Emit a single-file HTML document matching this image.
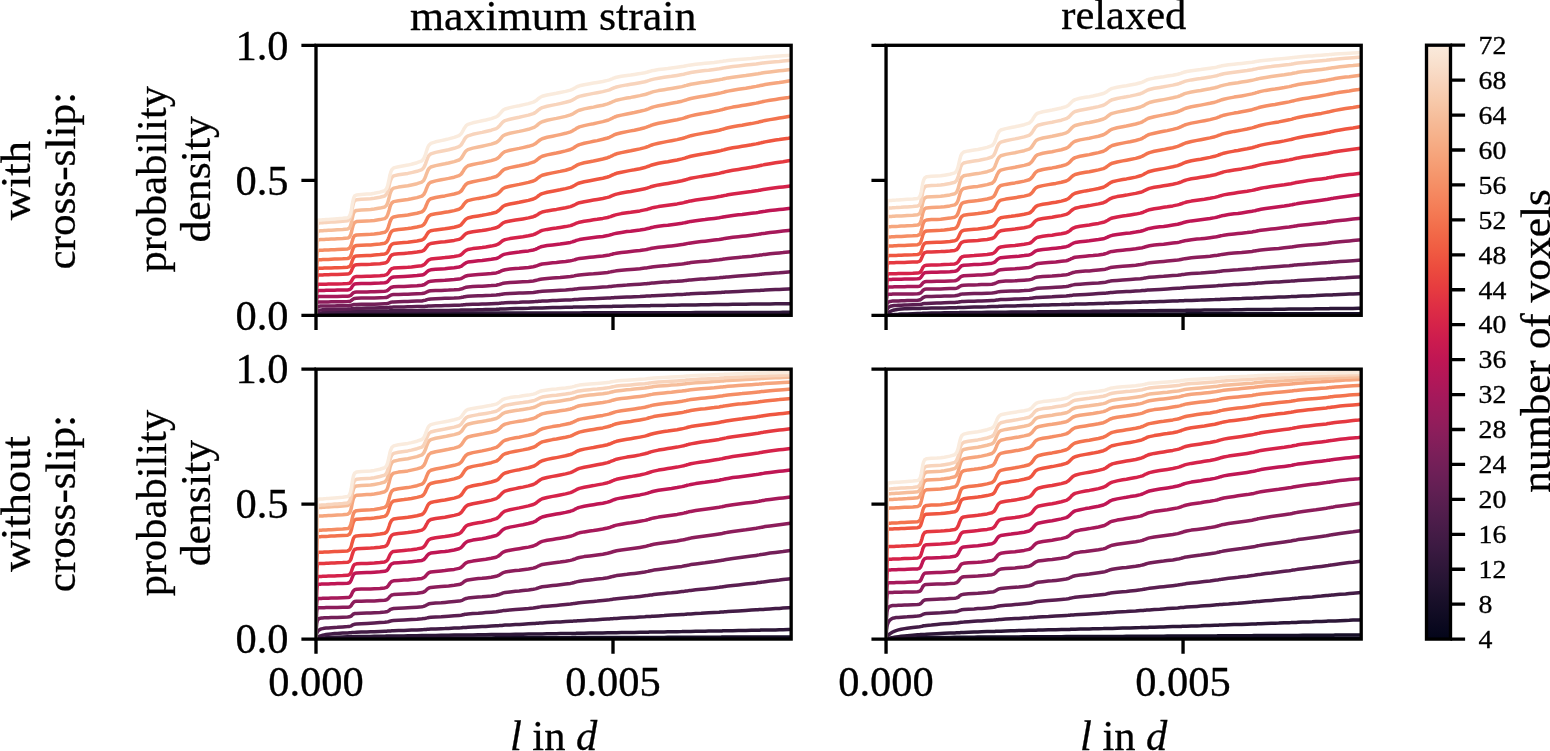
<!DOCTYPE html>
<html><head><meta charset="utf-8"><style>html,body{margin:0;padding:0;background:#fff;overflow:hidden}svg{display:block}</style></head><body>
<svg width="1550" height="751" viewBox="0 0 1550 751">
<defs>
<clipPath id="c1"><rect x="316.0" y="45.3" width="475.15" height="270.0"/></clipPath>
<clipPath id="c2"><rect x="886.05" y="45.3" width="475.15" height="270.0"/></clipPath>
<clipPath id="c3"><rect x="316.0" y="369.15" width="475.15" height="269.9"/></clipPath>
<clipPath id="c4"><rect x="886.05" y="369.15" width="475.15" height="269.9"/></clipPath>
<linearGradient id="cb" x1="0" y1="1" x2="0" y2="0">
<stop offset="0.0000" stop-color="#03051a"/>
<stop offset="0.0312" stop-color="#0d0a21"/>
<stop offset="0.0625" stop-color="#180f29"/>
<stop offset="0.0938" stop-color="#241432"/>
<stop offset="0.1250" stop-color="#30173a"/>
<stop offset="0.1562" stop-color="#3c1a42"/>
<stop offset="0.1875" stop-color="#481c48"/>
<stop offset="0.2188" stop-color="#541e4e"/>
<stop offset="0.2500" stop-color="#611f53"/>
<stop offset="0.2812" stop-color="#6e1f57"/>
<stop offset="0.3125" stop-color="#7b1f59"/>
<stop offset="0.3438" stop-color="#891e5b"/>
<stop offset="0.3750" stop-color="#971c5b"/>
<stop offset="0.4062" stop-color="#a4195b"/>
<stop offset="0.4375" stop-color="#b21758"/>
<stop offset="0.4688" stop-color="#bf1654"/>
<stop offset="0.5000" stop-color="#cb1b4f"/>
<stop offset="0.5312" stop-color="#d62449"/>
<stop offset="0.5625" stop-color="#df2f44"/>
<stop offset="0.5938" stop-color="#e73d3f"/>
<stop offset="0.6250" stop-color="#ec4c3e"/>
<stop offset="0.6562" stop-color="#f05c42"/>
<stop offset="0.6875" stop-color="#f26b49"/>
<stop offset="0.7188" stop-color="#f47a54"/>
<stop offset="0.7500" stop-color="#f58860"/>
<stop offset="0.7812" stop-color="#f5966c"/>
<stop offset="0.8125" stop-color="#f6a37a"/>
<stop offset="0.8438" stop-color="#f6b089"/>
<stop offset="0.8750" stop-color="#f6bc99"/>
<stop offset="0.9062" stop-color="#f7c9aa"/>
<stop offset="0.9375" stop-color="#f8d4bc"/>
<stop offset="0.9688" stop-color="#f9e0cd"/>
<stop offset="1.0000" stop-color="#faebdd"/>
</linearGradient>
</defs>
<rect width="1550" height="751" fill="#fff"/>
<g clip-path="url(#c1)" fill="none" stroke-width="3.5" stroke-linejoin="round" stroke-linecap="butt">
<polyline points="316.0,315.3 316.1,315.3 316.1,315.3 316.2,315.3 316.2,315.3 316.3,315.3 316.3,315.3 316.4,315.3 316.5,315.3 316.6,315.3 316.7,315.3 316.9,315.3 317.1,315.3 317.3,315.3 317.6,315.3 318.0,315.3 318.4,315.2 318.9,315.2 319.6,315.2 320.4,315.2 321.4,315.2 322.7,315.2 324.2,315.2 326.1,315.1 328.3,315.1 331.1,315.1 334.6,315.1 337.2,315.1 342.7,315.1 347.6,315.0 349.4,315.0 350.5,315.0 351.3,315.0 352.0,315.0 352.8,315.0 353.5,315.0 354.6,315.0 356.5,315.0 361.3,315.0 366.9,315.0 370.6,315.0 374.3,315.0 379.9,315.0 384.7,315.0 386.6,315.0 387.7,315.0 388.4,315.0 389.2,315.0 389.9,315.0 390.7,315.0 391.8,315.0 393.6,315.0 398.5,315.0 404.0,315.0 407.8,315.0 411.5,315.0 417.0,315.0 421.9,315.0 423.7,315.0 424.8,315.0 425.6,315.0 426.3,315.0 427.1,315.0 427.8,315.0 428.9,315.0 430.8,315.0 435.6,315.0 441.2,315.0 444.9,315.0 448.6,315.0 454.2,315.0 459.0,315.0 460.9,315.0 462.0,315.0 462.7,315.0 463.5,315.0 464.2,315.0 465.0,315.0 466.1,315.0 467.9,315.0 472.8,315.0 478.3,315.0 482.1,315.0 485.8,315.0 491.3,315.0 496.2,315.0 498.0,315.0 499.1,315.0 499.9,315.0 500.6,315.0 501.4,315.0 502.1,315.0 503.2,315.0 505.1,315.0 509.9,315.0 515.5,315.0 519.2,315.0 522.9,315.0 528.5,315.0 533.3,315.0 535.2,315.0 536.3,315.0 537.0,315.0 537.8,315.0 538.5,315.0 539.3,315.0 540.4,315.0 542.2,315.0 547.1,315.0 552.6,315.0 556.4,315.0 560.1,315.0 565.6,315.0 570.5,315.0 572.3,315.0 573.4,315.0 574.2,315.0 574.9,315.0 575.7,315.0 576.4,315.0 577.5,315.0 579.4,315.0 584.2,315.0 589.8,315.0 593.5,315.0 597.2,315.0 602.8,315.0 607.6,315.0 609.5,315.0 610.6,315.0 611.3,315.0 612.1,315.0 612.8,315.0 613.6,315.0 614.7,315.0 616.5,315.0 621.4,315.0 626.9,315.0 630.7,315.0 634.4,315.0 639.9,315.0 644.8,315.0 646.6,315.0 647.7,315.0 648.5,315.0 649.2,315.0 650.0,315.0 650.7,315.0 651.8,315.0 653.7,315.0 658.5,315.0 664.1,315.0 667.8,315.0 671.5,315.0 677.1,315.0 681.9,315.0 683.8,315.0 684.9,315.0 685.6,315.0 686.4,315.0 687.1,315.0 687.9,315.0 689.0,315.0 690.8,315.0 695.7,315.0 701.2,315.0 705.0,315.0 708.7,315.0 714.2,315.0 719.1,315.0 720.9,315.0 722.0,315.0 722.8,315.0 723.5,315.0 724.3,315.0 725.0,315.0 726.1,315.0 728.0,315.0 732.8,315.0 738.4,315.0 742.1,315.0 745.8,315.0 751.4,315.0 756.2,315.0 758.1,315.0 759.2,315.0 759.9,315.0 760.7,315.0 761.4,315.0 762.2,315.0 763.3,315.0 765.1,315.0 770.0,315.0 775.5,315.0 779.3,315.0 783.0,315.0 788.5,315.0 793.4,315.0 795.2,315.0 796.3,315.0 797.1,315.0 797.8,315.0 798.6,315.0 793.0,315.0" stroke="#03051a"/>
<polyline points="316.0,315.3 316.1,315.3 316.1,315.3 316.2,315.3 316.2,315.3 316.3,315.3 316.3,315.3 316.4,315.3 316.5,315.3 316.6,315.3 316.7,315.2 316.9,315.2 317.1,315.2 317.3,315.2 317.6,315.2 318.0,315.1 318.4,315.1 318.9,315.0 319.6,315.0 320.4,314.9 321.4,314.9 322.7,314.8 324.2,314.7 326.1,314.6 328.3,314.6 331.1,314.5 334.6,314.4 337.2,314.4 342.7,314.3 347.6,314.3 349.4,314.3 350.5,314.3 351.3,314.3 352.0,314.3 352.8,314.3 353.5,314.3 354.6,314.2 356.5,314.2 361.3,314.2 366.9,314.2 370.6,314.2 374.3,314.2 379.9,314.2 384.7,314.2 386.6,314.2 387.7,314.2 388.4,314.2 389.2,314.2 389.9,314.2 390.7,314.2 391.8,314.2 393.6,314.2 398.5,314.2 404.0,314.2 407.8,314.2 411.5,314.2 417.0,314.2 421.9,314.2 423.7,314.2 424.8,314.2 425.6,314.2 426.3,314.2 427.1,314.2 427.8,314.2 428.9,314.2 430.8,314.2 435.6,314.2 441.2,314.2 444.9,314.2 448.6,314.2 454.2,314.2 459.0,314.2 460.9,314.2 462.0,314.2 462.7,314.2 463.5,314.2 464.2,314.2 465.0,314.2 466.1,314.2 467.9,314.2 472.8,314.2 478.3,314.2 482.1,314.2 485.8,314.2 491.3,314.2 496.2,314.2 498.0,314.2 499.1,314.2 499.9,314.2 500.6,314.2 501.4,314.2 502.1,314.2 503.2,314.2 505.1,314.2 509.9,314.2 515.5,314.2 519.2,314.2 522.9,314.2 528.5,314.2 533.3,314.2 535.2,314.2 536.3,314.2 537.0,314.2 537.8,314.2 538.5,314.2 539.3,314.2 540.4,314.2 542.2,314.2 547.1,314.2 552.6,314.2 556.4,314.2 560.1,314.2 565.6,314.2 570.5,314.2 572.3,314.2 573.4,314.2 574.2,314.2 574.9,314.2 575.7,314.2 576.4,314.2 577.5,314.2 579.4,314.2 584.2,314.2 589.8,314.2 593.5,314.2 597.2,314.2 602.8,314.2 607.6,314.2 609.5,314.2 610.6,314.2 611.3,314.2 612.1,314.2 612.8,314.2 613.6,314.2 614.7,314.2 616.5,314.2 621.4,314.2 626.9,314.2 630.7,314.2 634.4,314.2 639.9,314.2 644.8,314.2 646.6,314.2 647.7,314.2 648.5,314.2 649.2,314.2 650.0,314.2 650.7,314.2 651.8,314.2 653.7,314.2 658.5,314.2 664.1,314.2 667.8,314.2 671.5,314.2 677.1,314.2 681.9,314.2 683.8,314.2 684.9,314.2 685.6,314.2 686.4,314.2 687.1,314.2 687.9,314.2 689.0,314.2 690.8,314.2 695.7,314.2 701.2,314.2 705.0,314.2 708.7,314.2 714.2,314.2 719.1,314.2 720.9,314.2 722.0,314.2 722.8,314.2 723.5,314.2 724.3,314.2 725.0,314.2 726.1,314.2 728.0,314.2 732.8,314.2 738.4,314.2 742.1,314.2 745.8,314.2 751.4,314.2 756.2,314.2 758.1,314.2 759.2,314.2 759.9,314.2 760.7,314.2 761.4,314.2 762.2,314.2 763.3,314.2 765.1,314.2 770.0,314.2 775.5,314.2 779.3,314.2 783.0,314.2 788.5,314.2 793.4,314.2 795.2,314.2 796.3,314.2 797.1,314.2 797.8,314.2 798.6,314.2 793.0,314.2" stroke="#170f28"/>
<polyline points="316.0,315.3 316.1,315.3 316.1,315.3 316.2,315.3 316.2,315.3 316.3,315.3 316.3,315.3 316.4,315.3 316.5,315.2 316.6,315.2 316.7,315.2 316.9,315.2 317.1,315.1 317.3,315.1 317.6,315.0 318.0,315.0 318.4,314.9 318.9,314.8 319.6,314.7 320.4,314.6 321.4,314.5 322.7,314.3 324.2,314.2 326.1,314.0 328.3,313.9 331.1,313.7 334.6,313.5 337.2,313.4 342.7,313.3 347.6,313.2 349.4,313.1 350.5,313.1 351.3,313.1 352.0,313.1 352.8,313.1 353.5,313.1 354.6,313.1 356.5,313.0 361.3,313.0 366.9,312.9 370.6,312.9 374.3,312.9 379.9,312.9 384.7,312.9 386.6,312.9 387.7,312.9 388.4,312.9 389.2,312.9 389.9,312.9 390.7,312.9 391.8,312.9 393.6,312.9 398.5,312.9 404.0,312.9 407.8,312.9 411.5,312.9 417.0,312.9 421.9,312.9 423.7,312.9 424.8,312.9 425.6,312.9 426.3,312.9 427.1,312.9 427.8,312.9 428.9,312.9 430.8,312.9 435.6,312.9 441.2,312.9 444.9,312.9 448.6,312.9 454.2,312.9 459.0,312.9 460.9,312.9 462.0,312.9 462.7,312.9 463.5,312.9 464.2,312.9 465.0,312.9 466.1,312.9 467.9,312.9 472.8,312.9 478.3,312.9 482.1,312.9 485.8,312.9 491.3,312.9 496.2,312.9 498.0,312.9 499.1,312.9 499.9,312.9 500.6,312.9 501.4,312.9 502.1,312.9 503.2,312.9 505.1,312.9 509.9,312.9 515.5,312.9 519.2,312.9 522.9,312.9 528.5,312.9 533.3,312.9 535.2,312.9 536.3,312.9 537.0,312.9 537.8,312.9 538.5,312.9 539.3,312.9 540.4,312.9 542.2,312.9 547.1,312.9 552.6,312.9 556.4,312.9 560.1,312.9 565.6,312.9 570.5,312.9 572.3,312.9 573.4,312.9 574.2,312.9 574.9,312.9 575.7,312.9 576.4,312.9 577.5,312.9 579.4,312.9 584.2,312.8 589.8,312.8 593.5,312.8 597.2,312.8 602.8,312.8 607.6,312.8 609.5,312.8 610.6,312.8 611.3,312.8 612.1,312.8 612.8,312.8 613.6,312.8 614.7,312.8 616.5,312.8 621.4,312.8 626.9,312.8 630.7,312.8 634.4,312.8 639.9,312.8 644.8,312.8 646.6,312.8 647.7,312.8 648.5,312.8 649.2,312.8 650.0,312.8 650.7,312.8 651.8,312.7 653.7,312.7 658.5,312.7 664.1,312.7 667.8,312.7 671.5,312.7 677.1,312.7 681.9,312.7 683.8,312.7 684.9,312.7 685.6,312.7 686.4,312.7 687.1,312.7 687.9,312.7 689.0,312.7 690.8,312.7 695.7,312.6 701.2,312.6 705.0,312.6 708.7,312.6 714.2,312.6 719.1,312.6 720.9,312.6 722.0,312.6 722.8,312.6 723.5,312.6 724.3,312.6 725.0,312.5 726.1,312.5 728.0,312.5 732.8,312.5 738.4,312.5 742.1,312.5 745.8,312.5 751.4,312.5 756.2,312.4 758.1,312.4 759.2,312.4 759.9,312.4 760.7,312.4 761.4,312.4 762.2,312.4 763.3,312.4 765.1,312.4 770.0,312.4 775.5,312.4 779.3,312.4 783.0,312.3 788.5,312.3 793.4,312.3 795.2,312.3 796.3,312.3 797.1,312.3 797.8,312.3 798.6,312.3 793.0,312.3" stroke="#2d1738"/>
<polyline points="316.0,315.3 316.1,315.1 316.1,315.1 316.2,315.1 316.2,315.0 316.3,315.0 316.3,314.9 316.4,314.8 316.5,314.7 316.6,314.6 316.7,314.5 316.9,314.4 317.1,314.3 317.3,314.2 317.6,314.1 318.0,313.9 318.4,313.7 318.9,313.6 319.6,313.4 320.4,313.1 321.4,312.9 322.7,312.6 324.2,312.4 326.1,312.2 328.3,312.0 331.1,311.8 334.6,311.7 337.2,311.6 342.7,311.5 347.6,311.4 349.4,311.3 350.5,311.3 351.3,311.3 352.0,311.3 352.8,311.2 353.5,311.2 354.6,311.2 356.5,311.2 361.3,311.1 366.9,311.0 370.6,311.0 374.3,311.0 379.9,310.9 384.7,310.9 386.6,310.9 387.7,310.9 388.4,310.9 389.2,310.9 389.9,310.8 390.7,310.8 391.8,310.8 393.6,310.8 398.5,310.8 404.0,310.7 407.8,310.7 411.5,310.7 417.0,310.7 421.9,310.6 423.7,310.6 424.8,310.6 425.6,310.6 426.3,310.6 427.1,310.6 427.8,310.6 428.9,310.6 430.8,310.5 435.6,310.5 441.2,310.5 444.9,310.4 448.6,310.4 454.2,310.3 459.0,310.2 460.9,310.1 462.0,310.1 462.7,310.1 463.5,310.1 464.2,310.0 465.0,310.0 466.1,310.0 467.9,309.9 472.8,309.9 478.3,309.7 482.1,309.7 485.8,309.6 491.3,309.4 496.2,309.3 498.0,309.2 499.1,309.2 499.9,309.1 500.6,309.1 501.4,309.1 502.1,309.0 503.2,309.0 505.1,308.9 509.9,308.8 515.5,308.6 519.2,308.5 522.9,308.4 528.5,308.3 533.3,308.1 535.2,308.1 536.3,308.1 537.0,308.0 537.8,308.0 538.5,308.0 539.3,308.0 540.4,307.9 542.2,307.9 547.1,307.7 552.6,307.6 556.4,307.5 560.1,307.4 565.6,307.3 570.5,307.2 572.3,307.2 573.4,307.1 574.2,307.1 574.9,307.1 575.7,307.1 576.4,307.1 577.5,307.0 579.4,307.0 584.2,306.9 589.8,306.8 593.5,306.7 597.2,306.7 602.8,306.6 607.6,306.5 609.5,306.4 610.6,306.4 611.3,306.4 612.1,306.4 612.8,306.3 613.6,306.3 614.7,306.3 616.5,306.3 621.4,306.2 626.9,306.1 630.7,306.0 634.4,305.9 639.9,305.8 644.8,305.8 646.6,305.7 647.7,305.7 648.5,305.7 649.2,305.7 650.0,305.7 650.7,305.6 651.8,305.6 653.7,305.6 658.5,305.5 664.1,305.4 667.8,305.3 671.5,305.3 677.1,305.2 681.9,305.1 683.8,305.1 684.9,305.1 685.6,305.0 686.4,305.0 687.1,305.0 687.9,305.0 689.0,305.0 690.8,305.0 695.7,304.9 701.2,304.8 705.0,304.7 708.7,304.7 714.2,304.6 719.1,304.5 720.9,304.5 722.0,304.5 722.8,304.5 723.5,304.5 724.3,304.5 725.0,304.4 726.1,304.4 728.0,304.4 732.8,304.3 738.4,304.3 742.1,304.2 745.8,304.2 751.4,304.1 756.2,304.0 758.1,304.0 759.2,304.0 759.9,304.0 760.7,304.0 761.4,304.0 762.2,304.0 763.3,304.0 765.1,303.9 770.0,303.9 775.5,303.8 779.3,303.8 783.0,303.7 788.5,303.7 793.4,303.7 795.2,303.6 796.3,303.6 797.1,303.6 797.8,303.6 798.6,303.6 793.0,303.7" stroke="#431c46"/>
<polyline points="316.0,315.3 316.1,314.6 316.1,314.4 316.2,314.3 316.2,314.1 316.3,313.8 316.3,313.6 316.4,313.3 316.5,313.1 316.6,312.8 316.7,312.5 316.9,312.2 317.1,311.9 317.3,311.6 317.6,311.3 318.0,311.1 318.4,310.8 318.9,310.6 319.6,310.3 320.4,310.1 321.4,309.9 322.7,309.8 324.2,309.7 326.1,309.6 328.3,309.5 331.1,309.4 334.6,309.4 337.2,309.3 342.7,309.2 347.6,309.1 349.4,309.0 350.5,308.9 351.3,308.8 352.0,308.7 352.8,308.6 353.5,308.5 354.6,308.4 356.5,308.3 361.3,308.2 366.9,308.1 370.6,308.0 374.3,308.0 379.9,307.8 384.7,307.7 386.6,307.7 387.7,307.6 388.4,307.5 389.2,307.4 389.9,307.3 390.7,307.3 391.8,307.2 393.6,307.1 398.5,307.0 404.0,306.9 407.8,306.8 411.5,306.8 417.0,306.6 421.9,306.5 423.7,306.4 424.8,306.4 425.6,306.3 426.3,306.2 427.1,306.2 427.8,306.1 428.9,306.0 430.8,305.9 435.6,305.8 441.2,305.7 444.9,305.6 448.6,305.5 454.2,305.3 459.0,305.2 460.9,305.1 462.0,305.0 462.7,304.9 463.5,304.8 464.2,304.8 465.0,304.7 466.1,304.6 467.9,304.5 472.8,304.3 478.3,304.2 482.1,304.0 485.8,303.9 491.3,303.7 496.2,303.5 498.0,303.4 499.1,303.3 499.9,303.2 500.6,303.2 501.4,303.1 502.1,303.0 503.2,302.9 505.1,302.8 509.9,302.6 515.5,302.4 519.2,302.3 522.9,302.1 528.5,301.9 533.3,301.7 535.2,301.6 536.3,301.5 537.0,301.5 537.8,301.4 538.5,301.3 539.3,301.3 540.4,301.2 542.2,301.1 547.1,300.9 552.6,300.6 556.4,300.5 560.1,300.3 565.6,300.1 570.5,299.9 572.3,299.8 573.4,299.7 574.2,299.6 574.9,299.6 575.7,299.5 576.4,299.5 577.5,299.4 579.4,299.3 584.2,299.1 589.8,298.8 593.5,298.7 597.2,298.5 602.8,298.3 607.6,298.1 609.5,298.0 610.6,297.9 611.3,297.8 612.1,297.8 612.8,297.7 613.6,297.7 614.7,297.6 616.5,297.5 621.4,297.3 626.9,297.0 630.7,296.9 634.4,296.7 639.9,296.5 644.8,296.2 646.6,296.1 647.7,296.1 648.5,296.0 649.2,296.0 650.0,295.9 650.7,295.9 651.8,295.8 653.7,295.7 658.5,295.5 664.1,295.2 667.8,295.0 671.5,294.9 677.1,294.6 681.9,294.4 683.8,294.3 684.9,294.2 685.6,294.2 686.4,294.1 687.1,294.1 687.9,294.0 689.0,293.9 690.8,293.8 695.7,293.6 701.2,293.3 705.0,293.2 708.7,293.0 714.2,292.7 719.1,292.5 720.9,292.4 722.0,292.3 722.8,292.3 723.5,292.2 724.3,292.2 725.0,292.1 726.1,292.1 728.0,292.0 732.8,291.7 738.4,291.5 742.1,291.3 745.8,291.1 751.4,290.8 756.2,290.6 758.1,290.5 759.2,290.4 759.9,290.4 760.7,290.3 761.4,290.3 762.2,290.2 763.3,290.2 765.1,290.1 770.0,289.8 775.5,289.5 779.3,289.4 783.0,289.2 788.5,288.9 793.4,288.6 795.2,288.5 796.3,288.5 797.1,288.4 797.8,288.4 798.6,288.3 793.0,288.6" stroke="#5b1e51"/>
<polyline points="316.0,315.3 316.1,313.3 316.1,313.0 316.2,312.5 316.2,312.1 316.3,311.5 316.3,311.0 316.4,310.4 316.5,309.8 316.6,309.2 316.7,308.6 316.9,308.1 317.1,307.7 317.3,307.3 317.6,307.0 318.0,306.8 318.4,306.6 318.9,306.4 319.6,306.2 320.4,306.1 321.4,306.1 322.7,306.0 324.2,306.0 326.1,305.9 328.3,305.9 331.1,305.9 334.6,305.9 337.2,305.8 342.7,305.8 347.6,305.7 349.4,305.6 350.5,305.5 351.3,305.3 352.0,305.0 352.8,304.8 353.5,304.6 354.6,304.5 356.5,304.4 361.3,304.3 366.9,304.3 370.6,304.2 374.3,304.2 379.9,304.0 384.7,303.8 386.6,303.7 387.7,303.4 388.4,303.2 389.2,302.9 389.9,302.6 390.7,302.3 391.8,302.1 393.6,301.9 398.5,301.7 404.0,301.6 407.8,301.5 411.5,301.3 417.0,301.1 421.9,300.9 423.7,300.6 424.8,300.4 425.6,300.2 426.3,299.9 427.1,299.6 427.8,299.4 428.9,299.2 430.8,298.9 435.6,298.7 441.2,298.5 444.9,298.3 448.6,298.2 454.2,298.0 459.0,297.7 460.9,297.5 462.0,297.3 462.7,297.2 463.5,297.0 464.2,296.8 465.0,296.7 466.1,296.5 467.9,296.3 472.8,296.0 478.3,295.8 482.1,295.7 485.8,295.5 491.3,295.3 496.2,295.0 498.0,294.8 499.1,294.7 499.9,294.5 500.6,294.4 501.4,294.3 502.1,294.2 503.2,294.0 505.1,293.8 509.9,293.5 515.5,293.3 519.2,293.1 522.9,293.0 528.5,292.7 533.3,292.4 535.2,292.2 536.3,292.1 537.0,291.9 537.8,291.8 538.5,291.7 539.3,291.6 540.4,291.4 542.2,291.3 547.1,291.0 552.6,290.7 556.4,290.5 560.1,290.3 565.6,290.0 570.5,289.6 572.3,289.5 573.4,289.3 574.2,289.2 574.9,289.1 575.7,289.0 576.4,288.9 577.5,288.8 579.4,288.6 584.2,288.2 589.8,287.9 593.5,287.7 597.2,287.5 602.8,287.1 607.6,286.8 609.5,286.6 610.6,286.5 611.3,286.4 612.1,286.3 612.8,286.2 613.6,286.1 614.7,285.9 616.5,285.8 621.4,285.4 626.9,285.1 630.7,284.8 634.4,284.6 639.9,284.2 644.8,283.8 646.6,283.7 647.7,283.5 648.5,283.4 649.2,283.4 650.0,283.3 650.7,283.2 651.8,283.1 653.7,282.9 658.5,282.5 664.1,282.1 667.8,281.9 671.5,281.6 677.1,281.3 681.9,280.9 683.8,280.7 684.9,280.6 685.6,280.5 686.4,280.4 687.1,280.3 687.9,280.2 689.0,280.1 690.8,279.9 695.7,279.5 701.2,279.1 705.0,278.9 708.7,278.6 714.2,278.2 719.1,277.8 720.9,277.6 722.0,277.5 722.8,277.4 723.5,277.3 724.3,277.3 725.0,277.2 726.1,277.1 728.0,276.9 732.8,276.5 738.4,276.1 742.1,275.8 745.8,275.5 751.4,275.1 756.2,274.7 758.1,274.5 759.2,274.4 759.9,274.3 760.7,274.2 761.4,274.2 762.2,274.1 763.3,274.0 765.1,273.8 770.0,273.4 775.5,272.9 779.3,272.7 783.0,272.4 788.5,271.9 793.4,271.5 795.2,271.3 796.3,271.2 797.1,271.1 797.8,271.1 798.6,271.0 793.0,271.5" stroke="#731f58"/>
<polyline points="316.0,315.3 316.1,311.5 316.1,310.8 316.2,310.0 316.2,309.1 316.3,308.2 316.3,307.2 316.4,306.2 316.5,305.2 316.6,304.3 316.7,303.6 316.9,303.0 317.1,302.5 317.3,302.2 317.6,302.1 318.0,302.0 318.4,302.0 318.9,302.0 319.6,302.0 320.4,301.9 321.4,301.9 322.7,301.9 324.2,301.9 326.1,301.9 328.3,301.9 331.1,301.8 334.6,301.8 337.2,301.8 342.7,301.7 347.6,301.6 349.4,301.5 350.5,301.1 351.3,300.6 352.0,299.9 352.8,299.3 353.5,298.8 354.6,298.4 356.5,298.2 361.3,298.1 366.9,298.1 370.6,298.0 374.3,298.0 379.9,297.8 384.7,297.6 386.6,297.4 387.7,297.0 388.4,296.6 389.2,296.1 389.9,295.6 390.7,295.2 391.8,294.8 393.6,294.6 398.5,294.4 404.0,294.3 407.8,294.2 411.5,294.0 417.0,293.8 421.9,293.6 423.7,293.3 424.8,292.9 425.6,292.6 426.3,292.2 427.1,291.8 427.8,291.5 428.9,291.1 430.8,290.8 435.6,290.6 441.2,290.4 444.9,290.2 448.6,290.1 454.2,289.8 459.0,289.4 460.9,289.1 462.0,288.8 462.7,288.5 463.5,288.2 464.2,287.9 465.0,287.6 466.1,287.3 467.9,287.0 472.8,286.6 478.3,286.3 482.1,286.2 485.8,285.9 491.3,285.6 496.2,285.2 498.0,284.8 499.1,284.6 499.9,284.3 500.6,284.1 501.4,283.8 502.1,283.6 503.2,283.3 505.1,283.0 509.9,282.6 515.5,282.2 519.2,282.0 522.9,281.8 528.5,281.4 533.3,280.9 535.2,280.6 536.3,280.3 537.0,280.1 537.8,279.9 538.5,279.7 539.3,279.5 540.4,279.3 542.2,279.0 547.1,278.5 552.6,278.1 556.4,277.8 560.1,277.6 565.6,277.1 570.5,276.6 572.3,276.3 573.4,276.1 574.2,275.9 574.9,275.7 575.7,275.6 576.4,275.4 577.5,275.2 579.4,274.9 584.2,274.4 589.8,273.9 593.5,273.7 597.2,273.4 602.8,272.9 607.6,272.4 609.5,272.1 610.6,271.9 611.3,271.7 612.1,271.6 612.8,271.4 613.6,271.3 614.7,271.1 616.5,270.8 621.4,270.3 626.9,269.8 630.7,269.5 634.4,269.2 639.9,268.7 644.8,268.1 646.6,267.9 647.7,267.7 648.5,267.6 649.2,267.4 650.0,267.3 650.7,267.2 651.8,267.0 653.7,266.7 658.5,266.2 664.1,265.7 667.8,265.4 671.5,265.0 677.1,264.5 681.9,264.0 683.8,263.7 684.9,263.5 685.6,263.4 686.4,263.3 687.1,263.2 687.9,263.0 689.0,262.9 690.8,262.6 695.7,262.1 701.2,261.5 705.0,261.2 708.7,260.9 714.2,260.3 719.1,259.8 720.9,259.5 722.0,259.4 722.8,259.2 723.5,259.1 724.3,259.0 725.0,258.9 726.1,258.7 728.0,258.5 732.8,258.0 738.4,257.4 742.1,257.1 745.8,256.7 751.4,256.2 756.2,255.6 758.1,255.4 759.2,255.2 759.9,255.1 760.7,255.0 761.4,254.9 762.2,254.8 763.3,254.6 765.1,254.4 770.0,253.8 775.5,253.3 779.3,252.9 783.0,252.6 788.5,252.0 793.4,251.4 795.2,251.2 796.3,251.1 797.1,251.0 797.8,250.9 798.6,250.8 793.0,251.5" stroke="#8c1d5b"/>
<polyline points="316.0,315.3 316.1,309.9 316.1,308.9 316.2,307.8 316.2,306.5 316.3,305.2 316.3,303.9 316.4,302.5 316.5,301.1 316.6,299.9 316.7,298.8 316.9,298.0 317.1,297.4 317.3,297.0 317.6,296.8 318.0,296.7 318.4,296.6 318.9,296.6 319.6,296.6 320.4,296.6 321.4,296.6 322.7,296.5 324.2,296.5 326.1,296.5 328.3,296.5 331.1,296.4 334.6,296.4 337.2,296.4 342.7,296.3 347.6,296.2 349.4,296.0 350.5,295.5 351.3,294.9 352.0,294.1 352.8,293.3 353.5,292.7 354.6,292.3 356.5,292.0 361.3,291.9 366.9,291.9 370.6,291.8 374.3,291.7 379.9,291.5 384.7,291.3 386.6,290.9 387.7,290.3 388.4,289.7 389.2,289.0 389.9,288.3 390.7,287.7 391.8,287.2 393.6,286.8 398.5,286.6 404.0,286.4 407.8,286.2 411.5,286.0 417.0,285.7 421.9,285.3 423.7,284.8 424.8,284.3 425.6,283.8 426.3,283.2 427.1,282.7 427.8,282.2 428.9,281.6 430.8,281.2 435.6,280.8 441.2,280.5 444.9,280.3 448.6,280.0 454.2,279.6 459.0,279.1 460.9,278.6 462.0,278.1 462.7,277.7 463.5,277.3 464.2,276.8 465.0,276.4 466.1,276.0 467.9,275.5 472.8,275.0 478.3,274.6 482.1,274.3 485.8,274.0 491.3,273.5 496.2,272.9 498.0,272.4 499.1,272.0 499.9,271.6 500.6,271.3 501.4,270.9 502.1,270.6 503.2,270.2 505.1,269.7 509.9,269.1 515.5,268.6 519.2,268.3 522.9,267.9 528.5,267.4 533.3,266.7 535.2,266.3 536.3,265.9 537.0,265.7 537.8,265.4 538.5,265.1 539.3,264.8 540.4,264.5 542.2,264.0 547.1,263.4 552.6,262.8 556.4,262.5 560.1,262.1 565.6,261.5 570.5,260.8 572.3,260.4 573.4,260.1 574.2,259.9 574.9,259.7 575.7,259.5 576.4,259.2 577.5,258.9 579.4,258.5 584.2,257.9 589.8,257.3 593.5,256.9 597.2,256.5 602.8,255.9 607.6,255.2 609.5,254.9 610.6,254.6 611.3,254.4 612.1,254.2 612.8,254.0 613.6,253.8 614.7,253.6 616.5,253.2 621.4,252.5 626.9,251.9 630.7,251.5 634.4,251.1 639.9,250.5 644.8,249.8 646.6,249.5 647.7,249.2 648.5,249.1 649.2,248.9 650.0,248.7 650.7,248.5 651.8,248.3 653.7,248.0 658.5,247.3 664.1,246.7 667.8,246.3 671.5,245.9 677.1,245.2 681.9,244.6 683.8,244.2 684.9,244.0 685.6,243.9 686.4,243.7 687.1,243.6 687.9,243.4 689.0,243.2 690.8,242.9 695.7,242.2 701.2,241.6 705.0,241.2 708.7,240.8 714.2,240.1 719.1,239.5 720.9,239.2 722.0,239.0 722.8,238.9 723.5,238.7 724.3,238.6 725.0,238.5 726.1,238.3 728.0,238.0 732.8,237.3 738.4,236.7 742.1,236.3 745.8,235.9 751.4,235.2 756.2,234.6 758.1,234.3 759.2,234.1 759.9,234.0 760.7,233.9 761.4,233.7 762.2,233.6 763.3,233.4 765.1,233.2 770.0,232.5 775.5,231.9 779.3,231.5 783.0,231.1 788.5,230.4 793.4,229.8 795.2,229.5 796.3,229.4 797.1,229.3 797.8,229.2 798.6,229.0 793.0,229.9" stroke="#a6195a"/>
<polyline points="316.0,315.3 316.1,308.0 316.1,306.7 316.2,305.2 316.2,303.6 316.3,301.9 316.3,300.0 316.4,298.2 316.5,296.4 316.6,294.8 316.7,293.4 316.9,292.3 317.1,291.5 317.3,291.0 317.6,290.7 318.0,290.6 318.4,290.5 318.9,290.5 319.6,290.5 320.4,290.5 321.4,290.4 322.7,290.4 324.2,290.4 326.1,290.3 328.3,290.3 331.1,290.3 334.6,290.2 337.2,290.1 342.7,290.0 347.6,289.9 349.4,289.6 350.5,288.9 351.3,288.0 352.0,286.8 352.8,285.6 353.5,284.8 354.6,284.1 356.5,283.8 361.3,283.6 366.9,283.5 370.6,283.5 374.3,283.3 379.9,283.1 384.7,282.7 386.6,282.2 387.7,281.5 388.4,280.7 389.2,279.8 389.9,278.9 390.7,278.2 391.8,277.5 393.6,277.0 398.5,276.7 404.0,276.4 407.8,276.2 411.5,276.0 417.0,275.6 421.9,275.1 423.7,274.5 424.8,273.8 425.6,273.2 426.3,272.4 427.1,271.7 427.8,271.1 428.9,270.4 430.8,269.8 435.6,269.3 441.2,268.9 444.9,268.7 448.6,268.3 454.2,267.7 459.0,267.0 460.9,266.4 462.0,265.7 462.7,265.2 463.5,264.5 464.2,263.9 465.0,263.4 466.1,262.7 467.9,262.1 472.8,261.4 478.3,260.8 482.1,260.5 485.8,260.0 491.3,259.3 496.2,258.5 498.0,257.8 499.1,257.2 499.9,256.7 500.6,256.2 501.4,255.7 502.1,255.3 503.2,254.7 505.1,254.1 509.9,253.2 515.5,252.5 519.2,252.1 522.9,251.6 528.5,250.9 533.3,250.0 535.2,249.4 536.3,249.0 537.0,248.6 537.8,248.2 538.5,247.8 539.3,247.5 540.4,247.0 542.2,246.4 547.1,245.6 552.6,244.9 556.4,244.4 560.1,244.0 565.6,243.2 570.5,242.4 572.3,241.9 573.4,241.5 574.2,241.3 574.9,241.0 575.7,240.7 576.4,240.4 577.5,240.1 579.4,239.6 584.2,238.8 589.8,238.1 593.5,237.6 597.2,237.1 602.8,236.4 607.6,235.6 609.5,235.1 610.6,234.8 611.3,234.6 612.1,234.4 612.8,234.1 613.6,233.9 614.7,233.6 616.5,233.2 621.4,232.4 626.9,231.6 630.7,231.2 634.4,230.7 639.9,230.0 644.8,229.2 646.6,228.8 647.7,228.5 648.5,228.4 649.2,228.2 650.0,228.0 650.7,227.8 651.8,227.5 653.7,227.1 658.5,226.3 664.1,225.6 667.8,225.2 671.5,224.7 677.1,224.0 681.9,223.3 683.8,222.9 684.9,222.7 685.6,222.5 686.4,222.4 687.1,222.2 687.9,222.0 689.0,221.8 690.8,221.4 695.7,220.7 701.2,220.0 705.0,219.6 708.7,219.1 714.2,218.4 719.1,217.8 720.9,217.4 722.0,217.2 722.8,217.1 723.5,217.0 724.3,216.8 725.0,216.7 726.1,216.5 728.0,216.2 732.8,215.5 738.4,214.8 742.1,214.4 745.8,213.9 751.4,213.3 756.2,212.7 758.1,212.4 759.2,212.2 759.9,212.1 760.7,212.0 761.4,211.8 762.2,211.7 763.3,211.5 765.1,211.3 770.0,210.6 775.5,210.0 779.3,209.6 783.0,209.2 788.5,208.6 793.4,208.0 795.2,207.7 796.3,207.6 797.1,207.5 797.8,207.4 798.6,207.3 793.0,208.0" stroke="#bf1654"/>
<polyline points="316.0,315.3 316.1,306.1 316.1,304.5 316.2,302.6 316.2,300.6 316.3,298.4 316.3,296.2 316.4,293.9 316.5,291.7 316.6,289.7 316.7,287.9 316.9,286.6 317.1,285.6 317.3,284.9 317.6,284.6 318.0,284.4 318.4,284.3 318.9,284.3 319.6,284.3 320.4,284.3 321.4,284.3 322.7,284.2 324.2,284.2 326.1,284.2 328.3,284.1 331.1,284.1 334.6,284.0 337.2,283.9 342.7,283.8 347.6,283.6 349.4,283.3 350.5,282.4 351.3,281.4 352.0,280.1 352.8,278.7 353.5,277.7 354.6,276.9 356.5,276.5 361.3,276.4 366.9,276.2 370.6,276.2 374.3,276.0 379.9,275.7 384.7,275.2 386.6,274.6 387.7,273.7 388.4,272.8 389.2,271.7 389.9,270.5 390.7,269.6 391.8,268.7 393.6,268.1 398.5,267.7 404.0,267.4 407.8,267.2 411.5,266.9 417.0,266.3 421.9,265.7 423.7,264.9 424.8,264.1 425.6,263.3 426.3,262.4 427.1,261.5 427.8,260.7 428.9,259.8 430.8,259.1 435.6,258.5 441.2,257.9 444.9,257.6 448.6,257.2 454.2,256.5 459.0,255.6 460.9,254.8 462.0,253.9 462.7,253.3 463.5,252.5 464.2,251.8 465.0,251.1 466.1,250.3 467.9,249.5 472.8,248.6 478.3,247.9 482.1,247.5 485.8,247.0 491.3,246.1 496.2,245.0 498.0,244.2 499.1,243.5 499.9,242.9 500.6,242.3 501.4,241.7 502.1,241.1 503.2,240.4 505.1,239.6 509.9,238.6 515.5,237.8 519.2,237.2 522.9,236.7 528.5,235.8 533.3,234.7 535.2,234.0 536.3,233.4 537.0,233.0 537.8,232.6 538.5,232.1 539.3,231.7 540.4,231.1 542.2,230.4 547.1,229.4 552.6,228.5 556.4,228.0 560.1,227.4 565.6,226.6 570.5,225.6 572.3,225.0 573.4,224.5 574.2,224.2 574.9,223.9 575.7,223.5 576.4,223.2 577.5,222.8 579.4,222.2 584.2,221.2 589.8,220.4 593.5,219.8 597.2,219.3 602.8,218.4 607.6,217.5 609.5,216.9 610.6,216.6 611.3,216.3 612.1,216.0 612.8,215.7 613.6,215.5 614.7,215.1 616.5,214.6 621.4,213.6 626.9,212.8 630.7,212.3 634.4,211.7 639.9,210.9 644.8,209.9 646.6,209.5 647.7,209.2 648.5,208.9 649.2,208.7 650.0,208.5 650.7,208.3 651.8,207.9 653.7,207.5 658.5,206.6 664.1,205.8 667.8,205.2 671.5,204.7 677.1,203.9 681.9,203.0 683.8,202.6 684.9,202.3 685.6,202.1 686.4,202.0 687.1,201.8 687.9,201.6 689.0,201.3 690.8,200.9 695.7,200.1 701.2,199.3 705.0,198.7 708.7,198.2 714.2,197.4 719.1,196.6 720.9,196.3 722.0,196.0 722.8,195.9 723.5,195.7 724.3,195.6 725.0,195.4 726.1,195.2 728.0,194.8 732.8,194.0 738.4,193.3 742.1,192.8 745.8,192.3 751.4,191.6 756.2,190.8 758.1,190.5 759.2,190.3 759.9,190.2 760.7,190.0 761.4,189.9 762.2,189.7 763.3,189.5 765.1,189.2 770.0,188.5 775.5,187.8 779.3,187.3 783.0,186.9 788.5,186.2 793.4,185.5 795.2,185.2 796.3,185.1 797.1,185.0 797.8,184.8 798.6,184.7 793.0,185.6" stroke="#d5224a"/>
<polyline points="316.0,315.3 316.1,303.2 316.1,301.1 316.2,298.6 316.2,296.0 316.3,293.1 316.3,290.2 316.4,287.2 316.5,284.4 316.6,281.8 316.7,279.6 316.9,277.9 317.1,276.6 317.3,275.8 317.6,275.3 318.0,275.1 318.4,275.0 318.9,275.0 319.6,275.0 320.4,274.9 321.4,274.9 322.7,274.9 324.2,274.8 326.1,274.8 328.3,274.7 331.1,274.6 334.6,274.5 337.2,274.5 342.7,274.3 347.6,274.1 349.4,273.6 350.5,272.5 351.3,271.2 352.0,269.4 352.8,267.6 353.5,266.3 354.6,265.2 356.5,264.8 361.3,264.5 366.9,264.4 370.6,264.3 374.3,264.1 379.9,263.7 384.7,263.1 386.6,262.4 387.7,261.2 388.4,260.1 389.2,258.6 389.9,257.2 390.7,256.1 391.8,255.0 393.6,254.3 398.5,253.8 404.0,253.4 407.8,253.1 411.5,252.7 417.0,252.1 421.9,251.3 423.7,250.4 424.8,249.4 425.6,248.4 426.3,247.3 427.1,246.3 427.8,245.3 428.9,244.3 430.8,243.5 435.6,242.7 441.2,242.1 444.9,241.7 448.6,241.2 454.2,240.4 459.0,239.4 460.9,238.5 462.0,237.6 462.7,236.8 463.5,236.0 464.2,235.2 465.0,234.4 466.1,233.6 467.9,232.7 472.8,231.7 478.3,231.0 482.1,230.5 485.8,229.9 491.3,228.9 496.2,227.8 498.0,226.9 499.1,226.2 499.9,225.6 500.6,224.9 501.4,224.3 502.1,223.7 503.2,222.9 505.1,222.0 509.9,221.0 515.5,220.1 519.2,219.5 522.9,218.9 528.5,217.9 533.3,216.7 535.2,216.0 536.3,215.3 537.0,214.9 537.8,214.4 538.5,213.9 539.3,213.4 540.4,212.8 542.2,212.0 547.1,210.9 552.6,210.0 556.4,209.4 560.1,208.7 565.6,207.7 570.5,206.6 572.3,205.9 573.4,205.4 574.2,205.1 574.9,204.7 575.7,204.3 576.4,203.9 577.5,203.4 579.4,202.7 584.2,201.7 589.8,200.7 593.5,200.1 597.2,199.5 602.8,198.5 607.6,197.4 609.5,196.8 610.6,196.3 611.3,196.0 612.1,195.7 612.8,195.4 613.6,195.1 614.7,194.7 616.5,194.1 621.4,193.0 626.9,192.1 630.7,191.5 634.4,190.8 639.9,189.8 644.8,188.8 646.6,188.2 647.7,187.9 648.5,187.6 649.2,187.4 650.0,187.1 650.7,186.8 651.8,186.5 653.7,186.0 658.5,184.9 664.1,184.0 667.8,183.4 671.5,182.8 677.1,181.8 681.9,180.8 683.8,180.3 684.9,180.0 685.6,179.8 686.4,179.6 687.1,179.3 687.9,179.1 689.0,178.8 690.8,178.3 695.7,177.4 701.2,176.4 705.0,175.8 708.7,175.2 714.2,174.3 719.1,173.4 720.9,172.9 722.0,172.6 722.8,172.5 723.5,172.3 724.3,172.1 725.0,171.9 726.1,171.6 728.0,171.2 732.8,170.3 738.4,169.4 742.1,168.8 745.8,168.2 751.4,167.3 756.2,166.4 758.1,166.1 759.2,165.8 759.9,165.6 760.7,165.5 761.4,165.3 762.2,165.1 763.3,164.9 765.1,164.5 770.0,163.7 775.5,162.8 779.3,162.2 783.0,161.7 788.5,160.8 793.4,160.0 795.2,159.7 796.3,159.5 797.1,159.3 797.8,159.2 798.6,159.0 793.0,160.1" stroke="#e53940"/>
<polyline points="316.0,315.3 316.1,301.1 316.1,298.6 316.2,295.7 316.2,292.6 316.3,289.3 316.3,285.9 316.4,282.5 316.5,279.2 316.6,276.2 316.7,273.7 316.9,271.6 317.1,270.2 317.3,269.3 317.6,268.7 318.0,268.5 318.4,268.4 318.9,268.3 319.6,268.3 320.4,268.3 321.4,268.2 322.7,268.2 324.2,268.1 326.1,268.1 328.3,268.0 331.1,267.9 334.6,267.8 337.2,267.7 342.7,267.5 347.6,267.2 349.4,266.6 350.5,265.3 351.3,263.7 352.0,261.5 352.8,259.4 353.5,257.8 354.6,256.5 356.5,255.9 361.3,255.7 366.9,255.5 370.6,255.4 374.3,255.1 379.9,254.6 384.7,254.0 386.6,253.1 387.7,251.8 388.4,250.4 389.2,248.7 389.9,247.0 390.7,245.7 391.8,244.4 393.6,243.5 398.5,242.9 404.0,242.5 407.8,242.2 411.5,241.7 417.0,241.0 421.9,240.0 423.7,239.0 424.8,237.8 425.6,236.6 426.3,235.4 427.1,234.1 427.8,233.0 428.9,231.8 430.8,230.8 435.6,229.9 441.2,229.2 444.9,228.8 448.6,228.2 454.2,227.2 459.0,226.0 460.9,224.9 462.0,223.8 462.7,222.9 463.5,221.9 464.2,221.0 465.0,220.1 466.1,219.0 467.9,218.0 472.8,216.8 478.3,215.9 482.1,215.3 485.8,214.6 491.3,213.5 496.2,212.2 498.0,211.1 499.1,210.2 499.9,209.5 500.6,208.7 501.4,207.9 502.1,207.2 503.2,206.3 505.1,205.3 509.9,204.0 515.5,203.0 519.2,202.3 522.9,201.5 528.5,200.4 533.3,199.0 535.2,198.1 536.3,197.4 537.0,196.9 537.8,196.3 538.5,195.7 539.3,195.2 540.4,194.4 542.2,193.6 547.1,192.3 552.6,191.2 556.4,190.5 560.1,189.8 565.6,188.6 570.5,187.4 572.3,186.6 573.4,186.0 574.2,185.6 574.9,185.2 575.7,184.7 576.4,184.3 577.5,183.7 579.4,183.0 584.2,181.8 589.8,180.7 593.5,180.0 597.2,179.3 602.8,178.2 607.6,177.0 609.5,176.3 610.6,175.8 611.3,175.5 612.1,175.2 612.8,174.8 613.6,174.5 614.7,174.0 616.5,173.3 621.4,172.2 626.9,171.1 630.7,170.4 634.4,169.8 639.9,168.7 644.8,167.5 646.6,166.9 647.7,166.5 648.5,166.3 649.2,166.0 650.0,165.7 650.7,165.4 651.8,165.0 653.7,164.5 658.5,163.3 664.1,162.3 667.8,161.7 671.5,161.0 677.1,160.0 681.9,158.9 683.8,158.4 684.9,158.1 685.6,157.8 686.4,157.6 687.1,157.3 687.9,157.1 689.0,156.8 690.8,156.3 695.7,155.2 701.2,154.3 705.0,153.6 708.7,153.0 714.2,152.0 719.1,151.0 720.9,150.6 722.0,150.3 722.8,150.1 723.5,149.9 724.3,149.7 725.0,149.5 726.1,149.2 728.0,148.8 732.8,147.8 738.4,146.9 742.1,146.3 745.8,145.7 751.4,144.8 756.2,143.9 758.1,143.5 759.2,143.2 759.9,143.1 760.7,142.9 761.4,142.7 762.2,142.5 763.3,142.3 765.1,141.9 770.0,141.0 775.5,140.1 779.3,139.6 783.0,139.0 788.5,138.2 793.4,137.3 795.2,137.0 796.3,136.8 797.1,136.6 797.8,136.5 798.6,136.3 793.0,137.4" stroke="#ef5640"/>
<polyline points="316.0,315.3 316.1,298.3 316.1,295.3 316.2,291.9 316.2,288.2 316.3,284.3 316.3,280.3 316.4,276.3 316.5,272.4 316.6,268.9 316.7,266.0 316.9,263.6 317.1,261.9 317.3,260.8 317.6,260.2 318.0,259.9 318.4,259.8 318.9,259.8 319.6,259.7 320.4,259.7 321.4,259.7 322.7,259.6 324.2,259.6 326.1,259.5 328.3,259.4 331.1,259.3 334.6,259.1 337.2,259.0 342.7,258.8 347.6,258.5 349.4,257.8 350.5,256.3 351.3,254.4 352.0,251.9 352.8,249.4 353.5,247.6 354.6,246.2 356.5,245.5 361.3,245.2 366.9,245.0 370.6,244.9 374.3,244.5 379.9,243.9 384.7,243.2 386.6,242.0 387.7,240.3 388.4,238.6 389.2,236.5 389.9,234.5 390.7,232.8 391.8,231.2 393.6,230.2 398.5,229.4 404.0,228.9 407.8,228.5 411.5,228.0 417.0,227.0 421.9,225.9 423.7,224.6 424.8,223.2 425.6,221.8 426.3,220.3 427.1,218.7 427.8,217.4 428.9,216.0 430.8,214.8 435.6,213.7 441.2,212.9 444.9,212.3 448.6,211.7 454.2,210.6 459.0,209.3 460.9,208.1 462.0,207.0 462.7,206.0 463.5,204.9 464.2,203.8 465.0,202.9 466.1,201.7 467.9,200.6 472.8,199.4 478.3,198.4 482.1,197.8 485.8,197.1 491.3,195.9 496.2,194.5 498.0,193.4 499.1,192.5 499.9,191.7 500.6,191.0 501.4,190.2 502.1,189.4 503.2,188.5 505.1,187.5 509.9,186.2 515.5,185.1 519.2,184.4 522.9,183.6 528.5,182.4 533.3,181.0 535.2,180.1 536.3,179.3 537.0,178.7 537.8,178.1 538.5,177.5 539.3,177.0 540.4,176.2 542.2,175.3 547.1,174.0 552.6,172.9 556.4,172.1 560.1,171.4 565.6,170.2 570.5,168.8 572.3,168.0 573.4,167.3 574.2,166.9 574.9,166.4 575.7,166.0 576.4,165.5 577.5,164.9 579.4,164.1 584.2,162.8 589.8,161.7 593.5,161.0 597.2,160.2 602.8,159.0 607.6,157.7 609.5,157.0 610.6,156.5 611.3,156.1 612.1,155.8 612.8,155.4 613.6,155.0 614.7,154.5 616.5,153.8 621.4,152.6 626.9,151.5 630.7,150.8 634.4,150.0 639.9,148.9 644.8,147.6 646.6,147.0 647.7,146.6 648.5,146.3 649.2,146.0 650.0,145.7 650.7,145.4 651.8,145.0 653.7,144.4 658.5,143.2 664.1,142.1 667.8,141.4 671.5,140.7 677.1,139.6 681.9,138.5 683.8,138.0 684.9,137.6 685.6,137.4 686.4,137.1 687.1,136.9 687.9,136.6 689.0,136.3 690.8,135.7 695.7,134.6 701.2,133.6 705.0,132.9 708.7,132.3 714.2,131.2 719.1,130.2 720.9,129.7 722.0,129.4 722.8,129.2 723.5,129.0 724.3,128.8 725.0,128.6 726.1,128.2 728.0,127.8 732.8,126.8 738.4,125.8 742.1,125.2 745.8,124.5 751.4,123.6 756.2,122.6 758.1,122.2 759.2,121.9 759.9,121.7 760.7,121.5 761.4,121.4 762.2,121.2 763.3,120.9 765.1,120.5 770.0,119.6 775.5,118.7 779.3,118.1 783.0,117.5 788.5,116.6 793.4,115.7 795.2,115.3 796.3,115.1 797.1,114.9 797.8,114.8 798.6,114.6 793.0,115.8" stroke="#f3734e"/>
<polyline points="316.0,315.3 316.1,295.1 316.1,291.5 316.2,287.6 316.2,283.3 316.3,278.7 316.3,274.0 316.4,269.3 316.5,264.9 316.6,260.9 316.7,257.5 316.9,254.8 317.1,252.8 317.3,251.6 317.6,250.9 318.0,250.6 318.4,250.4 318.9,250.4 319.6,250.3 320.4,250.3 321.4,250.3 322.7,250.2 324.2,250.1 326.1,250.1 328.3,250.0 331.1,249.8 334.6,249.7 337.2,249.6 342.7,249.3 347.6,249.0 349.4,248.2 350.5,246.6 351.3,244.6 352.0,241.9 352.8,239.2 353.5,237.3 354.6,235.7 356.5,235.0 361.3,234.7 366.9,234.5 370.6,234.3 374.3,234.0 379.9,233.2 384.7,232.3 386.6,230.9 387.7,228.9 388.4,226.9 389.2,224.4 389.9,222.0 390.7,220.0 391.8,218.2 393.6,216.9 398.5,216.1 404.0,215.4 407.8,215.0 411.5,214.3 417.0,213.2 421.9,211.9 423.7,210.4 424.8,208.6 425.6,207.0 426.3,205.2 427.1,203.4 427.8,201.8 428.9,200.1 430.8,198.7 435.6,197.5 441.2,196.5 444.9,195.9 448.6,195.1 454.2,194.0 459.0,192.6 460.9,191.3 462.0,190.0 462.7,188.9 463.5,187.7 464.2,186.5 465.0,185.5 466.1,184.2 467.9,183.0 472.8,181.7 478.3,180.6 482.1,179.9 485.8,179.2 491.3,177.9 496.2,176.5 498.0,175.3 499.1,174.3 499.9,173.5 500.6,172.7 501.4,171.8 502.1,171.1 503.2,170.1 505.1,169.0 509.9,167.6 515.5,166.5 519.2,165.8 522.9,165.0 528.5,163.7 533.3,162.2 535.2,161.2 536.3,160.4 537.0,159.8 537.8,159.2 538.5,158.6 539.3,158.0 540.4,157.2 542.2,156.3 547.1,154.9 552.6,153.7 556.4,153.0 560.1,152.2 565.6,150.9 570.5,149.5 572.3,148.6 573.4,148.0 574.2,147.5 574.9,147.0 575.7,146.5 576.4,146.1 577.5,145.4 579.4,144.6 584.2,143.3 589.8,142.1 593.5,141.3 597.2,140.6 602.8,139.3 607.6,138.0 609.5,137.3 610.6,136.7 611.3,136.4 612.1,136.0 612.8,135.6 613.6,135.2 614.7,134.7 616.5,134.0 621.4,132.8 626.9,131.6 630.7,130.9 634.4,130.2 639.9,129.0 644.8,127.7 646.6,127.1 647.7,126.7 648.5,126.4 649.2,126.1 650.0,125.8 650.7,125.5 651.8,125.1 653.7,124.5 658.5,123.3 664.1,122.2 667.8,121.5 671.5,120.8 677.1,119.7 681.9,118.6 683.8,118.1 684.9,117.7 685.6,117.5 686.4,117.2 687.1,117.0 687.9,116.7 689.0,116.4 690.8,115.9 695.7,114.8 701.2,113.8 705.0,113.1 708.7,112.5 714.2,111.4 719.1,110.4 720.9,109.9 722.0,109.7 722.8,109.4 723.5,109.2 724.3,109.0 725.0,108.8 726.1,108.5 728.0,108.1 732.8,107.1 738.4,106.2 742.1,105.6 745.8,105.0 751.4,104.0 756.2,103.1 758.1,102.7 759.2,102.4 759.9,102.3 760.7,102.1 761.4,101.9 762.2,101.8 763.3,101.5 765.1,101.1 770.0,100.2 775.5,99.4 779.3,98.8 783.0,98.2 788.5,97.4 793.4,96.5 795.2,96.2 796.3,96.0 797.1,95.8 797.8,95.7 798.6,95.5 793.0,96.6" stroke="#f58d64"/>
<polyline points="316.0,315.3 316.1,291.3 316.1,287.2 316.2,282.5 316.2,277.5 316.3,272.2 316.3,266.8 316.4,261.4 316.5,256.3 316.6,251.7 316.7,247.8 316.9,244.7 317.1,242.5 317.3,241.1 317.6,240.3 318.0,239.9 318.4,239.8 318.9,239.7 319.6,239.7 320.4,239.6 321.4,239.6 322.7,239.5 324.2,239.4 326.1,239.3 328.3,239.2 331.1,239.1 334.6,238.9 337.2,238.8 342.7,238.5 347.6,238.1 349.4,237.2 350.5,235.2 351.3,232.8 352.0,229.7 352.8,226.6 353.5,224.3 354.6,222.5 356.5,221.6 361.3,221.3 366.9,221.0 370.6,220.8 374.3,220.4 379.9,219.6 384.7,218.6 386.6,217.1 387.7,214.8 388.4,212.6 389.2,209.9 389.9,207.2 390.7,205.0 391.8,203.0 393.6,201.6 398.5,200.7 404.0,199.9 407.8,199.4 411.5,198.8 417.0,197.6 421.9,196.1 423.7,194.5 424.8,192.6 425.6,190.9 426.3,189.0 427.1,187.1 427.8,185.4 428.9,183.7 430.8,182.2 435.6,180.9 441.2,179.8 444.9,179.1 448.6,178.4 454.2,177.2 459.0,175.7 460.9,174.3 462.0,173.0 462.7,171.9 463.5,170.7 464.2,169.4 465.0,168.4 466.1,167.1 467.9,165.8 472.8,164.5 478.3,163.4 482.1,162.7 485.8,161.9 491.3,160.6 496.2,159.1 498.0,158.0 499.1,157.0 499.9,156.2 500.6,155.3 501.4,154.5 502.1,153.7 503.2,152.7 505.1,151.6 509.9,150.2 515.5,149.1 519.2,148.4 522.9,147.6 528.5,146.3 533.3,144.8 535.2,143.8 536.3,142.9 537.0,142.3 537.8,141.7 538.5,141.1 539.3,140.5 540.4,139.7 542.2,138.7 547.1,137.3 552.6,136.2 556.4,135.4 560.1,134.6 565.6,133.3 570.5,131.8 572.3,131.0 573.4,130.3 574.2,129.8 574.9,129.4 575.7,128.9 576.4,128.4 577.5,127.8 579.4,126.9 584.2,125.6 589.8,124.4 593.5,123.7 597.2,122.9 602.8,121.6 607.6,120.3 609.5,119.5 610.6,119.0 611.3,118.7 612.1,118.3 612.8,117.9 613.6,117.5 614.7,117.0 616.5,116.3 621.4,115.1 626.9,114.0 630.7,113.2 634.4,112.5 639.9,111.3 644.8,110.1 646.6,109.5 647.7,109.1 648.5,108.8 649.2,108.5 650.0,108.2 650.7,107.9 651.8,107.5 653.7,106.9 658.5,105.7 664.1,104.7 667.8,104.0 671.5,103.3 677.1,102.3 681.9,101.2 683.8,100.6 684.9,100.3 685.6,100.1 686.4,99.8 687.1,99.6 687.9,99.3 689.0,99.0 690.8,98.5 695.7,97.5 701.2,96.5 705.0,95.9 708.7,95.3 714.2,94.3 719.1,93.3 720.9,92.9 722.0,92.6 722.8,92.4 723.5,92.2 724.3,92.0 725.0,91.8 726.1,91.5 728.0,91.1 732.8,90.2 738.4,89.3 742.1,88.7 745.8,88.2 751.4,87.3 756.2,86.4 758.1,86.0 759.2,85.8 759.9,85.6 760.7,85.5 761.4,85.3 762.2,85.2 763.3,84.9 765.1,84.6 770.0,83.8 775.5,83.0 779.3,82.5 783.0,81.9 788.5,81.1 793.4,80.4 795.2,80.1 796.3,79.9 797.1,79.7 797.8,79.6 798.6,79.5 793.0,80.5" stroke="#f6a67e"/>
<polyline points="316.0,315.3 316.1,288.1 316.1,283.4 316.2,278.3 316.2,272.6 316.3,266.7 316.3,260.7 316.4,254.7 316.5,249.1 316.6,244.0 316.7,239.7 316.9,236.4 317.1,234.0 317.3,232.4 317.6,231.6 318.0,231.2 318.4,231.0 318.9,230.9 319.6,230.9 320.4,230.8 321.4,230.8 322.7,230.7 324.2,230.6 326.1,230.5 328.3,230.3 331.1,230.2 334.6,230.0 337.2,229.8 342.7,229.5 347.6,229.1 349.4,228.0 350.5,225.8 351.3,223.1 352.0,219.5 352.8,216.0 353.5,213.4 354.6,211.4 356.5,210.4 361.3,210.0 366.9,209.7 370.6,209.5 374.3,209.0 379.9,208.1 384.7,207.0 386.6,205.3 387.7,202.8 388.4,200.3 389.2,197.2 389.9,194.3 390.7,191.9 391.8,189.6 393.6,188.1 398.5,187.1 404.0,186.3 407.8,185.8 411.5,185.0 417.0,183.7 421.9,182.1 423.7,180.4 424.8,178.3 425.6,176.4 426.3,174.3 427.1,172.3 427.8,170.5 428.9,168.6 430.8,167.0 435.6,165.6 441.2,164.5 444.9,163.8 448.6,163.0 454.2,161.6 459.0,160.0 460.9,158.6 462.0,157.2 462.7,156.0 463.5,154.7 464.2,153.4 465.0,152.2 466.1,150.9 467.9,149.6 472.8,148.1 478.3,147.0 482.1,146.2 485.8,145.4 491.3,144.1 496.2,142.5 498.0,141.3 499.1,140.2 499.9,139.4 500.6,138.5 501.4,137.7 502.1,136.8 503.2,135.8 505.1,134.7 509.9,133.3 515.5,132.1 519.2,131.4 522.9,130.6 528.5,129.3 533.3,127.7 535.2,126.7 536.3,125.9 537.0,125.3 537.8,124.6 538.5,124.0 539.3,123.4 540.4,122.6 542.2,121.7 547.1,120.3 552.6,119.1 556.4,118.4 560.1,117.6 565.6,116.4 570.5,114.9 572.3,114.1 573.4,113.5 574.2,113.0 574.9,112.5 575.7,112.1 576.4,111.6 577.5,111.0 579.4,110.2 584.2,108.9 589.8,107.8 593.5,107.1 597.2,106.3 602.8,105.2 607.6,103.9 609.5,103.2 610.6,102.7 611.3,102.4 612.1,102.0 612.8,101.7 613.6,101.3 614.7,100.9 616.5,100.2 621.4,99.1 626.9,98.0 630.7,97.4 634.4,96.7 639.9,95.6 644.8,94.5 646.6,94.0 647.7,93.6 648.5,93.3 649.2,93.1 650.0,92.8 650.7,92.5 651.8,92.2 653.7,91.6 658.5,90.6 664.1,89.7 667.8,89.1 671.5,88.5 677.1,87.5 681.9,86.6 683.8,86.1 684.9,85.8 685.6,85.6 686.4,85.4 687.1,85.2 687.9,85.0 689.0,84.7 690.8,84.2 695.7,83.4 701.2,82.5 705.0,82.0 708.7,81.4 714.2,80.6 719.1,79.8 720.9,79.4 722.0,79.2 722.8,79.0 723.5,78.8 724.3,78.7 725.0,78.5 726.1,78.3 728.0,77.9 732.8,77.2 738.4,76.4 742.1,75.9 745.8,75.5 751.4,74.7 756.2,74.0 758.1,73.7 759.2,73.5 759.9,73.4 760.7,73.3 761.4,73.1 762.2,73.0 763.3,72.8 765.1,72.5 770.0,71.9 775.5,71.2 779.3,70.8 783.0,70.4 788.5,69.8 793.4,69.2 795.2,68.9 796.3,68.8 797.1,68.6 797.8,68.5 798.6,68.4 793.0,69.2" stroke="#f6be9b"/>
<polyline points="316.0,315.3 316.1,285.2 316.1,280.0 316.2,274.3 316.2,268.1 316.3,261.7 316.3,255.1 316.4,248.6 316.5,242.5 316.6,237.0 316.7,232.4 316.9,228.8 317.1,226.2 317.3,224.6 317.6,223.7 318.0,223.2 318.4,223.0 318.9,222.9 319.6,222.9 320.4,222.8 321.4,222.8 322.7,222.7 324.2,222.6 326.1,222.5 328.3,222.3 331.1,222.1 334.6,221.9 337.2,221.7 342.7,221.3 347.6,220.8 349.4,219.6 350.5,217.1 351.3,214.0 352.0,209.9 352.8,206.0 353.5,203.0 354.6,200.8 356.5,199.7 361.3,199.3 366.9,198.9 370.6,198.7 374.3,198.2 379.9,197.2 384.7,196.0 386.6,194.1 387.7,191.5 388.4,188.8 389.2,185.5 389.9,182.4 390.7,179.9 391.8,177.5 393.6,175.9 398.5,174.8 404.0,173.9 407.8,173.4 411.5,172.6 417.0,171.3 421.9,169.6 423.7,167.7 424.8,165.6 425.6,163.6 426.3,161.5 427.1,159.3 427.8,157.5 428.9,155.5 430.8,153.9 435.6,152.4 441.2,151.3 444.9,150.5 448.6,149.7 454.2,148.3 459.0,146.6 460.9,145.1 462.0,143.6 462.7,142.4 463.5,141.1 464.2,139.7 465.0,138.5 466.1,137.2 467.9,135.8 472.8,134.3 478.3,133.1 482.1,132.4 485.8,131.5 491.3,130.2 496.2,128.6 498.0,127.3 499.1,126.2 499.9,125.4 500.6,124.5 501.4,123.6 502.1,122.8 503.2,121.8 505.1,120.6 509.9,119.2 515.5,118.0 519.2,117.3 522.9,116.4 528.5,115.1 533.3,113.6 535.2,112.6 536.3,111.8 537.0,111.1 537.8,110.5 538.5,109.9 539.3,109.3 540.4,108.5 542.2,107.6 547.1,106.2 552.6,105.1 556.4,104.4 560.1,103.6 565.6,102.3 570.5,101.0 572.3,100.1 573.4,99.5 574.2,99.1 574.9,98.6 575.7,98.2 576.4,97.7 577.5,97.2 579.4,96.4 584.2,95.2 589.8,94.1 593.5,93.4 597.2,92.7 602.8,91.6 607.6,90.4 609.5,89.8 610.6,89.3 611.3,89.0 612.1,88.7 612.8,88.3 613.6,88.0 614.7,87.6 616.5,87.0 621.4,85.9 626.9,84.9 630.7,84.3 634.4,83.7 639.9,82.7 644.8,81.7 646.6,81.2 647.7,80.9 648.5,80.6 649.2,80.4 650.0,80.1 650.7,79.9 651.8,79.6 653.7,79.1 658.5,78.2 664.1,77.3 667.8,76.8 671.5,76.3 677.1,75.4 681.9,74.6 683.8,74.2 684.9,73.9 685.6,73.7 686.4,73.6 687.1,73.4 687.9,73.2 689.0,72.9 690.8,72.6 695.7,71.8 701.2,71.1 705.0,70.6 708.7,70.2 714.2,69.4 719.1,68.7 720.9,68.4 722.0,68.2 722.8,68.1 723.5,67.9 724.3,67.8 725.0,67.7 726.1,67.5 728.0,67.2 732.8,66.5 738.4,65.9 742.1,65.5 745.8,65.1 751.4,64.5 756.2,64.0 758.1,63.7 759.2,63.6 759.9,63.4 760.7,63.3 761.4,63.2 762.2,63.1 763.3,63.0 765.1,62.7 770.0,62.2 775.5,61.7 779.3,61.4 783.0,61.0 788.5,60.5 793.4,60.1 795.2,59.9 796.3,59.8 797.1,59.7 797.8,59.6 798.6,59.5 793.0,60.1" stroke="#f8d4bc"/>
<polyline points="316.0,315.3 316.1,284.1 316.1,278.7 316.2,272.8 316.2,266.5 316.3,259.8 316.3,253.0 316.4,246.3 316.5,240.1 316.6,234.5 316.7,229.7 316.9,226.1 317.1,223.4 317.3,221.7 317.6,220.8 318.0,220.3 318.4,220.2 318.9,220.1 319.6,220.0 320.4,219.9 321.4,219.9 322.7,219.8 324.2,219.7 326.1,219.5 328.3,219.4 331.1,219.2 334.6,218.9 337.2,218.7 342.7,218.3 347.6,217.8 349.4,216.4 350.5,213.7 351.3,210.3 352.0,205.9 352.8,201.7 353.5,198.5 354.6,196.1 356.5,194.9 361.3,194.4 366.9,194.1 370.6,193.9 374.3,193.3 379.9,192.1 384.7,190.7 386.6,188.6 387.7,185.6 388.4,182.5 389.2,178.8 389.9,175.2 390.7,172.4 391.8,169.7 393.6,167.9 398.5,166.7 404.0,165.7 407.8,165.1 411.5,164.2 417.0,162.7 421.9,160.8 423.7,158.7 424.8,156.3 425.6,154.2 426.3,151.7 427.1,149.4 427.8,147.3 428.9,145.2 430.8,143.4 435.6,141.8 441.2,140.6 444.9,139.8 448.6,138.9 454.2,137.4 459.0,135.6 460.9,134.0 462.0,132.5 462.7,131.2 463.5,129.8 464.2,128.4 465.0,127.2 466.1,125.7 467.9,124.3 472.8,122.8 478.3,121.6 482.1,120.8 485.8,120.0 491.3,118.6 496.2,116.9 498.0,115.7 499.1,114.6 499.9,113.8 500.6,112.9 501.4,112.0 502.1,111.2 503.2,110.1 505.1,109.0 509.9,107.6 515.5,106.4 519.2,105.7 522.9,104.9 528.5,103.6 533.3,102.1 535.2,101.1 536.3,100.4 537.0,99.8 537.8,99.2 538.5,98.5 539.3,98.0 540.4,97.2 542.2,96.3 547.1,95.0 552.6,94.0 556.4,93.3 560.1,92.5 565.6,91.4 570.5,90.1 572.3,89.3 573.4,88.8 574.2,88.3 574.9,87.9 575.7,87.5 576.4,87.1 577.5,86.5 579.4,85.8 584.2,84.7 589.8,83.7 593.5,83.1 597.2,82.5 602.8,81.5 607.6,80.4 609.5,79.8 610.6,79.4 611.3,79.1 612.1,78.8 612.8,78.5 613.6,78.2 614.7,77.8 616.5,77.3 621.4,76.3 626.9,75.5 630.7,75.0 634.4,74.4 639.9,73.6 644.8,72.7 646.6,72.3 647.7,72.0 648.5,71.7 649.2,71.5 650.0,71.3 650.7,71.1 651.8,70.8 653.7,70.4 658.5,69.6 664.1,68.9 667.8,68.5 671.5,68.0 677.1,67.3 681.9,66.6 683.8,66.3 684.9,66.0 685.6,65.9 686.4,65.7 687.1,65.6 687.9,65.4 689.0,65.2 690.8,64.9 695.7,64.3 701.2,63.7 705.0,63.3 708.7,62.9 714.2,62.4 719.1,61.8 720.9,61.5 722.0,61.4 722.8,61.3 723.5,61.1 724.3,61.0 725.0,60.9 726.1,60.8 728.0,60.5 732.8,60.0 738.4,59.5 742.1,59.2 745.8,58.9 751.4,58.5 756.2,58.0 758.1,57.8 759.2,57.7 759.9,57.6 760.7,57.5 761.4,57.4 762.2,57.4 763.3,57.2 765.1,57.1 770.0,56.7 775.5,56.3 779.3,56.0 783.0,55.8 788.5,55.4 793.4,55.0 795.2,54.9 796.3,54.8 797.1,54.7 797.8,54.7 798.6,54.6 793.0,55.1" stroke="#faebdd"/>
</g>
<g clip-path="url(#c2)" fill="none" stroke-width="3.5" stroke-linejoin="round" stroke-linecap="butt">
<polyline points="886.0,315.3 886.2,315.3 886.2,315.3 886.2,315.3 886.3,315.3 886.3,315.3 886.4,315.3 886.4,315.3 886.5,315.3 886.6,315.3 886.8,315.3 886.9,315.3 887.1,315.3 887.3,315.3 887.6,315.3 888.0,315.3 888.4,315.2 889.0,315.2 889.7,315.2 890.5,315.2 891.5,315.2 892.7,315.2 894.2,315.2 896.1,315.1 898.4,315.1 901.2,315.1 904.6,315.1 907.2,315.1 912.8,315.1 917.6,315.0 919.5,315.0 920.6,315.0 921.3,315.0 922.1,315.0 922.8,315.0 923.6,315.0 924.7,315.0 926.5,315.0 931.4,315.0 936.9,315.0 940.7,315.0 944.4,315.0 949.9,315.0 954.8,315.0 956.6,315.0 957.7,315.0 958.5,315.0 959.2,315.0 960.0,315.0 960.7,315.0 961.8,315.0 963.7,315.0 968.5,315.0 974.1,315.0 977.8,315.0 981.5,315.0 987.1,315.0 991.9,315.0 993.8,315.0 994.9,315.0 995.6,315.0 996.4,315.0 997.1,315.0 997.9,315.0 999.0,315.0 1000.8,315.0 1005.7,315.0 1011.2,315.0 1015.0,315.0 1018.7,315.0 1024.2,315.0 1029.1,315.0 1030.9,315.0 1032.0,315.0 1032.8,315.0 1033.5,315.0 1034.3,315.0 1035.0,315.0 1036.1,315.0 1038.0,315.0 1042.8,315.0 1048.4,315.0 1052.1,315.0 1055.8,315.0 1061.4,315.0 1066.2,315.0 1068.1,315.0 1069.2,315.0 1069.9,315.0 1070.7,315.0 1071.4,315.0 1072.2,315.0 1073.3,315.0 1075.1,315.0 1080.0,315.0 1085.5,315.0 1089.3,315.0 1093.0,315.0 1098.5,315.0 1103.4,315.0 1105.2,315.0 1106.3,315.0 1107.1,315.0 1107.8,315.0 1108.6,315.0 1109.3,315.0 1110.4,315.0 1112.3,315.0 1117.1,315.0 1122.7,315.0 1126.4,315.0 1130.1,315.0 1135.7,315.0 1140.5,315.0 1142.4,315.0 1143.5,315.0 1144.2,315.0 1145.0,315.0 1145.7,315.0 1146.5,315.0 1147.6,315.0 1149.4,315.0 1154.3,315.0 1159.8,315.0 1163.6,315.0 1167.3,315.0 1172.8,315.0 1177.7,315.0 1179.5,315.0 1180.6,315.0 1181.4,315.0 1182.1,315.0 1182.9,315.0 1183.6,315.0 1184.7,315.0 1186.6,315.0 1191.4,315.0 1197.0,315.0 1200.7,315.0 1204.4,315.0 1210.0,315.0 1214.8,315.0 1216.7,315.0 1217.8,315.0 1218.5,315.0 1219.3,315.0 1220.0,315.0 1220.8,315.0 1221.9,315.0 1223.7,315.0 1228.6,315.0 1234.1,315.0 1237.9,315.0 1241.6,315.0 1247.1,315.0 1252.0,315.0 1253.8,315.0 1254.9,315.0 1255.7,315.0 1256.4,315.0 1257.2,315.0 1257.9,315.0 1259.0,315.0 1260.9,315.0 1265.7,315.0 1271.3,315.0 1275.0,315.0 1278.7,315.0 1284.3,315.0 1289.1,315.0 1291.0,315.0 1292.1,315.0 1292.8,315.0 1293.6,315.0 1294.3,315.0 1295.1,315.0 1296.2,315.0 1298.0,315.0 1302.9,315.0 1308.4,315.0 1312.2,315.0 1315.9,315.0 1321.4,315.0 1326.3,315.0 1328.1,315.0 1329.2,315.0 1330.0,315.0 1330.7,315.0 1331.5,315.0 1332.2,315.0 1333.3,315.0 1335.2,315.0 1340.0,315.0 1345.6,315.0 1349.3,315.0 1353.0,315.0 1358.6,315.0 1363.4,315.0 1365.3,315.0 1366.4,315.0 1367.1,315.0 1367.9,315.0 1368.6,315.0 1363.1,315.0" stroke="#03051a"/>
<polyline points="886.0,315.3 886.2,315.3 886.2,315.3 886.2,315.3 886.3,315.3 886.3,315.3 886.4,315.3 886.4,315.3 886.5,315.3 886.6,315.3 886.8,315.3 886.9,315.3 887.1,315.3 887.3,315.3 887.6,315.2 888.0,315.2 888.4,315.2 889.0,315.2 889.7,315.2 890.5,315.2 891.5,315.1 892.7,315.1 894.2,315.1 896.1,315.0 898.4,315.0 901.2,314.9 904.6,314.9 907.2,314.8 912.8,314.8 917.6,314.7 919.5,314.7 920.6,314.7 921.3,314.7 922.1,314.7 922.8,314.6 923.6,314.6 924.7,314.6 926.5,314.6 931.4,314.6 936.9,314.5 940.7,314.5 944.4,314.5 949.9,314.5 954.8,314.4 956.6,314.4 957.7,314.4 958.5,314.4 959.2,314.4 960.0,314.4 960.7,314.4 961.8,314.4 963.7,314.4 968.5,314.4 974.1,314.4 977.8,314.3 981.5,314.3 987.1,314.3 991.9,314.3 993.8,314.3 994.9,314.3 995.6,314.3 996.4,314.3 997.1,314.3 997.9,314.3 999.0,314.3 1000.8,314.3 1005.7,314.2 1011.2,314.2 1015.0,314.2 1018.7,314.2 1024.2,314.2 1029.1,314.2 1030.9,314.2 1032.0,314.2 1032.8,314.2 1033.5,314.2 1034.3,314.2 1035.0,314.2 1036.1,314.2 1038.0,314.2 1042.8,314.1 1048.4,314.1 1052.1,314.1 1055.8,314.1 1061.4,314.1 1066.2,314.1 1068.1,314.1 1069.2,314.1 1069.9,314.1 1070.7,314.1 1071.4,314.1 1072.2,314.1 1073.3,314.1 1075.1,314.1 1080.0,314.0 1085.5,314.0 1089.3,314.0 1093.0,314.0 1098.5,314.0 1103.4,314.0 1105.2,314.0 1106.3,314.0 1107.1,314.0 1107.8,314.0 1108.6,314.0 1109.3,314.0 1110.4,314.0 1112.3,314.0 1117.1,314.0 1122.7,314.0 1126.4,313.9 1130.1,313.9 1135.7,313.9 1140.5,313.9 1142.4,313.9 1143.5,313.9 1144.2,313.9 1145.0,313.9 1145.7,313.9 1146.5,313.9 1147.6,313.9 1149.4,313.9 1154.3,313.9 1159.8,313.9 1163.6,313.9 1167.3,313.9 1172.8,313.9 1177.7,313.9 1179.5,313.9 1180.6,313.9 1181.4,313.9 1182.1,313.9 1182.9,313.9 1183.6,313.9 1184.7,313.9 1186.6,313.8 1191.4,313.8 1197.0,313.8 1200.7,313.8 1204.4,313.8 1210.0,313.8 1214.8,313.8 1216.7,313.8 1217.8,313.8 1218.5,313.8 1219.3,313.8 1220.0,313.8 1220.8,313.8 1221.9,313.8 1223.7,313.8 1228.6,313.8 1234.1,313.8 1237.9,313.8 1241.6,313.8 1247.1,313.8 1252.0,313.8 1253.8,313.8 1254.9,313.8 1255.7,313.8 1256.4,313.8 1257.2,313.8 1257.9,313.8 1259.0,313.7 1260.9,313.7 1265.7,313.7 1271.3,313.7 1275.0,313.7 1278.7,313.7 1284.3,313.7 1289.1,313.7 1291.0,313.7 1292.1,313.7 1292.8,313.7 1293.6,313.7 1294.3,313.7 1295.1,313.7 1296.2,313.7 1298.0,313.7 1302.9,313.7 1308.4,313.7 1312.2,313.7 1315.9,313.7 1321.4,313.7 1326.3,313.7 1328.1,313.7 1329.2,313.7 1330.0,313.7 1330.7,313.7 1331.5,313.7 1332.2,313.7 1333.3,313.7 1335.2,313.7 1340.0,313.7 1345.6,313.7 1349.3,313.7 1353.0,313.7 1358.6,313.7 1363.4,313.7 1365.3,313.7 1366.4,313.7 1367.1,313.7 1367.9,313.7 1368.6,313.7 1363.1,313.7" stroke="#170f28"/>
<polyline points="886.0,315.3 886.2,315.3 886.2,315.3 886.2,315.3 886.3,315.3 886.3,315.3 886.4,315.3 886.4,315.3 886.5,315.3 886.6,315.2 886.8,315.2 886.9,315.2 887.1,315.2 887.3,315.2 887.6,315.1 888.0,315.1 888.4,315.0 889.0,315.0 889.7,314.9 890.5,314.9 891.5,314.8 892.7,314.7 894.2,314.6 896.1,314.4 898.4,314.3 901.2,314.1 904.6,314.0 907.2,313.9 912.8,313.7 917.6,313.5 919.5,313.4 920.6,313.4 921.3,313.4 922.1,313.4 922.8,313.3 923.6,313.3 924.7,313.3 926.5,313.2 931.4,313.1 936.9,313.0 940.7,312.9 944.4,312.8 949.9,312.8 954.8,312.7 956.6,312.7 957.7,312.7 958.5,312.7 959.2,312.7 960.0,312.6 960.7,312.6 961.8,312.6 963.7,312.6 968.5,312.5 974.1,312.5 977.8,312.4 981.5,312.4 987.1,312.3 991.9,312.3 993.8,312.3 994.9,312.3 995.6,312.3 996.4,312.2 997.1,312.2 997.9,312.2 999.0,312.2 1000.8,312.2 1005.7,312.2 1011.2,312.1 1015.0,312.1 1018.7,312.0 1024.2,312.0 1029.1,311.9 1030.9,311.9 1032.0,311.9 1032.8,311.9 1033.5,311.9 1034.3,311.9 1035.0,311.9 1036.1,311.9 1038.0,311.8 1042.8,311.8 1048.4,311.7 1052.1,311.7 1055.8,311.7 1061.4,311.6 1066.2,311.6 1068.1,311.6 1069.2,311.5 1069.9,311.5 1070.7,311.5 1071.4,311.5 1072.2,311.5 1073.3,311.5 1075.1,311.5 1080.0,311.4 1085.5,311.4 1089.3,311.4 1093.0,311.3 1098.5,311.3 1103.4,311.2 1105.2,311.2 1106.3,311.2 1107.1,311.2 1107.8,311.2 1108.6,311.2 1109.3,311.2 1110.4,311.1 1112.3,311.1 1117.1,311.1 1122.7,311.0 1126.4,311.0 1130.1,310.9 1135.7,310.9 1140.5,310.8 1142.4,310.8 1143.5,310.8 1144.2,310.8 1145.0,310.8 1145.7,310.8 1146.5,310.8 1147.6,310.8 1149.4,310.7 1154.3,310.7 1159.8,310.6 1163.6,310.6 1167.3,310.5 1172.8,310.5 1177.7,310.4 1179.5,310.4 1180.6,310.4 1181.4,310.4 1182.1,310.4 1182.9,310.4 1183.6,310.4 1184.7,310.4 1186.6,310.3 1191.4,310.3 1197.0,310.2 1200.7,310.2 1204.4,310.1 1210.0,310.1 1214.8,310.0 1216.7,310.0 1217.8,310.0 1218.5,310.0 1219.3,310.0 1220.0,310.0 1220.8,310.0 1221.9,309.9 1223.7,309.9 1228.6,309.9 1234.1,309.8 1237.9,309.8 1241.6,309.7 1247.1,309.6 1252.0,309.6 1253.8,309.6 1254.9,309.6 1255.7,309.5 1256.4,309.5 1257.2,309.5 1257.9,309.5 1259.0,309.5 1260.9,309.5 1265.7,309.4 1271.3,309.4 1275.0,309.3 1278.7,309.3 1284.3,309.2 1289.1,309.1 1291.0,309.1 1292.1,309.1 1292.8,309.1 1293.6,309.1 1294.3,309.1 1295.1,309.1 1296.2,309.1 1298.0,309.0 1302.9,309.0 1308.4,308.9 1312.2,308.9 1315.9,308.8 1321.4,308.7 1326.3,308.7 1328.1,308.7 1329.2,308.7 1330.0,308.6 1330.7,308.6 1331.5,308.6 1332.2,308.6 1333.3,308.6 1335.2,308.6 1340.0,308.5 1345.6,308.4 1349.3,308.4 1353.0,308.4 1358.6,308.3 1363.4,308.2 1365.3,308.2 1366.4,308.2 1367.1,308.2 1367.9,308.2 1368.6,308.1 1363.1,308.2" stroke="#2d1738"/>
<polyline points="886.0,315.3 886.2,315.0 886.2,314.9 886.2,314.9 886.3,314.8 886.3,314.7 886.4,314.6 886.4,314.4 886.5,314.3 886.6,314.1 886.8,313.9 886.9,313.7 887.1,313.5 887.3,313.3 887.6,313.0 888.0,312.7 888.4,312.4 889.0,312.1 889.7,311.7 890.5,311.3 891.5,310.9 892.7,310.5 894.2,310.0 896.1,309.7 898.4,309.3 901.2,309.0 904.6,308.8 907.2,308.7 912.8,308.5 917.6,308.4 919.5,308.4 920.6,308.4 921.3,308.3 922.1,308.3 922.8,308.3 923.6,308.3 924.7,308.2 926.5,308.2 931.4,308.1 936.9,308.1 940.7,308.0 944.4,307.9 949.9,307.8 954.8,307.7 956.6,307.7 957.7,307.6 958.5,307.6 959.2,307.5 960.0,307.5 960.7,307.5 961.8,307.4 963.7,307.4 968.5,307.3 974.1,307.1 977.8,307.0 981.5,306.9 987.1,306.8 991.9,306.6 993.8,306.6 994.9,306.5 995.6,306.5 996.4,306.5 997.1,306.4 997.9,306.4 999.0,306.3 1000.8,306.3 1005.7,306.1 1011.2,306.0 1015.0,305.9 1018.7,305.8 1024.2,305.6 1029.1,305.5 1030.9,305.4 1032.0,305.4 1032.8,305.4 1033.5,305.3 1034.3,305.3 1035.0,305.3 1036.1,305.2 1038.0,305.2 1042.8,305.1 1048.4,304.9 1052.1,304.8 1055.8,304.7 1061.4,304.6 1066.2,304.4 1068.1,304.4 1069.2,304.4 1069.9,304.3 1070.7,304.3 1071.4,304.3 1072.2,304.2 1073.3,304.2 1075.1,304.1 1080.0,304.0 1085.5,303.9 1089.3,303.8 1093.0,303.7 1098.5,303.5 1103.4,303.4 1105.2,303.3 1106.3,303.3 1107.1,303.2 1107.8,303.2 1108.6,303.2 1109.3,303.1 1110.4,303.1 1112.3,303.0 1117.1,302.9 1122.7,302.7 1126.4,302.6 1130.1,302.5 1135.7,302.3 1140.5,302.2 1142.4,302.1 1143.5,302.1 1144.2,302.0 1145.0,302.0 1145.7,302.0 1146.5,302.0 1147.6,301.9 1149.4,301.8 1154.3,301.7 1159.8,301.5 1163.6,301.4 1167.3,301.3 1172.8,301.1 1177.7,300.9 1179.5,300.8 1180.6,300.8 1181.4,300.8 1182.1,300.7 1182.9,300.7 1183.6,300.7 1184.7,300.6 1186.6,300.6 1191.4,300.4 1197.0,300.2 1200.7,300.1 1204.4,299.9 1210.0,299.7 1214.8,299.6 1216.7,299.5 1217.8,299.4 1218.5,299.4 1219.3,299.4 1220.0,299.4 1220.8,299.3 1221.9,299.3 1223.7,299.2 1228.6,299.0 1234.1,298.8 1237.9,298.7 1241.6,298.6 1247.1,298.3 1252.0,298.2 1253.8,298.1 1254.9,298.0 1255.7,298.0 1256.4,298.0 1257.2,297.9 1257.9,297.9 1259.0,297.9 1260.9,297.8 1265.7,297.6 1271.3,297.4 1275.0,297.2 1278.7,297.1 1284.3,296.9 1289.1,296.7 1291.0,296.6 1292.1,296.5 1292.8,296.5 1293.6,296.5 1294.3,296.5 1295.1,296.4 1296.2,296.4 1298.0,296.3 1302.9,296.1 1308.4,295.9 1312.2,295.7 1315.9,295.6 1321.4,295.3 1326.3,295.1 1328.1,295.0 1329.2,295.0 1330.0,295.0 1330.7,294.9 1331.5,294.9 1332.2,294.9 1333.3,294.8 1335.2,294.7 1340.0,294.5 1345.6,294.3 1349.3,294.1 1353.0,294.0 1358.6,293.7 1363.4,293.5 1365.3,293.4 1366.4,293.4 1367.1,293.3 1367.9,293.3 1368.6,293.3 1363.1,293.5" stroke="#431c46"/>
<polyline points="886.0,315.3 886.2,314.0 886.2,313.8 886.2,313.5 886.3,313.1 886.3,312.8 886.4,312.3 886.4,311.9 886.5,311.4 886.6,310.9 886.8,310.3 886.9,309.8 887.1,309.3 887.3,308.9 887.6,308.4 888.0,308.0 888.4,307.5 889.0,307.1 889.7,306.7 890.5,306.3 891.5,306.0 892.7,305.7 894.2,305.5 896.1,305.4 898.4,305.3 901.2,305.2 904.6,305.0 907.2,305.0 912.8,304.8 917.6,304.6 919.5,304.5 920.6,304.4 921.3,304.2 922.1,304.0 922.8,303.8 923.6,303.6 924.7,303.5 926.5,303.4 931.4,303.2 936.9,303.0 940.7,302.9 944.4,302.8 949.9,302.6 954.8,302.5 956.6,302.3 957.7,302.2 958.5,302.1 959.2,302.0 960.0,301.8 960.7,301.7 961.8,301.6 963.7,301.5 968.5,301.3 974.1,301.2 977.8,301.0 981.5,300.9 987.1,300.7 991.9,300.5 993.8,300.4 994.9,300.3 995.6,300.2 996.4,300.1 997.1,300.0 997.9,299.9 999.0,299.8 1000.8,299.6 1005.7,299.5 1011.2,299.3 1015.0,299.1 1018.7,299.0 1024.2,298.7 1029.1,298.5 1030.9,298.3 1032.0,298.2 1032.8,298.1 1033.5,298.0 1034.3,297.8 1035.0,297.7 1036.1,297.6 1038.0,297.5 1042.8,297.2 1048.4,296.9 1052.1,296.8 1055.8,296.6 1061.4,296.3 1066.2,296.0 1068.1,295.8 1069.2,295.7 1069.9,295.6 1070.7,295.5 1071.4,295.4 1072.2,295.3 1073.3,295.1 1075.1,295.0 1080.0,294.7 1085.5,294.4 1089.3,294.2 1093.0,294.0 1098.5,293.6 1103.4,293.3 1105.2,293.2 1106.3,293.1 1107.1,293.0 1107.8,292.9 1108.6,292.8 1109.3,292.7 1110.4,292.6 1112.3,292.4 1117.1,292.1 1122.7,291.8 1126.4,291.6 1130.1,291.4 1135.7,291.1 1140.5,290.8 1142.4,290.6 1143.5,290.5 1144.2,290.4 1145.0,290.4 1145.7,290.3 1146.5,290.2 1147.6,290.1 1149.4,290.0 1154.3,289.7 1159.8,289.4 1163.6,289.2 1167.3,289.0 1172.8,288.6 1177.7,288.3 1179.5,288.2 1180.6,288.1 1181.4,288.0 1182.1,288.0 1182.9,287.9 1183.6,287.8 1184.7,287.7 1186.6,287.6 1191.4,287.3 1197.0,287.0 1200.7,286.8 1204.4,286.6 1210.0,286.2 1214.8,285.9 1216.7,285.8 1217.8,285.7 1218.5,285.6 1219.3,285.6 1220.0,285.5 1220.8,285.5 1221.9,285.4 1223.7,285.2 1228.6,284.9 1234.1,284.6 1237.9,284.4 1241.6,284.2 1247.1,283.9 1252.0,283.6 1253.8,283.4 1254.9,283.4 1255.7,283.3 1256.4,283.2 1257.2,283.2 1257.9,283.1 1259.0,283.0 1260.9,282.9 1265.7,282.6 1271.3,282.3 1275.0,282.1 1278.7,281.9 1284.3,281.5 1289.1,281.2 1291.0,281.1 1292.1,281.0 1292.8,281.0 1293.6,280.9 1294.3,280.9 1295.1,280.8 1296.2,280.7 1298.0,280.6 1302.9,280.3 1308.4,280.0 1312.2,279.8 1315.9,279.6 1321.4,279.3 1326.3,279.0 1328.1,278.8 1329.2,278.8 1330.0,278.7 1330.7,278.7 1331.5,278.6 1332.2,278.6 1333.3,278.5 1335.2,278.4 1340.0,278.1 1345.6,277.8 1349.3,277.5 1353.0,277.3 1358.6,277.0 1363.4,276.7 1365.3,276.6 1366.4,276.5 1367.1,276.5 1367.9,276.4 1368.6,276.4 1363.1,276.7" stroke="#5b1e51"/>
<polyline points="886.0,315.3 886.2,312.3 886.2,311.8 886.2,311.1 886.3,310.4 886.3,309.6 886.4,308.7 886.4,307.8 886.5,306.9 886.6,306.0 886.8,305.1 886.9,304.3 887.1,303.7 887.3,303.1 887.6,302.7 888.0,302.3 888.4,302.0 889.0,301.8 889.7,301.5 890.5,301.4 891.5,301.2 892.7,301.1 894.2,301.1 896.1,301.0 898.4,300.9 901.2,300.8 904.6,300.7 907.2,300.6 912.8,300.5 917.6,300.3 919.5,300.1 920.6,299.6 921.3,299.1 922.1,298.4 922.8,297.8 923.6,297.3 924.7,296.8 926.5,296.6 931.4,296.4 936.9,296.3 940.7,296.2 944.4,296.1 949.9,295.9 954.8,295.8 956.6,295.6 957.7,295.3 958.5,295.1 959.2,294.8 960.0,294.5 960.7,294.3 961.8,294.1 963.7,293.9 968.5,293.7 974.1,293.6 977.8,293.5 981.5,293.4 987.1,293.2 991.9,293.0 993.8,292.8 994.9,292.6 995.6,292.5 996.4,292.3 997.1,292.1 997.9,291.9 999.0,291.7 1000.8,291.5 1005.7,291.3 1011.2,291.1 1015.0,291.0 1018.7,290.9 1024.2,290.6 1029.1,290.2 1030.9,290.0 1032.0,289.7 1032.8,289.5 1033.5,289.3 1034.3,289.1 1035.0,288.9 1036.1,288.6 1038.0,288.3 1042.8,288.0 1048.4,287.7 1052.1,287.5 1055.8,287.3 1061.4,286.9 1066.2,286.5 1068.1,286.2 1069.2,285.9 1069.9,285.7 1070.7,285.5 1071.4,285.3 1072.2,285.1 1073.3,284.9 1075.1,284.6 1080.0,284.2 1085.5,283.8 1089.3,283.5 1093.0,283.3 1098.5,282.9 1103.4,282.4 1105.2,282.2 1106.3,282.0 1107.1,281.8 1107.8,281.6 1108.6,281.5 1109.3,281.3 1110.4,281.1 1112.3,280.8 1117.1,280.4 1122.7,280.0 1126.4,279.7 1130.1,279.5 1135.7,279.1 1140.5,278.7 1142.4,278.4 1143.5,278.3 1144.2,278.1 1145.0,278.0 1145.7,277.9 1146.5,277.7 1147.6,277.6 1149.4,277.3 1154.3,276.9 1159.8,276.5 1163.6,276.3 1167.3,276.0 1172.8,275.6 1177.7,275.2 1179.5,275.0 1180.6,274.9 1181.4,274.7 1182.1,274.6 1182.9,274.5 1183.6,274.4 1184.7,274.3 1186.6,274.0 1191.4,273.6 1197.0,273.2 1200.7,273.0 1204.4,272.7 1210.0,272.3 1214.8,271.9 1216.7,271.7 1217.8,271.6 1218.5,271.5 1219.3,271.4 1220.0,271.3 1220.8,271.2 1221.9,271.0 1223.7,270.8 1228.6,270.4 1234.1,270.0 1237.9,269.8 1241.6,269.5 1247.1,269.1 1252.0,268.7 1253.8,268.5 1254.9,268.4 1255.7,268.3 1256.4,268.2 1257.2,268.1 1257.9,268.1 1259.0,267.9 1260.9,267.8 1265.7,267.4 1271.3,267.0 1275.0,266.7 1278.7,266.4 1284.3,266.0 1289.1,265.7 1291.0,265.5 1292.1,265.4 1292.8,265.3 1293.6,265.2 1294.3,265.1 1295.1,265.1 1296.2,265.0 1298.0,264.8 1302.9,264.4 1308.4,264.0 1312.2,263.8 1315.9,263.5 1321.4,263.1 1326.3,262.7 1328.1,262.6 1329.2,262.5 1330.0,262.4 1330.7,262.3 1331.5,262.3 1332.2,262.2 1333.3,262.1 1335.2,261.9 1340.0,261.6 1345.6,261.2 1349.3,260.9 1353.0,260.7 1358.6,260.3 1363.4,260.0 1365.3,259.8 1366.4,259.7 1367.1,259.7 1367.9,259.6 1368.6,259.5 1363.1,260.0" stroke="#731f58"/>
<polyline points="886.0,315.3 886.2,309.2 886.2,308.0 886.2,306.8 886.3,305.4 886.3,303.9 886.4,302.4 886.4,300.8 886.5,299.3 886.6,297.9 886.8,296.7 886.9,295.8 887.1,295.1 887.3,294.6 887.6,294.4 888.0,294.3 888.4,294.2 889.0,294.2 889.7,294.2 890.5,294.2 891.5,294.2 892.7,294.1 894.2,294.1 896.1,294.1 898.4,294.1 901.2,294.0 904.6,294.0 907.2,293.9 912.8,293.9 917.6,293.8 919.5,293.5 920.6,293.0 921.3,292.3 922.1,291.4 922.8,290.5 923.6,289.9 924.7,289.3 926.5,289.1 931.4,289.0 936.9,288.9 940.7,288.9 944.4,288.8 949.9,288.6 954.8,288.4 956.6,288.2 957.7,287.8 958.5,287.3 959.2,286.8 960.0,286.3 960.7,285.9 961.8,285.5 963.7,285.2 968.5,285.0 974.1,284.9 977.8,284.8 981.5,284.6 987.1,284.4 991.9,284.2 993.8,283.8 994.9,283.5 995.6,283.2 996.4,282.8 997.1,282.4 997.9,282.1 999.0,281.7 1000.8,281.4 1005.7,281.1 1011.2,280.9 1015.0,280.8 1018.7,280.6 1024.2,280.2 1029.1,279.8 1030.9,279.4 1032.0,279.1 1032.8,278.7 1033.5,278.4 1034.3,278.0 1035.0,277.7 1036.1,277.3 1038.0,277.0 1042.8,276.5 1048.4,276.2 1052.1,276.0 1055.8,275.7 1061.4,275.3 1066.2,274.8 1068.1,274.4 1069.2,274.0 1069.9,273.7 1070.7,273.4 1071.4,273.1 1072.2,272.8 1073.3,272.5 1075.1,272.1 1080.0,271.6 1085.5,271.1 1089.3,270.9 1093.0,270.6 1098.5,270.1 1103.4,269.6 1105.2,269.2 1106.3,268.9 1107.1,268.7 1107.8,268.4 1108.6,268.2 1109.3,267.9 1110.4,267.6 1112.3,267.3 1117.1,266.7 1122.7,266.3 1126.4,266.0 1130.1,265.7 1135.7,265.2 1140.5,264.6 1142.4,264.3 1143.5,264.1 1144.2,263.9 1145.0,263.7 1145.7,263.5 1146.5,263.3 1147.6,263.1 1149.4,262.7 1154.3,262.2 1159.8,261.7 1163.6,261.4 1167.3,261.1 1172.8,260.6 1177.7,260.1 1179.5,259.8 1180.6,259.5 1181.4,259.4 1182.1,259.2 1182.9,259.1 1183.6,258.9 1184.7,258.7 1186.6,258.4 1191.4,257.8 1197.0,257.3 1200.7,257.0 1204.4,256.7 1210.0,256.2 1214.8,255.6 1216.7,255.4 1217.8,255.2 1218.5,255.0 1219.3,254.9 1220.0,254.8 1220.8,254.6 1221.9,254.4 1223.7,254.2 1228.6,253.6 1234.1,253.1 1237.9,252.8 1241.6,252.5 1247.1,251.9 1252.0,251.4 1253.8,251.1 1254.9,251.0 1255.7,250.8 1256.4,250.7 1257.2,250.6 1257.9,250.5 1259.0,250.3 1260.9,250.1 1265.7,249.5 1271.3,249.0 1275.0,248.7 1278.7,248.4 1284.3,247.8 1289.1,247.3 1291.0,247.1 1292.1,246.9 1292.8,246.8 1293.6,246.7 1294.3,246.6 1295.1,246.5 1296.2,246.3 1298.0,246.1 1302.9,245.6 1308.4,245.1 1312.2,244.7 1315.9,244.4 1321.4,243.9 1326.3,243.4 1328.1,243.2 1329.2,243.0 1330.0,242.9 1330.7,242.8 1331.5,242.7 1332.2,242.6 1333.3,242.5 1335.2,242.3 1340.0,241.8 1345.6,241.3 1349.3,240.9 1353.0,240.6 1358.6,240.1 1363.4,239.6 1365.3,239.4 1366.4,239.3 1367.1,239.2 1367.9,239.1 1368.6,239.0 1363.1,239.7" stroke="#8c1d5b"/>
<polyline points="886.0,315.3 886.2,306.9 886.2,305.4 886.2,303.7 886.3,301.9 886.3,299.9 886.4,297.8 886.4,295.7 886.5,293.7 886.6,291.8 886.8,290.2 886.9,289.0 887.1,288.1 887.3,287.5 887.6,287.2 888.0,287.0 888.4,286.9 889.0,286.9 889.7,286.9 890.5,286.9 891.5,286.9 892.7,286.9 894.2,286.8 896.1,286.8 898.4,286.8 901.2,286.7 904.6,286.7 907.2,286.6 912.8,286.6 917.6,286.4 919.5,286.2 920.6,285.6 921.3,284.9 922.1,284.0 922.8,283.0 923.6,282.3 924.7,281.8 926.5,281.5 931.4,281.4 936.9,281.3 940.7,281.3 944.4,281.2 949.9,280.9 954.8,280.7 956.6,280.2 957.7,279.6 958.5,279.0 959.2,278.2 960.0,277.4 960.7,276.8 961.8,276.2 963.7,275.8 968.5,275.5 974.1,275.3 977.8,275.1 981.5,274.9 987.1,274.5 991.9,274.1 993.8,273.6 994.9,273.0 995.6,272.5 996.4,271.9 997.1,271.3 997.9,270.7 999.0,270.1 1000.8,269.7 1005.7,269.2 1011.2,268.9 1015.0,268.7 1018.7,268.4 1024.2,267.9 1029.1,267.4 1030.9,266.8 1032.0,266.3 1032.8,265.9 1033.5,265.4 1034.3,264.9 1035.0,264.5 1036.1,264.0 1038.0,263.5 1042.8,262.9 1048.4,262.5 1052.1,262.2 1055.8,261.9 1061.4,261.3 1066.2,260.7 1068.1,260.2 1069.2,259.7 1069.9,259.4 1070.7,259.0 1071.4,258.6 1072.2,258.3 1073.3,257.8 1075.1,257.3 1080.0,256.7 1085.5,256.2 1089.3,255.8 1093.0,255.5 1098.5,254.9 1103.4,254.2 1105.2,253.7 1106.3,253.4 1107.1,253.1 1107.8,252.8 1108.6,252.5 1109.3,252.2 1110.4,251.8 1112.3,251.4 1117.1,250.7 1122.7,250.2 1126.4,249.8 1130.1,249.4 1135.7,248.8 1140.5,248.1 1142.4,247.7 1143.5,247.4 1144.2,247.2 1145.0,247.0 1145.7,246.7 1146.5,246.5 1147.6,246.2 1149.4,245.8 1154.3,245.1 1159.8,244.5 1163.6,244.2 1167.3,243.8 1172.8,243.1 1177.7,242.5 1179.5,242.1 1180.6,241.8 1181.4,241.6 1182.1,241.4 1182.9,241.2 1183.6,241.1 1184.7,240.8 1186.6,240.4 1191.4,239.7 1197.0,239.1 1200.7,238.8 1204.4,238.4 1210.0,237.7 1214.8,237.1 1216.7,236.7 1217.8,236.5 1218.5,236.3 1219.3,236.2 1220.0,236.0 1220.8,235.8 1221.9,235.6 1223.7,235.3 1228.6,234.6 1234.1,234.0 1237.9,233.6 1241.6,233.2 1247.1,232.6 1252.0,231.9 1253.8,231.6 1254.9,231.4 1255.7,231.3 1256.4,231.1 1257.2,231.0 1257.9,230.8 1259.0,230.6 1260.9,230.3 1265.7,229.7 1271.3,229.1 1275.0,228.7 1278.7,228.3 1284.3,227.6 1289.1,227.0 1291.0,226.7 1292.1,226.6 1292.8,226.4 1293.6,226.3 1294.3,226.2 1295.1,226.0 1296.2,225.9 1298.0,225.6 1302.9,225.0 1308.4,224.4 1312.2,224.0 1315.9,223.6 1321.4,223.0 1326.3,222.4 1328.1,222.1 1329.2,222.0 1330.0,221.8 1330.7,221.7 1331.5,221.6 1332.2,221.5 1333.3,221.3 1335.2,221.1 1340.0,220.5 1345.6,219.9 1349.3,219.5 1353.0,219.1 1358.6,218.5 1363.4,218.0 1365.3,217.7 1366.4,217.6 1367.1,217.5 1367.9,217.4 1368.6,217.3 1363.1,218.0" stroke="#a6195a"/>
<polyline points="886.0,315.3 886.2,304.6 886.2,302.7 886.2,300.5 886.3,298.2 886.3,295.7 886.4,293.0 886.4,290.4 886.5,287.9 886.6,285.6 886.8,283.6 886.9,282.0 887.1,280.9 887.3,280.1 887.6,279.7 888.0,279.5 888.4,279.5 889.0,279.4 889.7,279.4 890.5,279.4 891.5,279.4 892.7,279.3 894.2,279.3 896.1,279.3 898.4,279.2 901.2,279.2 904.6,279.1 907.2,279.1 912.8,279.0 917.6,278.8 919.5,278.5 920.6,277.7 921.3,276.8 922.1,275.6 922.8,274.4 923.6,273.5 924.7,272.8 926.5,272.4 931.4,272.3 936.9,272.2 940.7,272.1 944.4,272.0 949.9,271.7 954.8,271.3 956.6,270.8 957.7,270.0 958.5,269.2 959.2,268.3 960.0,267.3 960.7,266.5 961.8,265.7 963.7,265.2 968.5,264.9 974.1,264.6 977.8,264.4 981.5,264.2 987.1,263.7 991.9,263.2 993.8,262.6 994.9,261.9 995.6,261.2 996.4,260.5 997.1,259.7 997.9,259.1 999.0,258.3 1000.8,257.7 1005.7,257.2 1011.2,256.8 1015.0,256.5 1018.7,256.2 1024.2,255.6 1029.1,254.9 1030.9,254.3 1032.0,253.7 1032.8,253.1 1033.5,252.5 1034.3,252.0 1035.0,251.4 1036.1,250.8 1038.0,250.2 1042.8,249.5 1048.4,249.0 1052.1,248.6 1055.8,248.2 1061.4,247.5 1066.2,246.7 1068.1,246.1 1069.2,245.6 1069.9,245.1 1070.7,244.7 1071.4,244.2 1072.2,243.8 1073.3,243.2 1075.1,242.6 1080.0,241.8 1085.5,241.2 1089.3,240.8 1093.0,240.3 1098.5,239.6 1103.4,238.8 1105.2,238.2 1106.3,237.7 1107.1,237.4 1107.8,237.0 1108.6,236.7 1109.3,236.3 1110.4,235.9 1112.3,235.3 1117.1,234.5 1122.7,233.8 1126.4,233.3 1130.1,232.9 1135.7,232.1 1140.5,231.3 1142.4,230.8 1143.5,230.4 1144.2,230.1 1145.0,229.8 1145.7,229.5 1146.5,229.3 1147.6,228.9 1149.4,228.4 1154.3,227.6 1159.8,226.8 1163.6,226.4 1167.3,225.9 1172.8,225.1 1177.7,224.3 1179.5,223.8 1180.6,223.5 1181.4,223.3 1182.1,223.0 1182.9,222.8 1183.6,222.5 1184.7,222.2 1186.6,221.8 1191.4,220.9 1197.0,220.2 1200.7,219.7 1204.4,219.2 1210.0,218.5 1214.8,217.6 1216.7,217.2 1217.8,216.9 1218.5,216.7 1219.3,216.5 1220.0,216.3 1220.8,216.1 1221.9,215.8 1223.7,215.4 1228.6,214.6 1234.1,213.8 1237.9,213.4 1241.6,212.9 1247.1,212.1 1252.0,211.3 1253.8,210.9 1254.9,210.7 1255.7,210.5 1256.4,210.3 1257.2,210.1 1257.9,210.0 1259.0,209.7 1260.9,209.3 1265.7,208.5 1271.3,207.8 1275.0,207.3 1278.7,206.8 1284.3,206.1 1289.1,205.3 1291.0,204.9 1292.1,204.7 1292.8,204.5 1293.6,204.4 1294.3,204.2 1295.1,204.1 1296.2,203.9 1298.0,203.5 1302.9,202.7 1308.4,202.0 1312.2,201.5 1315.9,201.0 1321.4,200.3 1326.3,199.6 1328.1,199.2 1329.2,199.0 1330.0,198.9 1330.7,198.7 1331.5,198.6 1332.2,198.5 1333.3,198.3 1335.2,197.9 1340.0,197.2 1345.6,196.5 1349.3,196.0 1353.0,195.5 1358.6,194.8 1363.4,194.1 1365.3,193.8 1366.4,193.6 1367.1,193.5 1367.9,193.4 1368.6,193.3 1363.1,194.2" stroke="#bf1654"/>
<polyline points="886.0,315.3 886.2,302.9 886.2,300.6 886.2,298.1 886.3,295.4 886.3,292.5 886.4,289.4 886.4,286.4 886.5,283.5 886.6,280.8 886.8,278.6 886.9,276.8 887.1,275.5 887.3,274.6 887.6,274.2 888.0,274.0 888.4,273.9 889.0,273.8 889.7,273.8 890.5,273.8 891.5,273.8 892.7,273.7 894.2,273.7 896.1,273.7 898.4,273.6 901.2,273.5 904.6,273.4 907.2,273.4 912.8,273.3 917.6,273.1 919.5,272.6 920.6,271.7 921.3,270.6 922.1,269.1 922.8,267.6 923.6,266.5 924.7,265.6 926.5,265.2 931.4,265.0 936.9,264.9 940.7,264.8 944.4,264.6 949.9,264.3 954.8,263.9 956.6,263.2 957.7,262.2 958.5,261.3 959.2,260.1 960.0,258.9 960.7,257.9 961.8,257.0 963.7,256.3 968.5,255.9 974.1,255.6 977.8,255.3 981.5,255.0 987.1,254.5 991.9,253.8 993.8,253.0 994.9,252.1 995.6,251.3 996.4,250.4 997.1,249.4 997.9,248.6 999.0,247.7 1000.8,247.0 1005.7,246.3 1011.2,245.8 1015.0,245.5 1018.7,245.0 1024.2,244.3 1029.1,243.4 1030.9,242.6 1032.0,241.7 1032.8,241.0 1033.5,240.3 1034.3,239.5 1035.0,238.8 1036.1,238.0 1038.0,237.2 1042.8,236.3 1048.4,235.6 1052.1,235.2 1055.8,234.6 1061.4,233.8 1066.2,232.7 1068.1,231.9 1069.2,231.1 1069.9,230.6 1070.7,230.0 1071.4,229.3 1072.2,228.8 1073.3,228.1 1075.1,227.3 1080.0,226.2 1085.5,225.4 1089.3,224.9 1093.0,224.3 1098.5,223.4 1103.4,222.3 1105.2,221.6 1106.3,221.0 1107.1,220.6 1107.8,220.2 1108.6,219.7 1109.3,219.3 1110.4,218.7 1112.3,218.0 1117.1,217.0 1122.7,216.1 1126.4,215.6 1130.1,215.0 1135.7,214.1 1140.5,213.1 1142.4,212.5 1143.5,212.1 1144.2,211.7 1145.0,211.4 1145.7,211.1 1146.5,210.7 1147.6,210.3 1149.4,209.7 1154.3,208.7 1159.8,207.9 1163.6,207.3 1167.3,206.8 1172.8,205.9 1177.7,204.9 1179.5,204.4 1180.6,204.0 1181.4,203.8 1182.1,203.5 1182.9,203.2 1183.6,202.9 1184.7,202.6 1186.6,202.0 1191.4,201.1 1197.0,200.3 1200.7,199.7 1204.4,199.2 1210.0,198.3 1214.8,197.4 1216.7,196.9 1217.8,196.6 1218.5,196.4 1219.3,196.1 1220.0,195.9 1220.8,195.7 1221.9,195.4 1223.7,194.9 1228.6,194.0 1234.1,193.2 1237.9,192.6 1241.6,192.1 1247.1,191.3 1252.0,190.4 1253.8,190.0 1254.9,189.7 1255.7,189.5 1256.4,189.3 1257.2,189.2 1257.9,189.0 1259.0,188.7 1260.9,188.3 1265.7,187.4 1271.3,186.6 1275.0,186.1 1278.7,185.6 1284.3,184.8 1289.1,184.0 1291.0,183.7 1292.1,183.4 1292.8,183.3 1293.6,183.1 1294.3,182.9 1295.1,182.8 1296.2,182.5 1298.0,182.2 1302.9,181.4 1308.4,180.6 1312.2,180.1 1315.9,179.6 1321.4,178.9 1326.3,178.2 1328.1,177.8 1329.2,177.6 1330.0,177.5 1330.7,177.4 1331.5,177.2 1332.2,177.1 1333.3,176.9 1335.2,176.6 1340.0,175.8 1345.6,175.1 1349.3,174.6 1353.0,174.2 1358.6,173.5 1363.4,172.8 1365.3,172.5 1366.4,172.4 1367.1,172.2 1367.9,172.1 1368.6,172.0 1363.1,172.9" stroke="#d5224a"/>
<polyline points="886.0,315.3 886.2,299.3 886.2,296.4 886.2,293.3 886.3,289.8 886.3,286.1 886.4,282.3 886.4,278.5 886.5,274.9 886.6,271.5 886.8,268.7 886.9,266.5 887.1,264.9 887.3,263.9 887.6,263.3 888.0,263.0 888.4,262.9 889.0,262.9 889.7,262.8 890.5,262.8 891.5,262.8 892.7,262.7 894.2,262.7 896.1,262.6 898.4,262.6 901.2,262.5 904.6,262.4 907.2,262.3 912.8,262.1 917.6,261.9 919.5,261.4 920.6,260.2 921.3,258.8 922.1,256.9 922.8,255.1 923.6,253.7 924.7,252.6 926.5,252.1 931.4,251.9 936.9,251.7 940.7,251.6 944.4,251.4 949.9,251.0 954.8,250.4 956.6,249.7 957.7,248.5 958.5,247.4 959.2,246.0 960.0,244.5 960.7,243.4 961.8,242.3 963.7,241.6 968.5,241.1 974.1,240.7 977.8,240.4 981.5,240.0 987.1,239.4 991.9,238.6 993.8,237.7 994.9,236.7 995.6,235.7 996.4,234.6 997.1,233.6 997.9,232.6 999.0,231.6 1000.8,230.8 1005.7,230.0 1011.2,229.4 1015.0,229.0 1018.7,228.5 1024.2,227.7 1029.1,226.6 1030.9,225.7 1032.0,224.7 1032.8,223.9 1033.5,223.0 1034.3,222.2 1035.0,221.4 1036.1,220.5 1038.0,219.5 1042.8,218.5 1048.4,217.7 1052.1,217.2 1055.8,216.6 1061.4,215.6 1066.2,214.4 1068.1,213.5 1069.2,212.6 1069.9,212.0 1070.7,211.3 1071.4,210.6 1072.2,210.0 1073.3,209.2 1075.1,208.3 1080.0,207.1 1085.5,206.2 1089.3,205.6 1093.0,204.9 1098.5,203.9 1103.4,202.7 1105.2,201.9 1106.3,201.2 1107.1,200.7 1107.8,200.2 1108.6,199.7 1109.3,199.2 1110.4,198.6 1112.3,197.8 1117.1,196.6 1122.7,195.7 1126.4,195.1 1130.1,194.4 1135.7,193.4 1140.5,192.3 1142.4,191.6 1143.5,191.1 1144.2,190.7 1145.0,190.4 1145.7,190.0 1146.5,189.6 1147.6,189.1 1149.4,188.4 1154.3,187.3 1159.8,186.4 1163.6,185.8 1167.3,185.2 1172.8,184.2 1177.7,183.1 1179.5,182.5 1180.6,182.1 1181.4,181.8 1182.1,181.5 1182.9,181.2 1183.6,180.9 1184.7,180.5 1186.6,179.9 1191.4,178.8 1197.0,177.9 1200.7,177.3 1204.4,176.7 1210.0,175.7 1214.8,174.7 1216.7,174.2 1217.8,173.8 1218.5,173.6 1219.3,173.3 1220.0,173.1 1220.8,172.8 1221.9,172.5 1223.7,171.9 1228.6,170.9 1234.1,170.0 1237.9,169.4 1241.6,168.9 1247.1,167.9 1252.0,167.0 1253.8,166.5 1254.9,166.2 1255.7,166.0 1256.4,165.8 1257.2,165.6 1257.9,165.4 1259.0,165.1 1260.9,164.6 1265.7,163.7 1271.3,162.8 1275.0,162.3 1278.7,161.7 1284.3,160.8 1289.1,159.9 1291.0,159.5 1292.1,159.3 1292.8,159.1 1293.6,158.9 1294.3,158.7 1295.1,158.6 1296.2,158.3 1298.0,157.9 1302.9,157.1 1308.4,156.2 1312.2,155.7 1315.9,155.1 1321.4,154.3 1326.3,153.5 1328.1,153.2 1329.2,152.9 1330.0,152.8 1330.7,152.6 1331.5,152.5 1332.2,152.3 1333.3,152.1 1335.2,151.8 1340.0,151.0 1345.6,150.2 1349.3,149.7 1353.0,149.2 1358.6,148.4 1363.4,147.7 1365.3,147.4 1366.4,147.2 1367.1,147.0 1367.9,146.9 1368.6,146.8 1363.1,147.7" stroke="#e53940"/>
<polyline points="886.0,315.3 886.2,296.9 886.2,293.6 886.2,290.0 886.3,286.1 886.3,281.9 886.4,277.6 886.4,273.2 886.5,269.1 886.6,265.4 886.8,262.2 886.9,259.7 887.1,257.9 887.3,256.8 887.6,256.1 888.0,255.8 888.4,255.7 889.0,255.7 889.7,255.6 890.5,255.6 891.5,255.6 892.7,255.5 894.2,255.5 896.1,255.4 898.4,255.3 901.2,255.2 904.6,255.1 907.2,255.0 912.8,254.8 917.6,254.5 919.5,253.9 920.6,252.5 921.3,250.8 922.1,248.5 922.8,246.3 923.6,244.7 924.7,243.4 926.5,242.7 931.4,242.5 936.9,242.3 940.7,242.2 944.4,241.9 949.9,241.4 954.8,240.8 956.6,239.9 957.7,238.5 958.5,237.1 959.2,235.5 960.0,233.8 960.7,232.4 961.8,231.1 963.7,230.3 968.5,229.7 974.1,229.2 977.8,228.9 981.5,228.5 987.1,227.8 991.9,226.8 993.8,225.8 994.9,224.6 995.6,223.5 996.4,222.3 997.1,221.0 997.9,220.0 999.0,218.8 1000.8,217.8 1005.7,216.9 1011.2,216.3 1015.0,215.8 1018.7,215.2 1024.2,214.3 1029.1,213.1 1030.9,212.1 1032.0,211.0 1032.8,210.2 1033.5,209.2 1034.3,208.2 1035.0,207.4 1036.1,206.4 1038.0,205.4 1042.8,204.3 1048.4,203.4 1052.1,202.8 1055.8,202.2 1061.4,201.1 1066.2,199.8 1068.1,198.8 1069.2,197.9 1069.9,197.2 1070.7,196.4 1071.4,195.7 1072.2,195.0 1073.3,194.2 1075.1,193.2 1080.0,192.0 1085.5,190.9 1089.3,190.3 1093.0,189.6 1098.5,188.5 1103.4,187.2 1105.2,186.3 1106.3,185.6 1107.1,185.0 1107.8,184.5 1108.6,183.9 1109.3,183.4 1110.4,182.7 1112.3,181.8 1117.1,180.6 1122.7,179.5 1126.4,178.9 1130.1,178.2 1135.7,177.1 1140.5,175.8 1142.4,175.0 1143.5,174.5 1144.2,174.1 1145.0,173.6 1145.7,173.2 1146.5,172.8 1147.6,172.2 1149.4,171.5 1154.3,170.3 1159.8,169.3 1163.6,168.6 1167.3,167.9 1172.8,166.8 1177.7,165.6 1179.5,164.9 1180.6,164.5 1181.4,164.1 1182.1,163.8 1182.9,163.4 1183.6,163.1 1184.7,162.7 1186.6,162.0 1191.4,160.8 1197.0,159.8 1200.7,159.2 1204.4,158.5 1210.0,157.4 1214.8,156.3 1216.7,155.7 1217.8,155.3 1218.5,155.0 1219.3,154.7 1220.0,154.5 1220.8,154.2 1221.9,153.8 1223.7,153.2 1228.6,152.1 1234.1,151.1 1237.9,150.5 1241.6,149.8 1247.1,148.8 1252.0,147.7 1253.8,147.2 1254.9,146.9 1255.7,146.7 1256.4,146.4 1257.2,146.2 1257.9,146.0 1259.0,145.6 1260.9,145.1 1265.7,144.1 1271.3,143.1 1275.0,142.5 1278.7,141.9 1284.3,140.9 1289.1,139.9 1291.0,139.5 1292.1,139.2 1292.8,139.0 1293.6,138.8 1294.3,138.6 1295.1,138.4 1296.2,138.1 1298.0,137.7 1302.9,136.7 1308.4,135.8 1312.2,135.2 1315.9,134.6 1321.4,133.7 1326.3,132.8 1328.1,132.4 1329.2,132.2 1330.0,132.0 1330.7,131.8 1331.5,131.6 1332.2,131.5 1333.3,131.2 1335.2,130.8 1340.0,130.0 1345.6,129.1 1349.3,128.5 1353.0,128.0 1358.6,127.1 1363.4,126.3 1365.3,125.9 1366.4,125.7 1367.1,125.5 1367.9,125.4 1368.6,125.2 1363.1,126.3" stroke="#ef5640"/>
<polyline points="886.0,315.3 886.2,293.6 886.2,289.8 886.2,285.5 886.3,281.0 886.3,276.1 886.4,271.1 886.4,266.1 886.5,261.4 886.6,257.1 886.8,253.5 886.9,250.7 887.1,248.6 887.3,247.3 887.6,246.6 888.0,246.2 888.4,246.1 889.0,246.0 889.7,246.0 890.5,246.0 891.5,245.9 892.7,245.9 894.2,245.8 896.1,245.7 898.4,245.6 901.2,245.5 904.6,245.4 907.2,245.3 912.8,245.0 917.6,244.7 919.5,243.9 920.6,242.3 921.3,240.3 922.1,237.7 922.8,235.1 923.6,233.2 924.7,231.7 926.5,231.0 931.4,230.7 936.9,230.4 940.7,230.3 944.4,230.0 949.9,229.3 954.8,228.5 956.6,227.4 957.7,225.7 958.5,223.9 959.2,221.8 960.0,219.7 960.7,218.0 961.8,216.4 963.7,215.3 968.5,214.6 974.1,214.0 977.8,213.6 981.5,213.1 987.1,212.2 991.9,211.1 993.8,209.8 994.9,208.4 995.6,207.0 996.4,205.5 997.1,204.0 997.9,202.7 999.0,201.3 1000.8,200.1 1005.7,199.1 1011.2,198.3 1015.0,197.7 1018.7,197.1 1024.2,196.1 1029.1,194.9 1030.9,193.8 1032.0,192.7 1032.8,191.8 1033.5,190.7 1034.3,189.7 1035.0,188.8 1036.1,187.8 1038.0,186.7 1042.8,185.6 1048.4,184.6 1052.1,184.0 1055.8,183.4 1061.4,182.3 1066.2,181.0 1068.1,180.0 1069.2,179.2 1069.9,178.5 1070.7,177.7 1071.4,177.0 1072.2,176.3 1073.3,175.5 1075.1,174.5 1080.0,173.3 1085.5,172.3 1089.3,171.7 1093.0,171.0 1098.5,169.9 1103.4,168.6 1105.2,167.7 1106.3,167.0 1107.1,166.4 1107.8,165.9 1108.6,165.3 1109.3,164.8 1110.4,164.1 1112.3,163.2 1117.1,162.0 1122.7,160.9 1126.4,160.2 1130.1,159.5 1135.7,158.4 1140.5,157.0 1142.4,156.2 1143.5,155.7 1144.2,155.2 1145.0,154.8 1145.7,154.3 1146.5,153.9 1147.6,153.3 1149.4,152.6 1154.3,151.3 1159.8,150.2 1163.6,149.6 1167.3,148.8 1172.8,147.7 1177.7,146.4 1179.5,145.7 1180.6,145.2 1181.4,144.9 1182.1,144.5 1182.9,144.2 1183.6,143.8 1184.7,143.4 1186.6,142.7 1191.4,141.5 1197.0,140.4 1200.7,139.7 1204.4,139.0 1210.0,137.9 1214.8,136.7 1216.7,136.1 1217.8,135.7 1218.5,135.4 1219.3,135.1 1220.0,134.9 1220.8,134.6 1221.9,134.2 1223.7,133.6 1228.6,132.5 1234.1,131.4 1237.9,130.8 1241.6,130.1 1247.1,129.0 1252.0,127.9 1253.8,127.4 1254.9,127.0 1255.7,126.8 1256.4,126.5 1257.2,126.3 1257.9,126.1 1259.0,125.7 1260.9,125.2 1265.7,124.1 1271.3,123.1 1275.0,122.5 1278.7,121.9 1284.3,120.8 1289.1,119.8 1291.0,119.4 1292.1,119.1 1292.8,118.8 1293.6,118.6 1294.3,118.4 1295.1,118.2 1296.2,117.9 1298.0,117.5 1302.9,116.5 1308.4,115.6 1312.2,115.0 1315.9,114.3 1321.4,113.4 1326.3,112.4 1328.1,112.0 1329.2,111.8 1330.0,111.6 1330.7,111.4 1331.5,111.2 1332.2,111.1 1333.3,110.8 1335.2,110.4 1340.0,109.5 1345.6,108.6 1349.3,108.0 1353.0,107.5 1358.6,106.6 1363.4,105.7 1365.3,105.3 1366.4,105.1 1367.1,105.0 1367.9,104.8 1368.6,104.7 1363.1,105.8" stroke="#f3734e"/>
<polyline points="886.0,315.3 886.2,290.3 886.2,286.0 886.2,281.2 886.3,276.0 886.3,270.5 886.4,264.9 886.4,259.3 886.5,254.0 886.6,249.3 886.8,245.2 886.9,242.1 887.1,239.8 887.3,238.4 887.6,237.6 888.0,237.2 888.4,237.0 889.0,237.0 889.7,236.9 890.5,236.9 891.5,236.8 892.7,236.8 894.2,236.7 896.1,236.6 898.4,236.5 901.2,236.4 904.6,236.2 907.2,236.1 912.8,235.8 917.6,235.4 919.5,234.6 920.6,232.8 921.3,230.5 922.1,227.5 922.8,224.6 923.6,222.5 924.7,220.8 926.5,220.0 931.4,219.6 936.9,219.4 940.7,219.2 944.4,218.8 949.9,218.1 954.8,217.2 956.6,215.9 957.7,214.0 958.5,212.0 959.2,209.7 960.0,207.3 960.7,205.4 961.8,203.6 963.7,202.4 968.5,201.6 974.1,201.0 977.8,200.6 981.5,200.0 987.1,199.0 991.9,197.7 993.8,196.3 994.9,194.7 995.6,193.2 996.4,191.5 997.1,189.8 997.9,188.4 999.0,186.9 1000.8,185.5 1005.7,184.4 1011.2,183.5 1015.0,182.9 1018.7,182.2 1024.2,181.1 1029.1,179.8 1030.9,178.5 1032.0,177.3 1032.8,176.3 1033.5,175.2 1034.3,174.1 1035.0,173.1 1036.1,171.9 1038.0,170.8 1042.8,169.5 1048.4,168.5 1052.1,167.9 1055.8,167.2 1061.4,166.0 1066.2,164.6 1068.1,163.5 1069.2,162.6 1069.9,161.9 1070.7,161.1 1071.4,160.3 1072.2,159.5 1073.3,158.6 1075.1,157.6 1080.0,156.3 1085.5,155.3 1089.3,154.6 1093.0,153.8 1098.5,152.6 1103.4,151.2 1105.2,150.3 1106.3,149.5 1107.1,148.9 1107.8,148.3 1108.6,147.7 1109.3,147.2 1110.4,146.5 1112.3,145.5 1117.1,144.2 1122.7,143.1 1126.4,142.4 1130.1,141.7 1135.7,140.5 1140.5,139.1 1142.4,138.3 1143.5,137.6 1144.2,137.2 1145.0,136.7 1145.7,136.3 1146.5,135.8 1147.6,135.2 1149.4,134.4 1154.3,133.2 1159.8,132.0 1163.6,131.3 1167.3,130.6 1172.8,129.4 1177.7,128.1 1179.5,127.4 1180.6,126.9 1181.4,126.6 1182.1,126.2 1182.9,125.9 1183.6,125.5 1184.7,125.0 1186.6,124.4 1191.4,123.1 1197.0,122.1 1200.7,121.4 1204.4,120.7 1210.0,119.6 1214.8,118.4 1216.7,117.8 1217.8,117.4 1218.5,117.1 1219.3,116.8 1220.0,116.5 1220.8,116.2 1221.9,115.8 1223.7,115.2 1228.6,114.1 1234.1,113.1 1237.9,112.5 1241.6,111.8 1247.1,110.7 1252.0,109.7 1253.8,109.1 1254.9,108.8 1255.7,108.6 1256.4,108.3 1257.2,108.1 1257.9,107.9 1259.0,107.5 1260.9,107.0 1265.7,106.0 1271.3,105.1 1275.0,104.5 1278.7,103.8 1284.3,102.8 1289.1,101.9 1291.0,101.4 1292.1,101.1 1292.8,101.0 1293.6,100.8 1294.3,100.6 1295.1,100.4 1296.2,100.1 1298.0,99.7 1302.9,98.7 1308.4,97.9 1312.2,97.3 1315.9,96.7 1321.4,95.8 1326.3,94.9 1328.1,94.6 1329.2,94.3 1330.0,94.1 1330.7,94.0 1331.5,93.8 1332.2,93.7 1333.3,93.4 1335.2,93.1 1340.0,92.2 1345.6,91.4 1349.3,90.9 1353.0,90.3 1358.6,89.5 1363.4,88.7 1365.3,88.4 1366.4,88.2 1367.1,88.1 1367.9,87.9 1368.6,87.8 1363.1,88.8" stroke="#f58d64"/>
<polyline points="886.0,315.3 886.2,286.6 886.2,281.7 886.2,276.2 886.3,270.3 886.3,264.1 886.4,257.8 886.4,251.5 886.5,245.6 886.6,240.4 886.8,235.9 886.9,232.4 887.1,229.9 887.3,228.3 887.6,227.5 888.0,227.0 888.4,226.9 889.0,226.8 889.7,226.7 890.5,226.7 891.5,226.6 892.7,226.6 894.2,226.5 896.1,226.4 898.4,226.3 901.2,226.1 904.6,225.9 907.2,225.8 912.8,225.5 917.6,225.1 919.5,224.1 920.6,222.1 921.3,219.6 922.1,216.3 922.8,213.0 923.6,210.6 924.7,208.8 926.5,207.9 931.4,207.5 936.9,207.3 940.7,207.1 944.4,206.7 949.9,205.9 954.8,204.9 956.6,203.4 957.7,201.3 958.5,199.1 959.2,196.4 960.0,193.8 960.7,191.7 961.8,189.8 963.7,188.4 968.5,187.6 974.1,186.8 977.8,186.4 981.5,185.7 987.1,184.6 991.9,183.3 993.8,181.7 994.9,180.0 995.6,178.3 996.4,176.5 997.1,174.7 997.9,173.2 999.0,171.5 1000.8,170.1 1005.7,168.9 1011.2,167.9 1015.0,167.3 1018.7,166.5 1024.2,165.4 1029.1,164.0 1030.9,162.7 1032.0,161.4 1032.8,160.4 1033.5,159.2 1034.3,158.1 1035.0,157.0 1036.1,155.8 1038.0,154.6 1042.8,153.3 1048.4,152.3 1052.1,151.7 1055.8,150.9 1061.4,149.7 1066.2,148.3 1068.1,147.2 1069.2,146.3 1069.9,145.5 1070.7,144.7 1071.4,143.9 1072.2,143.2 1073.3,142.2 1075.1,141.2 1080.0,139.9 1085.5,138.9 1089.3,138.2 1093.0,137.4 1098.5,136.2 1103.4,134.8 1105.2,133.8 1106.3,133.0 1107.1,132.5 1107.8,131.9 1108.6,131.3 1109.3,130.7 1110.4,130.0 1112.3,129.1 1117.1,127.8 1122.7,126.7 1126.4,126.0 1130.1,125.2 1135.7,124.0 1140.5,122.6 1142.4,121.8 1143.5,121.1 1144.2,120.7 1145.0,120.2 1145.7,119.8 1146.5,119.3 1147.6,118.7 1149.4,118.0 1154.3,116.7 1159.8,115.6 1163.6,114.9 1167.3,114.1 1172.8,113.0 1177.7,111.7 1179.5,111.0 1180.6,110.5 1181.4,110.2 1182.1,109.8 1182.9,109.5 1183.6,109.1 1184.7,108.7 1186.6,108.0 1191.4,106.8 1197.0,105.8 1200.7,105.1 1204.4,104.4 1210.0,103.3 1214.8,102.2 1216.7,101.6 1217.8,101.2 1218.5,100.9 1219.3,100.7 1220.0,100.4 1220.8,100.1 1221.9,99.7 1223.7,99.2 1228.6,98.1 1234.1,97.1 1237.9,96.5 1241.6,95.9 1247.1,94.9 1252.0,93.9 1253.8,93.4 1254.9,93.1 1255.7,92.8 1256.4,92.6 1257.2,92.4 1257.9,92.2 1259.0,91.9 1260.9,91.4 1265.7,90.4 1271.3,89.5 1275.0,89.0 1278.7,88.4 1284.3,87.5 1289.1,86.6 1291.0,86.2 1292.1,85.9 1292.8,85.7 1293.6,85.6 1294.3,85.4 1295.1,85.2 1296.2,84.9 1298.0,84.6 1302.9,83.7 1308.4,82.9 1312.2,82.4 1315.9,81.9 1321.4,81.0 1326.3,80.3 1328.1,79.9 1329.2,79.7 1330.0,79.6 1330.7,79.4 1331.5,79.3 1332.2,79.1 1333.3,78.9 1335.2,78.6 1340.0,77.8 1345.6,77.1 1349.3,76.7 1353.0,76.2 1358.6,75.5 1363.4,74.8 1365.3,74.5 1366.4,74.3 1367.1,74.2 1367.9,74.1 1368.6,73.9 1363.1,74.8" stroke="#f6a67e"/>
<polyline points="886.0,315.3 886.2,282.7 886.2,277.1 886.2,271.0 886.3,264.4 886.3,257.5 886.4,250.4 886.4,243.6 886.5,237.1 886.6,231.3 886.8,226.5 886.9,222.7 887.1,220.0 887.3,218.2 887.6,217.3 888.0,216.8 888.4,216.6 889.0,216.6 889.7,216.5 890.5,216.5 891.5,216.4 892.7,216.3 894.2,216.2 896.1,216.1 898.4,216.0 901.2,215.9 904.6,215.7 907.2,215.5 912.8,215.2 917.6,214.8 919.5,213.8 920.6,211.7 921.3,209.1 922.1,205.7 922.8,202.4 923.6,199.9 924.7,198.0 926.5,197.1 931.4,196.7 936.9,196.5 940.7,196.3 944.4,195.8 949.9,194.9 954.8,193.8 956.6,192.2 957.7,189.8 958.5,187.4 959.2,184.5 960.0,181.7 960.7,179.4 961.8,177.3 963.7,175.8 968.5,174.9 974.1,174.1 977.8,173.6 981.5,172.9 987.1,171.7 991.9,170.1 993.8,168.5 994.9,166.5 995.6,164.7 996.4,162.7 997.1,160.8 997.9,159.1 999.0,157.3 1000.8,155.7 1005.7,154.4 1011.2,153.4 1015.0,152.7 1018.7,151.9 1024.2,150.7 1029.1,149.2 1030.9,147.8 1032.0,146.5 1032.8,145.4 1033.5,144.2 1034.3,143.0 1035.0,141.9 1036.1,140.6 1038.0,139.4 1042.8,138.0 1048.4,137.0 1052.1,136.3 1055.8,135.5 1061.4,134.3 1066.2,132.8 1068.1,131.7 1069.2,130.7 1069.9,129.9 1070.7,129.1 1071.4,128.3 1072.2,127.5 1073.3,126.6 1075.1,125.5 1080.0,124.2 1085.5,123.1 1089.3,122.5 1093.0,121.7 1098.5,120.5 1103.4,119.0 1105.2,118.1 1106.3,117.3 1107.1,116.7 1107.8,116.1 1108.6,115.5 1109.3,115.0 1110.4,114.2 1112.3,113.4 1117.1,112.1 1122.7,111.0 1126.4,110.3 1130.1,109.5 1135.7,108.3 1140.5,107.0 1142.4,106.2 1143.5,105.6 1144.2,105.2 1145.0,104.7 1145.7,104.3 1146.5,103.9 1147.6,103.3 1149.4,102.5 1154.3,101.3 1159.8,100.3 1163.6,99.6 1167.3,98.9 1172.8,97.8 1177.7,96.6 1179.5,96.0 1180.6,95.5 1181.4,95.2 1182.1,94.8 1182.9,94.5 1183.6,94.2 1184.7,93.7 1186.6,93.1 1191.4,92.0 1197.0,91.1 1200.7,90.5 1204.4,89.8 1210.0,88.8 1214.8,87.8 1216.7,87.3 1217.8,86.9 1218.5,86.7 1219.3,86.4 1220.0,86.1 1220.8,85.9 1221.9,85.6 1223.7,85.1 1228.6,84.1 1234.1,83.2 1237.9,82.7 1241.6,82.1 1247.1,81.2 1252.0,80.3 1253.8,79.9 1254.9,79.6 1255.7,79.4 1256.4,79.2 1257.2,79.0 1257.9,78.9 1259.0,78.6 1260.9,78.2 1265.7,77.4 1271.3,76.6 1275.0,76.1 1278.7,75.6 1284.3,74.8 1289.1,74.0 1291.0,73.7 1292.1,73.5 1292.8,73.3 1293.6,73.2 1294.3,73.0 1295.1,72.9 1296.2,72.7 1298.0,72.3 1302.9,71.6 1308.4,70.9 1312.2,70.5 1315.9,70.1 1321.4,69.4 1326.3,68.8 1328.1,68.5 1329.2,68.3 1330.0,68.2 1330.7,68.1 1331.5,67.9 1332.2,67.8 1333.3,67.7 1335.2,67.4 1340.0,66.8 1345.6,66.2 1349.3,65.8 1353.0,65.5 1358.6,64.9 1363.4,64.3 1365.3,64.1 1366.4,64.0 1367.1,63.9 1367.9,63.8 1368.6,63.7 1363.1,64.4" stroke="#f6be9b"/>
<polyline points="886.0,315.3 886.2,279.3 886.2,273.2 886.2,266.5 886.3,259.3 886.3,251.8 886.4,244.2 886.4,236.8 886.5,229.9 886.6,223.7 886.8,218.6 886.9,214.5 887.1,211.7 887.3,209.8 887.6,208.8 888.0,208.3 888.4,208.1 889.0,208.0 889.7,208.0 890.5,207.9 891.5,207.9 892.7,207.8 894.2,207.7 896.1,207.6 898.4,207.4 901.2,207.3 904.6,207.0 907.2,206.9 912.8,206.5 917.6,206.0 919.5,204.9 920.6,202.5 921.3,199.5 922.1,195.6 922.8,191.8 923.6,189.1 924.7,186.9 926.5,185.9 931.4,185.5 936.9,185.2 940.7,184.9 944.4,184.4 949.9,183.5 954.8,182.3 956.6,180.5 957.7,178.0 958.5,175.4 959.2,172.3 960.0,169.2 960.7,166.8 961.8,164.5 963.7,163.0 968.5,161.9 974.1,161.1 977.8,160.6 981.5,159.8 987.1,158.6 991.9,157.0 993.8,155.2 994.9,153.2 995.6,151.3 996.4,149.2 997.1,147.2 997.9,145.5 999.0,143.6 1000.8,142.1 1005.7,140.7 1011.2,139.6 1015.0,138.9 1018.7,138.1 1024.2,136.9 1029.1,135.3 1030.9,133.9 1032.0,132.6 1032.8,131.4 1033.5,130.2 1034.3,129.0 1035.0,127.9 1036.1,126.6 1038.0,125.3 1042.8,124.0 1048.4,122.9 1052.1,122.2 1055.8,121.4 1061.4,120.2 1066.2,118.7 1068.1,117.6 1069.2,116.6 1069.9,115.9 1070.7,115.1 1071.4,114.2 1072.2,113.5 1073.3,112.6 1075.1,111.5 1080.0,110.2 1085.5,109.2 1089.3,108.5 1093.0,107.8 1098.5,106.6 1103.4,105.2 1105.2,104.2 1106.3,103.5 1107.1,102.9 1107.8,102.4 1108.6,101.8 1109.3,101.3 1110.4,100.6 1112.3,99.7 1117.1,98.5 1122.7,97.4 1126.4,96.8 1130.1,96.1 1135.7,94.9 1140.5,93.7 1142.4,92.9 1143.5,92.4 1144.2,91.9 1145.0,91.5 1145.7,91.1 1146.5,90.7 1147.6,90.2 1149.4,89.5 1154.3,88.3 1159.8,87.4 1163.6,86.8 1167.3,86.1 1172.8,85.1 1177.7,84.0 1179.5,83.4 1180.6,83.0 1181.4,82.7 1182.1,82.4 1182.9,82.1 1183.6,81.8 1184.7,81.4 1186.6,80.9 1191.4,79.9 1197.0,79.0 1200.7,78.5 1204.4,77.9 1210.0,77.1 1214.8,76.1 1216.7,75.7 1217.8,75.4 1218.5,75.1 1219.3,74.9 1220.0,74.7 1220.8,74.5 1221.9,74.2 1223.7,73.7 1228.6,72.9 1234.1,72.2 1237.9,71.7 1241.6,71.2 1247.1,70.5 1252.0,69.7 1253.8,69.3 1254.9,69.1 1255.7,68.9 1256.4,68.8 1257.2,68.6 1257.9,68.4 1259.0,68.2 1260.9,67.9 1265.7,67.2 1271.3,66.6 1275.0,66.1 1278.7,65.7 1284.3,65.1 1289.1,64.5 1291.0,64.2 1292.1,64.0 1292.8,63.9 1293.6,63.8 1294.3,63.6 1295.1,63.5 1296.2,63.3 1298.0,63.1 1302.9,62.5 1308.4,62.0 1312.2,61.6 1315.9,61.3 1321.4,60.8 1326.3,60.3 1328.1,60.0 1329.2,59.9 1330.0,59.8 1330.7,59.7 1331.5,59.6 1332.2,59.5 1333.3,59.4 1335.2,59.2 1340.0,58.7 1345.6,58.3 1349.3,58.0 1353.0,57.7 1358.6,57.3 1363.4,56.9 1365.3,56.7 1366.4,56.6 1367.1,56.5 1367.9,56.5 1368.6,56.4 1363.1,56.9" stroke="#f8d4bc"/>
<polyline points="886.0,315.3 886.2,276.2 886.2,269.6 886.2,262.4 886.3,254.8 886.3,246.8 886.4,238.7 886.4,230.8 886.5,223.5 886.6,217.0 886.8,211.6 886.9,207.3 887.1,204.4 887.3,202.4 887.6,201.4 888.0,200.9 888.4,200.7 889.0,200.6 889.7,200.5 890.5,200.5 891.5,200.4 892.7,200.3 894.2,200.2 896.1,200.1 898.4,199.9 901.2,199.7 904.6,199.5 907.2,199.3 912.8,198.9 917.6,198.4 919.5,197.1 920.6,194.5 921.3,191.3 922.1,187.2 922.8,183.1 923.6,180.2 924.7,177.9 926.5,176.8 931.4,176.3 936.9,176.0 940.7,175.8 944.4,175.2 949.9,174.2 954.8,172.9 956.6,170.9 957.7,168.2 958.5,165.3 959.2,162.0 960.0,158.7 960.7,156.1 961.8,153.7 963.7,152.0 968.5,150.9 974.1,150.1 977.8,149.5 981.5,148.7 987.1,147.4 991.9,145.7 993.8,143.8 994.9,141.6 995.6,139.7 996.4,137.5 997.1,135.4 997.9,133.6 999.0,131.6 1000.8,130.0 1005.7,128.6 1011.2,127.5 1015.0,126.8 1018.7,126.0 1024.2,124.7 1029.1,123.1 1030.9,121.7 1032.0,120.3 1032.8,119.2 1033.5,117.9 1034.3,116.7 1035.0,115.6 1036.1,114.3 1038.0,113.1 1042.8,111.7 1048.4,110.7 1052.1,110.0 1055.8,109.2 1061.4,108.0 1066.2,106.6 1068.1,105.5 1069.2,104.5 1069.9,103.8 1070.7,103.0 1071.4,102.2 1072.2,101.5 1073.3,100.6 1075.1,99.6 1080.0,98.3 1085.5,97.3 1089.3,96.7 1093.0,96.0 1098.5,94.8 1103.4,93.5 1105.2,92.6 1106.3,91.9 1107.1,91.4 1107.8,90.9 1108.6,90.3 1109.3,89.8 1110.4,89.2 1112.3,88.4 1117.1,87.2 1122.7,86.3 1126.4,85.7 1130.1,85.0 1135.7,84.0 1140.5,82.8 1142.4,82.2 1143.5,81.7 1144.2,81.3 1145.0,80.9 1145.7,80.5 1146.5,80.2 1147.6,79.7 1149.4,79.1 1154.3,78.1 1159.8,77.2 1163.6,76.7 1167.3,76.1 1172.8,75.2 1177.7,74.2 1179.5,73.7 1180.6,73.4 1181.4,73.1 1182.1,72.8 1182.9,72.6 1183.6,72.3 1184.7,72.0 1186.6,71.5 1191.4,70.7 1197.0,69.9 1200.7,69.5 1204.4,69.0 1210.0,68.2 1214.8,67.5 1216.7,67.1 1217.8,66.8 1218.5,66.6 1219.3,66.5 1220.0,66.3 1220.8,66.1 1221.9,65.8 1223.7,65.5 1228.6,64.8 1234.1,64.2 1237.9,63.8 1241.6,63.4 1247.1,62.8 1252.0,62.2 1253.8,61.9 1254.9,61.7 1255.7,61.6 1256.4,61.4 1257.2,61.3 1257.9,61.2 1259.0,61.0 1260.9,60.7 1265.7,60.2 1271.3,59.7 1275.0,59.3 1278.7,59.0 1284.3,58.5 1289.1,58.0 1291.0,57.8 1292.1,57.7 1292.8,57.6 1293.6,57.5 1294.3,57.4 1295.1,57.3 1296.2,57.2 1298.0,57.0 1302.9,56.5 1308.4,56.1 1312.2,55.9 1315.9,55.6 1321.4,55.2 1326.3,54.8 1328.1,54.7 1329.2,54.6 1330.0,54.5 1330.7,54.4 1331.5,54.4 1332.2,54.3 1333.3,54.2 1335.2,54.0 1340.0,53.7 1345.6,53.4 1349.3,53.2 1353.0,53.0 1358.6,52.7 1363.4,52.4 1365.3,52.3 1366.4,52.2 1367.1,52.1 1367.9,52.1 1368.6,52.0 1363.1,52.4" stroke="#faebdd"/>
</g>
<g clip-path="url(#c3)" fill="none" stroke-width="3.5" stroke-linejoin="round" stroke-linecap="butt">
<polyline points="316.0,639.0 316.1,639.0 316.1,639.0 316.2,639.0 316.2,639.0 316.3,639.0 316.3,639.0 316.4,639.0 316.5,639.0 316.6,639.0 316.7,639.0 316.9,639.0 317.1,639.0 317.3,639.0 317.6,639.0 318.0,639.0 318.4,639.0 318.9,639.0 319.6,639.0 320.4,639.0 321.4,638.9 322.7,638.9 324.2,638.9 326.1,638.9 328.3,638.9 331.1,638.8 334.6,638.8 337.2,638.8 342.7,638.8 347.6,638.8 349.4,638.8 350.5,638.8 351.3,638.8 352.0,638.8 352.8,638.8 353.5,638.8 354.6,638.8 356.5,638.8 361.3,638.8 366.9,638.8 370.6,638.8 374.3,638.8 379.9,638.8 384.7,638.8 386.6,638.8 387.7,638.8 388.4,638.8 389.2,638.8 389.9,638.8 390.7,638.8 391.8,638.8 393.6,638.8 398.5,638.8 404.0,638.8 407.8,638.8 411.5,638.8 417.0,638.8 421.9,638.8 423.7,638.8 424.8,638.8 425.6,638.8 426.3,638.8 427.1,638.8 427.8,638.8 428.9,638.8 430.8,638.8 435.6,638.8 441.2,638.8 444.9,638.8 448.6,638.8 454.2,638.8 459.0,638.8 460.9,638.8 462.0,638.8 462.7,638.8 463.5,638.8 464.2,638.8 465.0,638.8 466.1,638.8 467.9,638.8 472.8,638.8 478.3,638.8 482.1,638.8 485.8,638.8 491.3,638.8 496.2,638.8 498.0,638.8 499.1,638.8 499.9,638.8 500.6,638.8 501.4,638.8 502.1,638.8 503.2,638.8 505.1,638.8 509.9,638.8 515.5,638.8 519.2,638.8 522.9,638.8 528.5,638.8 533.3,638.8 535.2,638.8 536.3,638.8 537.0,638.8 537.8,638.8 538.5,638.8 539.3,638.8 540.4,638.8 542.2,638.8 547.1,638.8 552.6,638.8 556.4,638.8 560.1,638.8 565.6,638.8 570.5,638.8 572.3,638.8 573.4,638.8 574.2,638.8 574.9,638.8 575.7,638.8 576.4,638.8 577.5,638.8 579.4,638.8 584.2,638.8 589.8,638.8 593.5,638.8 597.2,638.8 602.8,638.8 607.6,638.8 609.5,638.8 610.6,638.8 611.3,638.8 612.1,638.8 612.8,638.8 613.6,638.8 614.7,638.8 616.5,638.8 621.4,638.8 626.9,638.8 630.7,638.8 634.4,638.8 639.9,638.8 644.8,638.8 646.6,638.8 647.7,638.8 648.5,638.8 649.2,638.8 650.0,638.8 650.7,638.8 651.8,638.8 653.7,638.8 658.5,638.8 664.1,638.8 667.8,638.8 671.5,638.8 677.1,638.8 681.9,638.8 683.8,638.8 684.9,638.8 685.6,638.8 686.4,638.8 687.1,638.8 687.9,638.8 689.0,638.8 690.8,638.8 695.7,638.8 701.2,638.8 705.0,638.8 708.7,638.8 714.2,638.8 719.1,638.8 720.9,638.8 722.0,638.8 722.8,638.8 723.5,638.8 724.3,638.8 725.0,638.8 726.1,638.8 728.0,638.8 732.8,638.8 738.4,638.8 742.1,638.8 745.8,638.8 751.4,638.8 756.2,638.8 758.1,638.8 759.2,638.8 759.9,638.8 760.7,638.8 761.4,638.8 762.2,638.8 763.3,638.8 765.1,638.8 770.0,638.8 775.5,638.8 779.3,638.8 783.0,638.8 788.5,638.8 793.4,638.8 795.2,638.8 796.3,638.8 797.1,638.8 797.8,638.8 798.6,638.8 793.0,638.8" stroke="#03051a"/>
<polyline points="316.0,639.0 316.1,639.0 316.1,639.0 316.2,639.0 316.2,639.0 316.3,639.0 316.3,639.0 316.4,639.0 316.5,639.0 316.6,639.0 316.7,639.0 316.9,639.0 317.1,639.0 317.3,639.0 317.6,638.9 318.0,638.9 318.4,638.9 318.9,638.9 319.6,638.8 320.4,638.8 321.4,638.7 322.7,638.7 324.2,638.6 326.1,638.6 328.3,638.5 331.1,638.4 334.6,638.4 337.2,638.4 342.7,638.3 347.6,638.3 349.4,638.3 350.5,638.3 351.3,638.3 352.0,638.3 352.8,638.3 353.5,638.3 354.6,638.3 356.5,638.3 361.3,638.3 366.9,638.2 370.6,638.2 374.3,638.2 379.9,638.2 384.7,638.2 386.6,638.2 387.7,638.2 388.4,638.2 389.2,638.2 389.9,638.2 390.7,638.2 391.8,638.2 393.6,638.2 398.5,638.2 404.0,638.1 407.8,638.1 411.5,638.1 417.0,638.1 421.9,638.1 423.7,638.1 424.8,638.1 425.6,638.1 426.3,638.1 427.1,638.0 427.8,638.0 428.9,638.0 430.8,638.0 435.6,638.0 441.2,638.0 444.9,638.0 448.6,638.0 454.2,637.9 459.0,637.9 460.9,637.9 462.0,637.9 462.7,637.9 463.5,637.9 464.2,637.9 465.0,637.9 466.1,637.9 467.9,637.9 472.8,637.9 478.3,637.9 482.1,637.9 485.8,637.9 491.3,637.9 496.2,637.8 498.0,637.8 499.1,637.8 499.9,637.8 500.6,637.8 501.4,637.8 502.1,637.8 503.2,637.8 505.1,637.8 509.9,637.8 515.5,637.8 519.2,637.8 522.9,637.8 528.5,637.8 533.3,637.8 535.2,637.7 536.3,637.7 537.0,637.7 537.8,637.7 538.5,637.7 539.3,637.7 540.4,637.7 542.2,637.7 547.1,637.7 552.6,637.7 556.4,637.7 560.1,637.7 565.6,637.7 570.5,637.7 572.3,637.6 573.4,637.6 574.2,637.6 574.9,637.6 575.7,637.6 576.4,637.6 577.5,637.6 579.4,637.6 584.2,637.6 589.8,637.6 593.5,637.6 597.2,637.6 602.8,637.6 607.6,637.5 609.5,637.5 610.6,637.5 611.3,637.5 612.1,637.5 612.8,637.5 613.6,637.5 614.7,637.5 616.5,637.5 621.4,637.5 626.9,637.5 630.7,637.5 634.4,637.5 639.9,637.4 644.8,637.4 646.6,637.4 647.7,637.4 648.5,637.4 649.2,637.4 650.0,637.4 650.7,637.4 651.8,637.4 653.7,637.4 658.5,637.4 664.1,637.4 667.8,637.3 671.5,637.3 677.1,637.3 681.9,637.3 683.8,637.3 684.9,637.3 685.6,637.3 686.4,637.3 687.1,637.3 687.9,637.3 689.0,637.3 690.8,637.3 695.7,637.2 701.2,637.2 705.0,637.2 708.7,637.2 714.2,637.2 719.1,637.2 720.9,637.2 722.0,637.1 722.8,637.1 723.5,637.1 724.3,637.1 725.0,637.1 726.1,637.1 728.0,637.1 732.8,637.1 738.4,637.1 742.1,637.1 745.8,637.1 751.4,637.0 756.2,637.0 758.1,637.0 759.2,637.0 759.9,637.0 760.7,637.0 761.4,637.0 762.2,637.0 763.3,637.0 765.1,637.0 770.0,637.0 775.5,636.9 779.3,636.9 783.0,636.9 788.5,636.9 793.4,636.9 795.2,636.9 796.3,636.8 797.1,636.8 797.8,636.8 798.6,636.8 793.0,636.9" stroke="#170f28"/>
<polyline points="316.0,639.0 316.1,639.0 316.1,639.0 316.2,639.0 316.2,639.0 316.3,639.0 316.3,639.0 316.4,639.0 316.5,639.0 316.6,639.0 316.7,638.9 316.9,638.9 317.1,638.9 317.3,638.8 317.6,638.8 318.0,638.7 318.4,638.7 318.9,638.6 319.6,638.5 320.4,638.4 321.4,638.3 322.7,638.1 324.2,638.0 326.1,637.8 328.3,637.6 331.1,637.5 334.6,637.3 337.2,637.2 342.7,637.0 347.6,636.8 349.4,636.8 350.5,636.8 351.3,636.7 352.0,636.7 352.8,636.7 353.5,636.7 354.6,636.7 356.5,636.6 361.3,636.5 366.9,636.4 370.6,636.4 374.3,636.3 379.9,636.2 384.7,636.2 386.6,636.1 387.7,636.1 388.4,636.1 389.2,636.1 389.9,636.1 390.7,636.1 391.8,636.1 393.6,636.0 398.5,636.0 404.0,635.9 407.8,635.8 411.5,635.8 417.0,635.7 421.9,635.6 423.7,635.6 424.8,635.6 425.6,635.6 426.3,635.6 427.1,635.5 427.8,635.5 428.9,635.5 430.8,635.5 435.6,635.4 441.2,635.3 444.9,635.3 448.6,635.2 454.2,635.1 459.0,635.1 460.9,635.1 462.0,635.0 462.7,635.0 463.5,635.0 464.2,635.0 465.0,635.0 466.1,635.0 467.9,635.0 472.8,634.9 478.3,634.8 482.1,634.8 485.8,634.7 491.3,634.6 496.2,634.5 498.0,634.5 499.1,634.5 499.9,634.5 500.6,634.5 501.4,634.5 502.1,634.5 503.2,634.4 505.1,634.4 509.9,634.4 515.5,634.3 519.2,634.2 522.9,634.2 528.5,634.1 533.3,634.0 535.2,634.0 536.3,634.0 537.0,634.0 537.8,633.9 538.5,633.9 539.3,633.9 540.4,633.9 542.2,633.9 547.1,633.8 552.6,633.7 556.4,633.7 560.1,633.6 565.6,633.5 570.5,633.4 572.3,633.4 573.4,633.4 574.2,633.4 574.9,633.4 575.7,633.4 576.4,633.3 577.5,633.3 579.4,633.3 584.2,633.2 589.8,633.1 593.5,633.1 597.2,633.0 602.8,632.9 607.6,632.8 609.5,632.8 610.6,632.8 611.3,632.8 612.1,632.8 612.8,632.7 613.6,632.7 614.7,632.7 616.5,632.7 621.4,632.6 626.9,632.5 630.7,632.5 634.4,632.4 639.9,632.3 644.8,632.2 646.6,632.2 647.7,632.2 648.5,632.2 649.2,632.1 650.0,632.1 650.7,632.1 651.8,632.1 653.7,632.1 658.5,632.0 664.1,631.9 667.8,631.8 671.5,631.8 677.1,631.7 681.9,631.6 683.8,631.5 684.9,631.5 685.6,631.5 686.4,631.5 687.1,631.5 687.9,631.5 689.0,631.4 690.8,631.4 695.7,631.3 701.2,631.2 705.0,631.2 708.7,631.1 714.2,631.0 719.1,630.9 720.9,630.9 722.0,630.9 722.8,630.8 723.5,630.8 724.3,630.8 725.0,630.8 726.1,630.8 728.0,630.7 732.8,630.7 738.4,630.6 742.1,630.5 745.8,630.4 751.4,630.3 756.2,630.2 758.1,630.2 759.2,630.2 759.9,630.2 760.7,630.1 761.4,630.1 762.2,630.1 763.3,630.1 765.1,630.1 770.0,630.0 775.5,629.9 779.3,629.8 783.0,629.7 788.5,629.6 793.4,629.5 795.2,629.5 796.3,629.5 797.1,629.4 797.8,629.4 798.6,629.4 793.0,629.5" stroke="#2d1738"/>
<polyline points="316.0,639.0 316.1,638.8 316.1,638.8 316.2,638.7 316.2,638.7 316.3,638.6 316.3,638.5 316.4,638.4 316.5,638.3 316.6,638.1 316.7,638.0 316.9,637.8 317.1,637.7 317.3,637.5 317.6,637.3 318.0,637.1 318.4,636.8 318.9,636.6 319.6,636.3 320.4,635.9 321.4,635.6 322.7,635.2 324.2,634.9 326.1,634.5 328.3,634.2 331.1,633.9 334.6,633.6 337.2,633.4 342.7,633.1 347.6,632.9 349.4,632.8 350.5,632.8 351.3,632.7 352.0,632.6 352.8,632.5 353.5,632.5 354.6,632.4 356.5,632.3 361.3,632.1 366.9,631.9 370.6,631.8 374.3,631.7 379.9,631.5 384.7,631.3 386.6,631.2 387.7,631.1 388.4,631.1 389.2,631.0 389.9,631.0 390.7,630.9 391.8,630.8 393.6,630.8 398.5,630.6 404.0,630.4 407.8,630.2 411.5,630.1 417.0,629.9 421.9,629.7 423.7,629.6 424.8,629.5 425.6,629.5 426.3,629.4 427.1,629.3 427.8,629.3 428.9,629.2 430.8,629.1 435.6,628.9 441.2,628.7 444.9,628.6 448.6,628.4 454.2,628.1 459.0,627.9 460.9,627.8 462.0,627.7 462.7,627.6 463.5,627.6 464.2,627.5 465.0,627.5 466.1,627.4 467.9,627.3 472.8,627.0 478.3,626.8 482.1,626.6 485.8,626.4 491.3,626.1 496.2,625.8 498.0,625.7 499.1,625.6 499.9,625.5 500.6,625.5 501.4,625.4 502.1,625.4 503.2,625.3 505.1,625.1 509.9,624.9 515.5,624.6 519.2,624.4 522.9,624.2 528.5,623.8 533.3,623.5 535.2,623.4 536.3,623.3 537.0,623.3 537.8,623.2 538.5,623.2 539.3,623.1 540.4,623.0 542.2,622.9 547.1,622.6 552.6,622.3 556.4,622.1 560.1,621.9 565.6,621.6 570.5,621.3 572.3,621.2 573.4,621.1 574.2,621.0 574.9,621.0 575.7,620.9 576.4,620.9 577.5,620.8 579.4,620.7 584.2,620.4 589.8,620.1 593.5,619.9 597.2,619.7 602.8,619.3 607.6,619.0 609.5,618.9 610.6,618.8 611.3,618.8 612.1,618.7 612.8,618.7 613.6,618.6 614.7,618.6 616.5,618.4 621.4,618.1 626.9,617.8 630.7,617.6 634.4,617.4 639.9,617.1 644.8,616.8 646.6,616.6 647.7,616.6 648.5,616.5 649.2,616.5 650.0,616.4 650.7,616.4 651.8,616.3 653.7,616.2 658.5,615.9 664.1,615.6 667.8,615.3 671.5,615.1 677.1,614.8 681.9,614.5 683.8,614.4 684.9,614.3 685.6,614.2 686.4,614.2 687.1,614.1 687.9,614.1 689.0,614.0 690.8,613.9 695.7,613.6 701.2,613.3 705.0,613.0 708.7,612.8 714.2,612.5 719.1,612.2 720.9,612.0 722.0,612.0 722.8,611.9 723.5,611.9 724.3,611.8 725.0,611.8 726.1,611.7 728.0,611.6 732.8,611.3 738.4,610.9 742.1,610.7 745.8,610.5 751.4,610.1 756.2,609.8 758.1,609.7 759.2,609.6 759.9,609.6 760.7,609.5 761.4,609.5 762.2,609.4 763.3,609.4 765.1,609.2 770.0,608.9 775.5,608.6 779.3,608.4 783.0,608.1 788.5,607.8 793.4,607.5 795.2,607.3 796.3,607.3 797.1,607.2 797.8,607.2 798.6,607.1 793.0,607.5" stroke="#431c46"/>
<polyline points="316.0,639.0 316.1,637.7 316.1,637.4 316.2,637.1 316.2,636.7 316.3,636.3 316.3,635.9 316.4,635.4 316.5,634.8 316.6,634.3 316.7,633.7 316.9,633.1 317.1,632.6 317.3,632.1 317.6,631.6 318.0,631.1 318.4,630.6 318.9,630.1 319.6,629.7 320.4,629.2 321.4,628.9 322.7,628.6 324.2,628.3 326.1,628.1 328.3,627.9 331.1,627.7 334.6,627.4 337.2,627.3 342.7,626.9 347.6,626.6 349.4,626.4 350.5,626.1 351.3,625.8 352.0,625.3 352.8,624.9 353.5,624.6 354.6,624.3 356.5,624.1 361.3,623.8 366.9,623.4 370.6,623.2 374.3,623.0 379.9,622.6 384.7,622.3 386.6,622.1 387.7,621.9 388.4,621.7 389.2,621.5 389.9,621.2 390.7,621.0 391.8,620.8 393.6,620.6 398.5,620.3 404.0,619.9 407.8,619.7 411.5,619.5 417.0,619.2 421.9,618.8 423.7,618.6 424.8,618.4 425.6,618.3 426.3,618.1 427.1,617.9 427.8,617.7 428.9,617.5 430.8,617.3 435.6,617.0 441.2,616.7 444.9,616.4 448.6,616.2 454.2,615.8 459.0,615.4 460.9,615.2 462.0,615.0 462.7,614.8 463.5,614.7 464.2,614.5 465.0,614.3 466.1,614.2 467.9,613.9 472.8,613.5 478.3,613.2 482.1,612.9 485.8,612.6 491.3,612.2 496.2,611.8 498.0,611.5 499.1,611.3 499.9,611.2 500.6,611.1 501.4,610.9 502.1,610.8 503.2,610.6 505.1,610.4 509.9,609.9 515.5,609.5 519.2,609.2 522.9,608.9 528.5,608.5 533.3,608.0 535.2,607.7 536.3,607.6 537.0,607.4 537.8,607.3 538.5,607.2 539.3,607.1 540.4,606.9 542.2,606.6 547.1,606.2 552.6,605.7 556.4,605.4 560.1,605.1 565.6,604.6 570.5,604.1 572.3,603.8 573.4,603.6 574.2,603.5 574.9,603.4 575.7,603.3 576.4,603.2 577.5,603.0 579.4,602.7 584.2,602.2 589.8,601.7 593.5,601.4 597.2,601.1 602.8,600.5 607.6,600.0 609.5,599.8 610.6,599.6 611.3,599.5 612.1,599.4 612.8,599.2 613.6,599.1 614.7,599.0 616.5,598.7 621.4,598.2 626.9,597.7 630.7,597.3 634.4,597.0 639.9,596.4 644.8,595.8 646.6,595.6 647.7,595.4 648.5,595.3 649.2,595.2 650.0,595.1 650.7,595.0 651.8,594.9 653.7,594.6 658.5,594.1 664.1,593.5 667.8,593.1 671.5,592.8 677.1,592.2 681.9,591.6 683.8,591.4 684.9,591.2 685.6,591.1 686.4,591.0 687.1,590.9 687.9,590.8 689.0,590.6 690.8,590.4 695.7,589.8 701.2,589.3 705.0,588.9 708.7,588.5 714.2,587.9 719.1,587.3 720.9,587.0 722.0,586.9 722.8,586.8 723.5,586.7 724.3,586.6 725.0,586.5 726.1,586.3 728.0,586.1 732.8,585.5 738.4,584.9 742.1,584.5 745.8,584.1 751.4,583.5 756.2,582.9 758.1,582.6 759.2,582.5 759.9,582.4 760.7,582.3 761.4,582.2 762.2,582.1 763.3,581.9 765.1,581.7 770.0,581.1 775.5,580.5 779.3,580.1 783.0,579.6 788.5,579.0 793.4,578.4 795.2,578.1 796.3,578.0 797.1,577.9 797.8,577.8 798.6,577.7 793.0,578.4" stroke="#5b1e51"/>
<polyline points="316.0,639.0 316.1,634.5 316.1,633.7 316.2,632.7 316.2,631.6 316.3,630.4 316.3,629.1 316.4,627.7 316.5,626.3 316.6,625.0 316.7,623.7 316.9,622.6 317.1,621.6 317.3,620.8 317.6,620.1 318.0,619.6 318.4,619.1 318.9,618.7 319.6,618.4 320.4,618.2 321.4,618.0 322.7,617.9 324.2,617.8 326.1,617.7 328.3,617.7 331.1,617.6 334.6,617.5 337.2,617.4 342.7,617.2 347.6,617.0 349.4,616.8 350.5,616.4 351.3,615.9 352.0,615.2 352.8,614.5 353.5,614.0 354.6,613.6 356.5,613.4 361.3,613.2 366.9,613.0 370.6,612.9 374.3,612.7 379.9,612.5 384.7,612.1 386.6,611.8 387.7,611.4 388.4,610.9 389.2,610.4 389.9,609.8 390.7,609.3 391.8,608.9 393.6,608.6 398.5,608.3 404.0,608.0 407.8,607.8 411.5,607.6 417.0,607.2 421.9,606.8 423.7,606.4 424.8,605.9 425.6,605.6 426.3,605.1 427.1,604.7 427.8,604.3 428.9,603.8 430.8,603.5 435.6,603.0 441.2,602.7 444.9,602.4 448.6,602.1 454.2,601.6 459.0,601.1 460.9,600.7 462.0,600.3 462.7,600.0 463.5,599.6 464.2,599.2 465.0,598.9 466.1,598.5 467.9,598.1 472.8,597.5 478.3,597.1 482.1,596.8 485.8,596.4 491.3,595.9 496.2,595.3 498.0,594.8 499.1,594.5 499.9,594.2 500.6,593.9 501.4,593.6 502.1,593.3 503.2,592.9 505.1,592.5 509.9,591.9 515.5,591.3 519.2,591.0 522.9,590.6 528.5,590.0 533.3,589.3 535.2,588.9 536.3,588.6 537.0,588.3 537.8,588.1 538.5,587.8 539.3,587.6 540.4,587.2 542.2,586.8 547.1,586.2 552.6,585.6 556.4,585.2 560.1,584.8 565.6,584.1 570.5,583.4 572.3,583.0 573.4,582.7 574.2,582.5 574.9,582.3 575.7,582.1 576.4,581.9 577.5,581.6 579.4,581.2 584.2,580.5 589.8,579.9 593.5,579.5 597.2,579.0 602.8,578.4 607.6,577.7 609.5,577.3 610.6,577.0 611.3,576.8 612.1,576.6 612.8,576.5 613.6,576.3 614.7,576.0 616.5,575.6 621.4,574.9 626.9,574.3 630.7,573.8 634.4,573.4 639.9,572.7 644.8,572.0 646.6,571.6 647.7,571.4 648.5,571.2 649.2,571.0 650.0,570.9 650.7,570.7 651.8,570.5 653.7,570.1 658.5,569.4 664.1,568.7 667.8,568.3 671.5,567.8 677.1,567.1 681.9,566.4 683.8,566.0 684.9,565.8 685.6,565.7 686.4,565.5 687.1,565.4 687.9,565.2 689.0,565.0 690.8,564.6 695.7,563.9 701.2,563.2 705.0,562.8 708.7,562.3 714.2,561.6 719.1,560.8 720.9,560.5 722.0,560.3 722.8,560.2 723.5,560.0 724.3,559.9 725.0,559.7 726.1,559.5 728.0,559.2 732.8,558.5 738.4,557.8 742.1,557.3 745.8,556.8 751.4,556.1 756.2,555.4 758.1,555.1 759.2,554.9 759.9,554.7 760.7,554.6 761.4,554.5 762.2,554.4 763.3,554.2 765.1,553.9 770.0,553.1 775.5,552.4 779.3,551.9 783.0,551.5 788.5,550.7 793.4,550.0 795.2,549.7 796.3,549.5 797.1,549.4 797.8,549.3 798.6,549.1 793.0,550.0" stroke="#731f58"/>
<polyline points="316.0,639.0 316.1,629.8 316.1,628.1 316.2,626.3 316.2,624.2 316.3,622.0 316.3,619.7 316.4,617.4 316.5,615.2 316.6,613.1 316.7,611.4 316.9,610.0 317.1,609.0 317.3,608.4 317.6,608.0 318.0,607.9 318.4,607.8 318.9,607.8 319.6,607.7 320.4,607.7 321.4,607.7 322.7,607.7 324.2,607.7 326.1,607.6 328.3,607.6 331.1,607.5 334.6,607.5 337.2,607.4 342.7,607.3 347.6,607.2 349.4,606.9 350.5,606.2 351.3,605.4 352.0,604.2 352.8,603.1 353.5,602.3 354.6,601.6 356.5,601.3 361.3,601.2 366.9,601.1 370.6,601.0 374.3,600.9 379.9,600.6 384.7,600.3 386.6,599.8 387.7,599.1 388.4,598.3 389.2,597.4 389.9,596.5 390.7,595.8 391.8,595.0 393.6,594.6 398.5,594.2 404.0,594.0 407.8,593.8 411.5,593.6 417.0,593.2 421.9,592.6 423.7,592.0 424.8,591.4 425.6,590.7 426.3,590.0 427.1,589.3 427.8,588.7 428.9,588.0 430.8,587.4 435.6,586.9 441.2,586.5 444.9,586.2 448.6,585.9 454.2,585.3 459.0,584.6 460.9,584.0 462.0,583.3 462.7,582.8 463.5,582.2 464.2,581.6 465.0,581.1 466.1,580.5 467.9,579.9 472.8,579.2 478.3,578.6 482.1,578.3 485.8,577.9 491.3,577.2 496.2,576.3 498.0,575.7 499.1,575.1 499.9,574.7 500.6,574.2 501.4,573.7 502.1,573.3 503.2,572.7 505.1,572.1 509.9,571.3 515.5,570.6 519.2,570.2 522.9,569.7 528.5,569.0 533.3,568.1 535.2,567.5 536.3,567.1 537.0,566.7 537.8,566.3 538.5,565.9 539.3,565.6 540.4,565.1 542.2,564.5 547.1,563.7 552.6,563.0 556.4,562.5 560.1,562.1 565.6,561.3 570.5,560.4 572.3,559.9 573.4,559.5 574.2,559.2 574.9,559.0 575.7,558.7 576.4,558.4 577.5,558.0 579.4,557.5 584.2,556.6 589.8,555.9 593.5,555.4 597.2,554.9 602.8,554.2 607.6,553.3 609.5,552.8 610.6,552.5 611.3,552.3 612.1,552.0 612.8,551.8 613.6,551.5 614.7,551.2 616.5,550.7 621.4,549.9 626.9,549.2 630.7,548.7 634.4,548.2 639.9,547.4 644.8,546.6 646.6,546.1 647.7,545.8 648.5,545.6 649.2,545.4 650.0,545.2 650.7,545.0 651.8,544.7 653.7,544.3 658.5,543.5 664.1,542.7 667.8,542.2 671.5,541.7 677.1,540.9 681.9,540.1 683.8,539.7 684.9,539.5 685.6,539.3 686.4,539.1 687.1,538.9 687.9,538.8 689.0,538.5 690.8,538.1 695.7,537.3 701.2,536.6 705.0,536.1 708.7,535.6 714.2,534.8 719.1,534.0 720.9,533.7 722.0,533.5 722.8,533.3 723.5,533.1 724.3,533.0 725.0,532.8 726.1,532.6 728.0,532.2 732.8,531.5 738.4,530.7 742.1,530.2 745.8,529.8 751.4,529.0 756.2,528.3 758.1,527.9 759.2,527.7 759.9,527.6 760.7,527.4 761.4,527.3 762.2,527.2 763.3,526.9 765.1,526.6 770.0,525.9 775.5,525.2 779.3,524.7 783.0,524.2 788.5,523.5 793.4,522.8 795.2,522.5 796.3,522.3 797.1,522.2 797.8,522.0 798.6,521.9 793.0,522.8" stroke="#8c1d5b"/>
<polyline points="316.0,639.0 316.1,626.9 316.1,624.7 316.2,622.3 316.2,619.6 316.3,616.7 316.3,613.7 316.4,610.8 316.5,607.9 316.6,605.3 316.7,603.1 316.9,601.3 317.1,600.0 317.3,599.2 317.6,598.8 318.0,598.6 318.4,598.5 318.9,598.4 319.6,598.4 320.4,598.4 321.4,598.4 322.7,598.3 324.2,598.3 326.1,598.2 328.3,598.2 331.1,598.1 334.6,598.0 337.2,598.0 342.7,597.8 347.6,597.6 349.4,597.2 350.5,596.2 351.3,595.0 352.0,593.4 352.8,591.8 353.5,590.7 354.6,589.7 356.5,589.3 361.3,589.1 366.9,589.0 370.6,588.9 374.3,588.7 379.9,588.4 384.7,587.9 386.6,587.3 387.7,586.4 388.4,585.5 389.2,584.4 389.9,583.2 390.7,582.3 391.8,581.4 393.6,580.8 398.5,580.4 404.0,580.1 407.8,579.9 411.5,579.6 417.0,579.1 421.9,578.4 423.7,577.7 424.8,576.9 425.6,576.1 426.3,575.2 427.1,574.3 427.8,573.6 428.9,572.7 430.8,572.0 435.6,571.4 441.2,570.9 444.9,570.6 448.6,570.1 454.2,569.4 459.0,568.4 460.9,567.6 462.0,566.7 462.7,566.0 463.5,565.2 464.2,564.4 465.0,563.7 466.1,562.8 467.9,562.0 472.8,561.1 478.3,560.3 482.1,559.8 485.8,559.3 491.3,558.3 496.2,557.2 498.0,556.3 499.1,555.5 499.9,554.9 500.6,554.2 501.4,553.5 502.1,552.9 503.2,552.1 505.1,551.3 509.9,550.2 515.5,549.3 519.2,548.7 522.9,548.1 528.5,547.1 533.3,546.0 535.2,545.2 536.3,544.6 537.0,544.2 537.8,543.7 538.5,543.2 539.3,542.7 540.4,542.1 542.2,541.4 547.1,540.3 552.6,539.4 556.4,538.8 560.1,538.2 565.6,537.3 570.5,536.3 572.3,535.7 573.4,535.3 574.2,534.9 574.9,534.6 575.7,534.2 576.4,533.9 577.5,533.4 579.4,532.8 584.2,531.9 589.8,531.0 593.5,530.5 597.2,529.9 602.8,529.0 607.6,528.0 609.5,527.5 610.6,527.1 611.3,526.8 612.1,526.6 612.8,526.3 613.6,526.0 614.7,525.6 616.5,525.1 621.4,524.2 626.9,523.3 630.7,522.8 634.4,522.2 639.9,521.3 644.8,520.4 646.6,520.0 647.7,519.6 648.5,519.4 649.2,519.2 650.0,519.0 650.7,518.7 651.8,518.4 653.7,518.0 658.5,517.1 664.1,516.2 667.8,515.7 671.5,515.2 677.1,514.4 681.9,513.5 683.8,513.1 684.9,512.8 685.6,512.7 686.4,512.5 687.1,512.3 687.9,512.1 689.0,511.8 690.8,511.4 695.7,510.6 701.2,509.8 705.0,509.3 708.7,508.8 714.2,508.0 719.1,507.3 720.9,506.9 722.0,506.7 722.8,506.5 723.5,506.4 724.3,506.2 725.0,506.1 726.1,505.8 728.0,505.5 732.8,504.7 738.4,504.0 742.1,503.5 745.8,503.1 751.4,502.4 756.2,501.7 758.1,501.4 759.2,501.2 759.9,501.0 760.7,500.9 761.4,500.8 762.2,500.6 763.3,500.5 765.1,500.1 770.0,499.5 775.5,498.8 779.3,498.3 783.0,497.9 788.5,497.3 793.4,496.7 795.2,496.4 796.3,496.3 797.1,496.2 797.8,496.0 798.6,495.9 793.0,496.7" stroke="#a6195a"/>
<polyline points="316.0,639.0 316.1,622.3 316.1,619.3 316.2,616.0 316.2,612.3 316.3,608.5 316.3,604.5 316.4,600.5 316.5,596.7 316.6,593.3 316.7,590.3 316.9,588.0 317.1,586.3 317.3,585.3 317.6,584.7 318.0,584.4 318.4,584.3 318.9,584.2 319.6,584.2 320.4,584.2 321.4,584.1 322.7,584.1 324.2,584.0 326.1,584.0 328.3,583.9 331.1,583.8 334.6,583.7 337.2,583.6 342.7,583.5 347.6,583.2 349.4,582.7 350.5,581.5 351.3,580.0 352.0,578.0 352.8,576.1 353.5,574.6 354.6,573.5 356.5,572.9 361.3,572.7 366.9,572.5 370.6,572.4 374.3,572.2 379.9,571.8 384.7,571.3 386.6,570.6 387.7,569.6 388.4,568.5 389.2,567.2 389.9,565.9 390.7,564.8 391.8,563.8 393.6,563.1 398.5,562.7 404.0,562.3 407.8,562.1 411.5,561.7 417.0,561.1 421.9,560.4 423.7,559.6 424.8,558.6 425.6,557.7 426.3,556.7 427.1,555.7 427.8,554.8 428.9,553.9 430.8,553.1 435.6,552.4 441.2,551.8 444.9,551.4 448.6,550.9 454.2,550.0 459.0,548.8 460.9,547.8 462.0,546.8 462.7,545.9 463.5,545.0 464.2,544.0 465.0,543.2 466.1,542.2 467.9,541.2 472.8,540.1 478.3,539.2 482.1,538.7 485.8,538.0 491.3,536.8 496.2,535.5 498.0,534.4 499.1,533.4 499.9,532.7 500.6,531.9 501.4,531.1 502.1,530.4 503.2,529.5 505.1,528.4 509.9,527.1 515.5,526.1 519.2,525.4 522.9,524.7 528.5,523.5 533.3,522.2 535.2,521.4 536.3,520.7 537.0,520.1 537.8,519.6 538.5,519.0 539.3,518.5 540.4,517.8 542.2,517.0 547.1,515.7 552.6,514.7 556.4,514.0 560.1,513.4 565.6,512.4 570.5,511.2 572.3,510.6 573.4,510.1 574.2,509.7 574.9,509.3 575.7,508.9 576.4,508.5 577.5,508.0 579.4,507.4 584.2,506.3 589.8,505.3 593.5,504.7 597.2,504.1 602.8,503.2 607.6,502.1 609.5,501.5 610.6,501.1 611.3,500.8 612.1,500.5 612.8,500.2 613.6,499.9 614.7,499.5 616.5,498.9 621.4,497.9 626.9,497.0 630.7,496.4 634.4,495.8 639.9,494.9 644.8,493.9 646.6,493.4 647.7,493.1 648.5,492.8 649.2,492.6 650.0,492.4 650.7,492.1 651.8,491.8 653.7,491.3 658.5,490.3 664.1,489.5 667.8,488.9 671.5,488.4 677.1,487.5 681.9,486.6 683.8,486.2 684.9,485.9 685.6,485.7 686.4,485.5 687.1,485.3 687.9,485.1 689.0,484.9 690.8,484.5 695.7,483.6 701.2,482.8 705.0,482.3 708.7,481.7 714.2,481.0 719.1,480.2 720.9,479.8 722.0,479.6 722.8,479.4 723.5,479.3 724.3,479.1 725.0,479.0 726.1,478.7 728.0,478.4 732.8,477.6 738.4,476.9 742.1,476.4 745.8,475.9 751.4,475.2 756.2,474.6 758.1,474.3 759.2,474.1 759.9,474.0 760.7,473.8 761.4,473.7 762.2,473.6 763.3,473.4 765.1,473.1 770.0,472.4 775.5,471.7 779.3,471.3 783.0,470.9 788.5,470.3 793.4,469.7 795.2,469.5 796.3,469.3 797.1,469.2 797.8,469.1 798.6,469.0 793.0,469.8" stroke="#bf1654"/>
<polyline points="316.0,639.0 316.1,619.6 316.1,616.2 316.2,612.4 316.2,608.3 316.3,603.9 316.3,599.3 316.4,594.8 316.5,590.5 316.6,586.6 316.7,583.3 316.9,580.7 317.1,578.8 317.3,577.6 317.6,577.0 318.0,576.6 318.4,576.5 318.9,576.5 319.6,576.4 320.4,576.4 321.4,576.4 322.7,576.3 324.2,576.3 326.1,576.2 328.3,576.1 331.1,576.0 334.6,575.9 337.2,575.8 342.7,575.6 347.6,575.3 349.4,574.7 350.5,573.4 351.3,571.7 352.0,569.5 352.8,567.3 353.5,565.7 354.6,564.4 356.5,563.8 361.3,563.6 366.9,563.4 370.6,563.2 374.3,563.0 379.9,562.5 384.7,561.9 386.6,561.0 387.7,559.6 388.4,558.2 389.2,556.6 389.9,554.9 390.7,553.6 391.8,552.3 393.6,551.4 398.5,550.9 404.0,550.4 407.8,550.1 411.5,549.7 417.0,548.9 421.9,548.0 423.7,546.9 424.8,545.7 425.6,544.5 426.3,543.3 427.1,542.0 427.8,540.9 428.9,539.7 430.8,538.7 435.6,537.8 441.2,537.1 444.9,536.6 448.6,536.0 454.2,535.0 459.0,533.7 460.9,532.5 462.0,531.3 462.7,530.3 463.5,529.3 464.2,528.2 465.0,527.2 466.1,526.1 467.9,525.0 472.8,523.8 478.3,522.8 482.1,522.2 485.8,521.4 491.3,520.2 496.2,518.7 498.0,517.5 499.1,516.5 499.9,515.7 500.6,514.9 501.4,514.0 502.1,513.2 503.2,512.2 505.1,511.1 509.9,509.7 515.5,508.6 519.2,507.9 522.9,507.1 528.5,505.9 533.3,504.5 535.2,503.6 536.3,502.8 537.0,502.2 537.8,501.6 538.5,501.0 539.3,500.5 540.4,499.7 542.2,498.8 547.1,497.5 552.6,496.4 556.4,495.7 560.1,495.0 565.6,493.9 570.5,492.6 572.3,491.9 573.4,491.3 574.2,490.9 574.9,490.5 575.7,490.1 576.4,489.7 577.5,489.2 579.4,488.4 584.2,487.3 589.8,486.2 593.5,485.6 597.2,484.9 602.8,483.9 607.6,482.7 609.5,482.1 610.6,481.6 611.3,481.3 612.1,481.0 612.8,480.7 613.6,480.4 614.7,479.9 616.5,479.3 621.4,478.2 626.9,477.2 630.7,476.6 634.4,475.9 639.9,475.0 644.8,473.9 646.6,473.4 647.7,473.0 648.5,472.8 649.2,472.5 650.0,472.2 650.7,472.0 651.8,471.6 653.7,471.1 658.5,470.1 664.1,469.2 667.8,468.6 671.5,468.0 677.1,467.1 681.9,466.1 683.8,465.7 684.9,465.4 685.6,465.2 686.4,465.0 687.1,464.8 687.9,464.6 689.0,464.3 690.8,463.8 695.7,462.9 701.2,462.0 705.0,461.5 708.7,460.9 714.2,460.1 719.1,459.3 720.9,458.9 722.0,458.7 722.8,458.5 723.5,458.3 724.3,458.2 725.0,458.0 726.1,457.7 728.0,457.4 732.8,456.6 738.4,455.8 742.1,455.3 745.8,454.8 751.4,454.0 756.2,453.3 758.1,453.0 759.2,452.8 759.9,452.6 760.7,452.5 761.4,452.4 762.2,452.2 763.3,452.0 765.1,451.7 770.0,451.0 775.5,450.3 779.3,449.8 783.0,449.4 788.5,448.7 793.4,448.1 795.2,447.8 796.3,447.7 797.1,447.5 797.8,447.4 798.6,447.3 793.0,448.1" stroke="#d5224a"/>
<polyline points="316.0,639.0 316.1,615.1 316.1,611.0 316.2,606.3 316.2,601.3 316.3,596.0 316.3,590.6 316.4,585.2 316.5,580.1 316.6,575.5 316.7,571.6 316.9,568.6 317.1,566.4 317.3,565.0 317.6,564.2 318.0,563.8 318.4,563.7 318.9,563.6 319.6,563.6 320.4,563.5 321.4,563.5 322.7,563.4 324.2,563.4 326.1,563.3 328.3,563.2 331.1,563.1 334.6,562.9 337.2,562.8 342.7,562.6 347.6,562.3 349.4,561.5 350.5,560.0 351.3,558.0 352.0,555.4 352.8,552.9 353.5,551.0 354.6,549.5 356.5,548.8 361.3,548.5 366.9,548.3 370.6,548.1 374.3,547.8 379.9,547.2 384.7,546.5 386.6,545.4 387.7,543.8 388.4,542.2 389.2,540.2 389.9,538.3 390.7,536.7 391.8,535.2 393.6,534.2 398.5,533.5 404.0,532.9 407.8,532.6 411.5,532.1 417.0,531.2 421.9,530.1 423.7,528.9 424.8,527.5 425.6,526.2 426.3,524.7 427.1,523.3 427.8,522.0 428.9,520.7 430.8,519.5 435.6,518.5 441.2,517.7 444.9,517.2 448.6,516.5 454.2,515.4 459.0,514.1 460.9,512.8 462.0,511.6 462.7,510.6 463.5,509.5 464.2,508.4 465.0,507.4 466.1,506.2 467.9,505.0 472.8,503.7 478.3,502.7 482.1,502.1 485.8,501.3 491.3,500.1 496.2,498.6 498.0,497.4 499.1,496.4 499.9,495.6 500.6,494.8 501.4,493.9 502.1,493.2 503.2,492.2 505.1,491.1 509.9,489.7 515.5,488.6 519.2,487.8 522.9,487.1 528.5,485.9 533.3,484.5 535.2,483.5 536.3,482.8 537.0,482.2 537.8,481.6 538.5,481.0 539.3,480.5 540.4,479.7 542.2,478.8 547.1,477.5 552.6,476.4 556.4,475.7 560.1,475.0 565.6,473.9 570.5,472.6 572.3,471.9 573.4,471.3 574.2,470.9 574.9,470.5 575.7,470.1 576.4,469.6 577.5,469.1 579.4,468.4 584.2,467.2 589.8,466.2 593.5,465.5 597.2,464.8 602.8,463.8 607.6,462.6 609.5,462.0 610.6,461.5 611.3,461.2 612.1,460.9 612.8,460.6 613.6,460.3 614.7,459.8 616.5,459.2 621.4,458.1 626.9,457.1 630.7,456.5 634.4,455.9 639.9,454.9 644.8,453.8 646.6,453.3 647.7,453.0 648.5,452.7 649.2,452.4 650.0,452.2 650.7,451.9 651.8,451.6 653.7,451.1 658.5,450.1 664.1,449.2 667.8,448.6 671.5,448.0 677.1,447.1 681.9,446.1 683.8,445.7 684.9,445.4 685.6,445.2 686.4,445.0 687.1,444.8 687.9,444.6 689.0,444.3 690.8,443.9 695.7,443.0 701.2,442.1 705.0,441.6 708.7,441.1 714.2,440.2 719.1,439.4 720.9,439.0 722.0,438.8 722.8,438.6 723.5,438.5 724.3,438.3 725.0,438.1 726.1,437.9 728.0,437.5 732.8,436.7 738.4,436.0 742.1,435.5 745.8,435.0 751.4,434.2 756.2,433.5 758.1,433.2 759.2,433.0 759.9,432.9 760.7,432.7 761.4,432.6 762.2,432.4 763.3,432.3 765.1,431.9 770.0,431.2 775.5,430.5 779.3,430.1 783.0,429.7 788.5,429.0 793.4,428.4 795.2,428.1 796.3,427.9 797.1,427.8 797.8,427.7 798.6,427.6 793.0,428.4" stroke="#e53940"/>
<polyline points="316.0,639.0 316.1,611.0 316.1,606.2 316.2,600.8 316.2,595.1 316.3,589.0 316.3,582.8 316.4,576.6 316.5,570.9 316.6,565.7 316.7,561.3 316.9,557.9 317.1,555.4 317.3,553.9 317.6,553.0 318.0,552.6 318.4,552.4 318.9,552.3 319.6,552.3 320.4,552.3 321.4,552.2 322.7,552.2 324.2,552.1 326.1,552.0 328.3,551.9 331.1,551.8 334.6,551.6 337.2,551.5 342.7,551.2 347.6,550.9 349.4,550.0 350.5,548.3 351.3,546.1 352.0,543.2 352.8,540.4 353.5,538.3 354.6,536.7 356.5,535.9 361.3,535.6 366.9,535.3 370.6,535.2 374.3,534.8 379.9,534.1 384.7,533.3 386.6,532.0 387.7,530.2 388.4,528.3 389.2,526.0 389.9,523.8 390.7,522.0 391.8,520.2 393.6,519.1 398.5,518.3 404.0,517.7 407.8,517.3 411.5,516.7 417.0,515.7 421.9,514.5 423.7,513.1 424.8,511.5 425.6,510.0 426.3,508.4 427.1,506.7 427.8,505.3 428.9,503.8 430.8,502.5 435.6,501.4 441.2,500.5 444.9,500.0 448.6,499.2 454.2,498.1 459.0,496.6 460.9,495.3 462.0,494.0 462.7,493.0 463.5,491.8 464.2,490.6 465.0,489.6 466.1,488.3 467.9,487.1 472.8,485.8 478.3,484.8 482.1,484.1 485.8,483.3 491.3,482.0 496.2,480.5 498.0,479.4 499.1,478.3 499.9,477.5 500.6,476.7 501.4,475.8 502.1,475.0 503.2,474.1 505.1,473.0 509.9,471.6 515.5,470.4 519.2,469.7 522.9,468.9 528.5,467.7 533.3,466.3 535.2,465.4 536.3,464.6 537.0,464.1 537.8,463.5 538.5,462.9 539.3,462.3 540.4,461.6 542.2,460.7 547.1,459.4 552.6,458.3 556.4,457.6 560.1,456.9 565.6,455.8 570.5,454.5 572.3,453.8 573.4,453.2 574.2,452.8 574.9,452.4 575.7,452.0 576.4,451.6 577.5,451.0 579.4,450.3 584.2,449.1 589.8,448.1 593.5,447.5 597.2,446.8 602.8,445.8 607.6,444.7 609.5,444.0 610.6,443.6 611.3,443.3 612.1,443.0 612.8,442.7 613.6,442.4 614.7,441.9 616.5,441.3 621.4,440.3 626.9,439.3 630.7,438.7 634.4,438.1 639.9,437.1 644.8,436.1 646.6,435.6 647.7,435.3 648.5,435.0 649.2,434.8 650.0,434.5 650.7,434.3 651.8,434.0 653.7,433.5 658.5,432.5 664.1,431.6 667.8,431.1 671.5,430.5 677.1,429.7 681.9,428.8 683.8,428.4 684.9,428.1 685.6,427.9 686.4,427.7 687.1,427.5 687.9,427.3 689.0,427.0 690.8,426.6 695.7,425.8 701.2,425.0 705.0,424.5 708.7,424.0 714.2,423.2 719.1,422.4 720.9,422.1 722.0,421.8 722.8,421.7 723.5,421.5 724.3,421.4 725.0,421.2 726.1,421.0 728.0,420.7 732.8,419.9 738.4,419.2 742.1,418.8 745.8,418.3 751.4,417.6 756.2,416.9 758.1,416.6 759.2,416.5 759.9,416.3 760.7,416.2 761.4,416.1 762.2,416.0 763.3,415.8 765.1,415.5 770.0,414.8 775.5,414.2 779.3,413.8 783.0,413.4 788.5,412.8 793.4,412.2 795.2,412.0 796.3,411.8 797.1,411.7 797.8,411.6 798.6,411.5 793.0,412.3" stroke="#ef5640"/>
<polyline points="316.0,639.0 316.1,605.0 316.1,599.2 316.2,592.8 316.2,586.0 316.3,578.9 316.3,571.6 316.4,564.5 316.5,557.8 316.6,551.9 316.7,546.9 316.9,543.0 317.1,540.2 317.3,538.5 317.6,537.5 318.0,537.0 318.4,536.8 318.9,536.7 319.6,536.7 320.4,536.7 321.4,536.6 322.7,536.5 324.2,536.5 326.1,536.4 328.3,536.3 331.1,536.1 334.6,535.9 337.2,535.8 342.7,535.5 347.6,535.2 349.4,534.3 350.5,532.4 351.3,530.0 352.0,527.0 352.8,524.0 353.5,521.8 354.6,520.0 356.5,519.2 361.3,518.9 366.9,518.6 370.6,518.5 374.3,518.1 379.9,517.3 384.7,516.4 386.6,515.0 387.7,513.0 388.4,511.0 389.2,508.5 389.9,506.1 390.7,504.1 391.8,502.3 393.6,501.0 398.5,500.2 404.0,499.6 407.8,499.1 411.5,498.5 417.0,497.4 421.9,496.1 423.7,494.6 424.8,492.9 425.6,491.4 426.3,489.6 427.1,487.9 427.8,486.4 428.9,484.8 430.8,483.5 435.6,482.3 441.2,481.4 444.9,480.8 448.6,480.1 454.2,478.9 459.0,477.4 460.9,476.1 462.0,474.8 462.7,473.7 463.5,472.5 464.2,471.3 465.0,470.2 466.1,469.0 467.9,467.8 472.8,466.4 478.3,465.4 482.1,464.7 485.8,463.9 491.3,462.7 496.2,461.2 498.0,460.0 499.1,459.0 499.9,458.2 500.6,457.4 501.4,456.6 502.1,455.8 503.2,454.8 505.1,453.8 509.9,452.4 515.5,451.3 519.2,450.6 522.9,449.9 528.5,448.7 533.3,447.3 535.2,446.4 536.3,445.7 537.0,445.1 537.8,444.6 538.5,444.0 539.3,443.5 540.4,442.8 542.2,441.9 547.1,440.7 552.6,439.6 556.4,439.0 560.1,438.3 565.6,437.2 570.5,436.1 572.3,435.4 573.4,434.8 574.2,434.4 574.9,434.0 575.7,433.6 576.4,433.3 577.5,432.8 579.4,432.1 584.2,431.0 589.8,430.0 593.5,429.4 597.2,428.8 602.8,427.9 607.6,426.8 609.5,426.3 610.6,425.8 611.3,425.6 612.1,425.3 612.8,425.0 613.6,424.7 614.7,424.3 616.5,423.8 621.4,422.8 626.9,421.9 630.7,421.4 634.4,420.8 639.9,419.9 644.8,419.0 646.6,418.6 647.7,418.3 648.5,418.0 649.2,417.8 650.0,417.6 650.7,417.4 651.8,417.1 653.7,416.6 658.5,415.8 664.1,415.0 667.8,414.5 671.5,414.0 677.1,413.2 681.9,412.5 683.8,412.1 684.9,411.8 685.6,411.7 686.4,411.5 687.1,411.3 687.9,411.2 689.0,410.9 690.8,410.6 695.7,409.8 701.2,409.1 705.0,408.7 708.7,408.2 714.2,407.6 719.1,406.9 720.9,406.6 722.0,406.4 722.8,406.3 723.5,406.1 724.3,406.0 725.0,405.9 726.1,405.7 728.0,405.4 732.8,404.8 738.4,404.1 742.1,403.8 745.8,403.4 751.4,402.8 756.2,402.2 758.1,402.0 759.2,401.8 759.9,401.7 760.7,401.6 761.4,401.5 762.2,401.4 763.3,401.2 765.1,401.0 770.0,400.4 775.5,399.9 779.3,399.6 783.0,399.2 788.5,398.7 793.4,398.2 795.2,398.0 796.3,397.9 797.1,397.8 797.8,397.7 798.6,397.6 793.0,398.3" stroke="#f3734e"/>
<polyline points="316.0,639.0 316.1,602.4 316.1,596.2 316.2,589.5 316.2,582.2 316.3,574.6 316.3,566.9 316.4,559.4 316.5,552.4 316.6,546.2 316.7,541.0 316.9,536.9 317.1,534.0 317.3,532.2 317.6,531.1 318.0,530.7 318.4,530.5 318.9,530.4 319.6,530.3 320.4,530.3 321.4,530.2 322.7,530.1 324.2,530.1 326.1,530.0 328.3,529.8 331.1,529.7 334.6,529.5 337.2,529.3 342.7,529.0 347.6,528.6 349.4,527.6 350.5,525.4 351.3,522.8 352.0,519.4 352.8,516.0 353.5,513.5 354.6,511.6 356.5,510.7 361.3,510.3 366.9,510.0 370.6,509.8 374.3,509.4 379.9,508.5 384.7,507.4 386.6,505.8 387.7,503.5 388.4,501.1 389.2,498.3 389.9,495.5 390.7,493.3 391.8,491.2 393.6,489.8 398.5,488.8 404.0,488.1 407.8,487.6 411.5,486.9 417.0,485.7 421.9,484.2 423.7,482.6 424.8,480.7 425.6,479.0 426.3,477.0 427.1,475.1 427.8,473.5 428.9,471.7 430.8,470.3 435.6,469.0 441.2,468.0 444.9,467.3 448.6,466.5 454.2,465.3 459.0,463.8 460.9,462.4 462.0,461.1 462.7,460.0 463.5,458.7 464.2,457.5 465.0,456.5 466.1,455.2 467.9,454.0 472.8,452.6 478.3,451.6 482.1,450.9 485.8,450.1 491.3,448.9 496.2,447.4 498.0,446.3 499.1,445.3 499.9,444.5 500.6,443.7 501.4,442.9 502.1,442.2 503.2,441.2 505.1,440.2 509.9,438.9 515.5,437.8 519.2,437.2 522.9,436.4 528.5,435.3 533.3,434.0 535.2,433.1 536.3,432.4 537.0,431.9 537.8,431.3 538.5,430.8 539.3,430.3 540.4,429.6 542.2,428.8 547.1,427.6 552.6,426.6 556.4,426.0 560.1,425.4 565.6,424.3 570.5,423.2 572.3,422.5 573.4,422.0 574.2,421.7 574.9,421.3 575.7,420.9 576.4,420.5 577.5,420.0 579.4,419.4 584.2,418.4 589.8,417.5 593.5,416.9 597.2,416.3 602.8,415.4 607.6,414.4 609.5,413.9 610.6,413.5 611.3,413.3 612.1,413.0 612.8,412.7 613.6,412.5 614.7,412.1 616.5,411.6 621.4,410.7 626.9,409.9 630.7,409.4 634.4,408.9 639.9,408.1 644.8,407.2 646.6,406.8 647.7,406.5 648.5,406.3 649.2,406.1 650.0,405.9 650.7,405.7 651.8,405.4 653.7,405.0 658.5,404.3 664.1,403.6 667.8,403.1 671.5,402.7 677.1,402.0 681.9,401.3 683.8,400.9 684.9,400.7 685.6,400.6 686.4,400.4 687.1,400.2 687.9,400.1 689.0,399.9 690.8,399.6 695.7,398.9 701.2,398.3 705.0,397.9 708.7,397.5 714.2,396.9 719.1,396.3 720.9,396.1 722.0,395.9 722.8,395.8 723.5,395.6 724.3,395.5 725.0,395.4 726.1,395.2 728.0,395.0 732.8,394.4 738.4,393.9 742.1,393.6 745.8,393.2 751.4,392.7 756.2,392.2 758.1,392.0 759.2,391.9 759.9,391.8 760.7,391.7 761.4,391.6 762.2,391.5 763.3,391.4 765.1,391.2 770.0,390.7 775.5,390.3 779.3,390.0 783.0,389.7 788.5,389.2 793.4,388.8 795.2,388.7 796.3,388.6 797.1,388.5 797.8,388.4 798.6,388.3 793.0,388.9" stroke="#f58d64"/>
<polyline points="316.0,639.0 316.1,596.4 316.1,589.3 316.2,581.6 316.2,573.3 316.3,564.8 316.3,556.2 316.4,547.8 316.5,540.1 316.6,533.3 316.7,527.6 316.9,523.2 317.1,520.0 317.3,518.1 317.6,517.0 318.0,516.4 318.4,516.2 318.9,516.1 319.6,516.1 320.4,516.0 321.4,516.0 322.7,515.9 324.2,515.8 326.1,515.7 328.3,515.5 331.1,515.4 334.6,515.2 337.2,515.0 342.7,514.7 347.6,514.2 349.4,513.1 350.5,510.9 351.3,508.1 352.0,504.4 352.8,500.9 353.5,498.3 354.6,496.3 356.5,495.3 361.3,494.9 366.9,494.6 370.6,494.4 374.3,493.9 379.9,493.0 384.7,491.8 386.6,490.1 387.7,487.6 388.4,485.1 389.2,482.1 389.9,479.2 390.7,476.8 391.8,474.6 393.6,473.1 398.5,472.1 404.0,471.4 407.8,470.9 411.5,470.1 417.0,468.9 421.9,467.3 423.7,465.6 424.8,463.7 425.6,461.9 426.3,459.9 427.1,458.0 427.8,456.3 428.9,454.5 430.8,453.0 435.6,451.7 441.2,450.7 444.9,450.0 448.6,449.3 454.2,448.1 459.0,446.6 460.9,445.2 462.0,443.9 462.7,442.8 463.5,441.6 464.2,440.5 465.0,439.4 466.1,438.2 467.9,437.0 472.8,435.7 478.3,434.7 482.1,434.1 485.8,433.3 491.3,432.2 496.2,430.8 498.0,429.7 499.1,428.8 499.9,428.1 500.6,427.4 501.4,426.6 502.1,425.9 503.2,425.1 505.1,424.1 509.9,422.9 515.5,421.9 519.2,421.3 522.9,420.7 528.5,419.6 533.3,418.5 535.2,417.7 536.3,417.1 537.0,416.6 537.8,416.1 538.5,415.6 539.3,415.2 540.4,414.6 542.2,413.9 547.1,412.8 552.6,412.0 556.4,411.4 560.1,410.8 565.6,410.0 570.5,409.0 572.3,408.4 573.4,408.0 574.2,407.7 574.9,407.4 575.7,407.0 576.4,406.7 577.5,406.3 579.4,405.8 584.2,404.9 589.8,404.2 593.5,403.7 597.2,403.2 602.8,402.5 607.6,401.6 609.5,401.2 610.6,400.9 611.3,400.7 612.1,400.4 612.8,400.2 613.6,400.0 614.7,399.7 616.5,399.3 621.4,398.6 626.9,397.9 630.7,397.5 634.4,397.1 639.9,396.4 644.8,395.8 646.6,395.4 647.7,395.2 648.5,395.1 649.2,394.9 650.0,394.7 650.7,394.6 651.8,394.4 653.7,394.0 658.5,393.4 664.1,392.9 667.8,392.5 671.5,392.2 677.1,391.6 681.9,391.1 683.8,390.8 684.9,390.7 685.6,390.5 686.4,390.4 687.1,390.3 687.9,390.2 689.0,390.0 690.8,389.8 695.7,389.3 701.2,388.8 705.0,388.5 708.7,388.2 714.2,387.8 719.1,387.3 720.9,387.1 722.0,387.0 722.8,386.9 723.5,386.8 724.3,386.7 725.0,386.7 726.1,386.5 728.0,386.3 732.8,385.9 738.4,385.5 742.1,385.3 745.8,385.1 751.4,384.7 756.2,384.3 758.1,384.2 759.2,384.1 759.9,384.0 760.7,383.9 761.4,383.9 762.2,383.8 763.3,383.7 765.1,383.6 770.0,383.2 775.5,382.9 779.3,382.7 783.0,382.5 788.5,382.2 793.4,381.9 795.2,381.8 796.3,381.7 797.1,381.7 797.8,381.6 798.6,381.6 793.0,381.9" stroke="#f6a67e"/>
<polyline points="316.0,639.0 316.1,592.6 316.1,584.9 316.2,576.6 316.2,567.8 316.3,558.6 316.3,549.5 316.4,540.7 316.5,532.5 316.6,525.4 316.7,519.4 316.9,514.8 317.1,511.6 317.3,509.5 317.6,508.4 318.0,507.9 318.4,507.6 318.9,507.5 319.6,507.5 320.4,507.4 321.4,507.4 322.7,507.3 324.2,507.2 326.1,507.1 328.3,506.9 331.1,506.7 334.6,506.5 337.2,506.4 342.7,506.0 347.6,505.5 349.4,504.4 350.5,502.0 351.3,499.1 352.0,495.3 352.8,491.7 353.5,489.0 354.6,486.9 356.5,485.9 361.3,485.5 366.9,485.2 370.6,485.0 374.3,484.4 379.9,483.4 384.7,482.0 386.6,480.1 387.7,477.3 388.4,474.4 389.2,471.1 389.9,467.8 390.7,465.2 391.8,462.8 393.6,461.2 398.5,460.1 404.0,459.3 407.8,458.7 411.5,457.9 417.0,456.6 421.9,454.9 423.7,453.1 424.8,450.9 425.6,449.0 426.3,446.9 427.1,444.8 427.8,443.1 428.9,441.2 430.8,439.6 435.6,438.3 441.2,437.2 444.9,436.6 448.6,435.8 454.2,434.6 459.0,433.2 460.9,431.9 462.0,430.7 462.7,429.6 463.5,428.5 464.2,427.4 465.0,426.4 466.1,425.3 467.9,424.2 472.8,423.0 478.3,422.0 482.1,421.4 485.8,420.8 491.3,419.7 496.2,418.5 498.0,417.5 499.1,416.7 499.9,416.1 500.6,415.4 501.4,414.7 502.1,414.1 503.2,413.4 505.1,412.5 509.9,411.4 515.5,410.6 519.2,410.1 522.9,409.5 528.5,408.6 533.3,407.5 535.2,406.9 536.3,406.3 537.0,405.9 537.8,405.5 538.5,405.1 539.3,404.7 540.4,404.1 542.2,403.5 547.1,402.6 552.6,401.9 556.4,401.4 560.1,400.9 565.6,400.1 570.5,399.3 572.3,398.8 573.4,398.4 574.2,398.1 574.9,397.9 575.7,397.6 576.4,397.3 577.5,397.0 579.4,396.5 584.2,395.8 589.8,395.1 593.5,394.7 597.2,394.3 602.8,393.7 607.6,393.0 609.5,392.6 610.6,392.3 611.3,392.1 612.1,392.0 612.8,391.8 613.6,391.6 614.7,391.3 616.5,391.0 621.4,390.4 626.9,389.8 630.7,389.5 634.4,389.1 639.9,388.6 644.8,388.1 646.6,387.8 647.7,387.6 648.5,387.5 649.2,387.3 650.0,387.2 650.7,387.1 651.8,386.9 653.7,386.6 658.5,386.1 664.1,385.7 667.8,385.4 671.5,385.1 677.1,384.7 681.9,384.2 683.8,384.0 684.9,383.9 685.6,383.8 686.4,383.7 687.1,383.6 687.9,383.5 689.0,383.4 690.8,383.2 695.7,382.8 701.2,382.4 705.0,382.2 708.7,382.0 714.2,381.6 719.1,381.3 720.9,381.1 722.0,381.0 722.8,380.9 723.5,380.9 724.3,380.8 725.0,380.7 726.1,380.6 728.0,380.5 732.8,380.2 738.4,379.9 742.1,379.7 745.8,379.5 751.4,379.2 756.2,378.9 758.1,378.8 759.2,378.7 759.9,378.7 760.7,378.6 761.4,378.6 762.2,378.5 763.3,378.5 765.1,378.3 770.0,378.1 775.5,377.8 779.3,377.7 783.0,377.5 788.5,377.3 793.4,377.1 795.2,377.0 796.3,376.9 797.1,376.9 797.8,376.9 798.6,376.8 793.0,377.1" stroke="#f6be9b"/>
<polyline points="316.0,639.0 316.1,591.6 316.1,583.8 316.2,575.3 316.2,566.3 316.3,557.1 316.3,547.8 316.4,538.9 316.5,530.6 316.6,523.4 316.7,517.4 316.9,512.7 317.1,509.4 317.3,507.4 317.6,506.2 318.0,505.7 318.4,505.4 318.9,505.3 319.6,505.3 320.4,505.2 321.4,505.1 322.7,505.0 324.2,504.9 326.1,504.8 328.3,504.6 331.1,504.4 334.6,504.1 337.2,503.9 342.7,503.5 347.6,502.9 349.4,501.5 350.5,498.6 351.3,495.1 352.0,490.5 352.8,486.1 353.5,482.9 354.6,480.5 356.5,479.3 361.3,478.8 366.9,478.5 370.6,478.3 374.3,477.7 379.9,476.5 384.7,475.1 386.6,473.1 387.7,470.1 388.4,467.1 389.2,463.6 389.9,460.3 390.7,457.6 391.8,455.1 393.6,453.4 398.5,452.3 404.0,451.4 407.8,450.9 411.5,450.1 417.0,448.7 421.9,447.1 423.7,445.2 424.8,443.1 425.6,441.2 426.3,439.1 427.1,437.1 427.8,435.4 428.9,433.5 430.8,432.0 435.6,430.7 441.2,429.7 444.9,429.0 448.6,428.2 454.2,427.1 459.0,425.7 460.9,424.4 462.0,423.1 462.7,422.1 463.5,421.0 464.2,419.9 465.0,418.9 466.1,417.8 467.9,416.7 472.8,415.6 478.3,414.6 482.1,414.0 485.8,413.4 491.3,412.4 496.2,411.2 498.0,410.3 499.1,409.5 499.9,408.9 500.6,408.2 501.4,407.6 502.1,407.0 503.2,406.3 505.1,405.4 509.9,404.4 515.5,403.6 519.2,403.1 522.9,402.6 528.5,401.7 533.3,400.8 535.2,400.2 536.3,399.7 537.0,399.3 537.8,398.9 538.5,398.5 539.3,398.1 540.4,397.7 542.2,397.1 547.1,396.3 552.6,395.6 556.4,395.2 560.1,394.7 565.6,394.1 570.5,393.3 572.3,392.9 573.4,392.5 574.2,392.3 574.9,392.1 575.7,391.8 576.4,391.6 577.5,391.3 579.4,390.9 584.2,390.2 589.8,389.7 593.5,389.3 597.2,389.0 602.8,388.4 607.6,387.8 609.5,387.5 610.6,387.3 611.3,387.1 612.1,387.0 612.8,386.8 613.6,386.6 614.7,386.4 616.5,386.1 621.4,385.6 626.9,385.2 630.7,384.9 634.4,384.6 639.9,384.1 644.8,383.7 646.6,383.4 647.7,383.3 648.5,383.2 649.2,383.1 650.0,383.0 650.7,382.9 651.8,382.7 653.7,382.5 658.5,382.1 664.1,381.7 667.8,381.5 671.5,381.3 677.1,380.9 681.9,380.5 683.8,380.4 684.9,380.3 685.6,380.2 686.4,380.1 687.1,380.0 687.9,380.0 689.0,379.9 690.8,379.7 695.7,379.4 701.2,379.1 705.0,378.9 708.7,378.7 714.2,378.4 719.1,378.2 720.9,378.0 722.0,378.0 722.8,377.9 723.5,377.9 724.3,377.8 725.0,377.8 726.1,377.7 728.0,377.6 732.8,377.3 738.4,377.1 742.1,376.9 745.8,376.8 751.4,376.6 756.2,376.4 758.1,376.3 759.2,376.2 759.9,376.2 760.7,376.1 761.4,376.1 762.2,376.1 763.3,376.0 765.1,375.9 770.0,375.7 775.5,375.5 779.3,375.4 783.0,375.3 788.5,375.1 793.4,375.0 795.2,374.9 796.3,374.9 797.1,374.8 797.8,374.8 798.6,374.8 793.0,375.0" stroke="#f8d4bc"/>
<polyline points="316.0,639.0 316.1,588.7 316.1,580.5 316.2,571.6 316.2,562.2 316.3,552.5 316.3,542.9 316.4,533.6 316.5,525.1 316.6,517.6 316.7,511.5 316.9,506.7 317.1,503.4 317.3,501.3 317.6,500.1 318.0,499.5 318.4,499.3 318.9,499.2 319.6,499.1 320.4,499.1 321.4,499.0 322.7,498.9 324.2,498.7 326.1,498.6 328.3,498.4 331.1,498.2 334.6,497.9 337.2,497.7 342.7,497.2 347.6,496.6 349.4,495.1 350.5,492.1 351.3,488.4 352.0,483.7 352.8,479.1 353.5,475.8 354.6,473.3 356.5,472.1 361.3,471.6 366.9,471.2 370.6,471.0 374.3,470.4 379.9,469.2 384.7,467.8 386.6,465.7 387.7,462.7 388.4,459.7 389.2,456.2 389.9,452.8 390.7,450.1 391.8,447.6 393.6,445.9 398.5,444.8 404.0,444.0 407.8,443.4 411.5,442.6 417.0,441.2 421.9,439.5 423.7,437.7 424.8,435.6 425.6,433.7 426.3,431.7 427.1,429.6 427.8,427.9 428.9,426.1 430.8,424.6 435.6,423.4 441.2,422.4 444.9,421.7 448.6,421.0 454.2,419.8 459.0,418.4 460.9,417.1 462.0,415.8 462.7,414.8 463.5,413.7 464.2,412.6 465.0,411.7 466.1,410.6 467.9,409.5 472.8,408.4 478.3,407.5 482.1,406.9 485.8,406.3 491.3,405.3 496.2,404.1 498.0,403.2 499.1,402.4 499.9,401.8 500.6,401.2 501.4,400.6 502.1,400.0 503.2,399.3 505.1,398.6 509.9,397.6 515.5,396.8 519.2,396.4 522.9,395.8 528.5,395.1 533.3,394.1 535.2,393.6 536.3,393.1 537.0,392.7 537.8,392.4 538.5,392.0 539.3,391.7 540.4,391.2 542.2,390.7 547.1,390.0 552.6,389.3 556.4,389.0 560.1,388.6 565.6,388.0 570.5,387.3 572.3,386.9 573.4,386.6 574.2,386.4 574.9,386.2 575.7,385.9 576.4,385.7 577.5,385.5 579.4,385.1 584.2,384.5 589.8,384.0 593.5,383.7 597.2,383.4 602.8,382.9 607.6,382.4 609.5,382.2 610.6,382.0 611.3,381.8 612.1,381.7 612.8,381.6 613.6,381.4 614.7,381.3 616.5,381.0 621.4,380.6 626.9,380.2 630.7,379.9 634.4,379.7 639.9,379.3 644.8,379.0 646.6,378.8 647.7,378.6 648.5,378.6 649.2,378.5 650.0,378.4 650.7,378.3 651.8,378.2 653.7,378.0 658.5,377.7 664.1,377.4 667.8,377.2 671.5,377.0 677.1,376.7 681.9,376.4 683.8,376.3 684.9,376.2 685.6,376.2 686.4,376.1 687.1,376.0 687.9,376.0 689.0,375.9 690.8,375.8 695.7,375.5 701.2,375.3 705.0,375.2 708.7,375.0 714.2,374.8 719.1,374.6 720.9,374.5 722.0,374.5 722.8,374.4 723.5,374.4 724.3,374.3 725.0,374.3 726.1,374.3 728.0,374.2 732.8,374.0 738.4,373.8 742.1,373.7 745.8,373.6 751.4,373.4 756.2,373.3 758.1,373.2 759.2,373.2 759.9,373.1 760.7,373.1 761.4,373.1 762.2,373.1 763.3,373.0 765.1,373.0 770.0,372.8 775.5,372.7 779.3,372.6 783.0,372.5 788.5,372.4 793.4,372.3 795.2,372.3 796.3,372.2 797.1,372.2 797.8,372.2 798.6,372.2 793.0,372.3" stroke="#faebdd"/>
</g>
<g clip-path="url(#c4)" fill="none" stroke-width="3.5" stroke-linejoin="round" stroke-linecap="butt">
<polyline points="886.0,639.0 886.2,639.0 886.2,639.0 886.2,639.0 886.3,639.0 886.3,639.0 886.4,639.0 886.4,639.0 886.5,639.0 886.6,639.0 886.8,639.0 886.9,639.0 887.1,639.0 887.3,639.0 887.6,639.0 888.0,639.0 888.4,639.0 889.0,639.0 889.7,639.0 890.5,639.0 891.5,638.9 892.7,638.9 894.2,638.9 896.1,638.9 898.4,638.9 901.2,638.8 904.6,638.8 907.2,638.8 912.8,638.8 917.6,638.8 919.5,638.8 920.6,638.8 921.3,638.8 922.1,638.8 922.8,638.8 923.6,638.8 924.7,638.8 926.5,638.8 931.4,638.8 936.9,638.8 940.7,638.8 944.4,638.8 949.9,638.7 954.8,638.7 956.6,638.7 957.7,638.7 958.5,638.7 959.2,638.7 960.0,638.7 960.7,638.7 961.8,638.7 963.7,638.7 968.5,638.7 974.1,638.7 977.8,638.6 981.5,638.6 987.1,638.6 991.9,638.6 993.8,638.6 994.9,638.6 995.6,638.6 996.4,638.6 997.1,638.6 997.9,638.6 999.0,638.6 1000.8,638.6 1005.7,638.5 1011.2,638.5 1015.0,638.5 1018.7,638.5 1024.2,638.5 1029.1,638.5 1030.9,638.5 1032.0,638.5 1032.8,638.5 1033.5,638.5 1034.3,638.5 1035.0,638.5 1036.1,638.5 1038.0,638.5 1042.8,638.5 1048.4,638.5 1052.1,638.5 1055.8,638.5 1061.4,638.5 1066.2,638.5 1068.1,638.5 1069.2,638.5 1069.9,638.5 1070.7,638.5 1071.4,638.5 1072.2,638.5 1073.3,638.5 1075.1,638.5 1080.0,638.5 1085.5,638.5 1089.3,638.5 1093.0,638.5 1098.5,638.5 1103.4,638.5 1105.2,638.5 1106.3,638.5 1107.1,638.5 1107.8,638.5 1108.6,638.5 1109.3,638.5 1110.4,638.5 1112.3,638.5 1117.1,638.5 1122.7,638.5 1126.4,638.5 1130.1,638.5 1135.7,638.5 1140.5,638.5 1142.4,638.5 1143.5,638.5 1144.2,638.5 1145.0,638.5 1145.7,638.5 1146.5,638.5 1147.6,638.5 1149.4,638.5 1154.3,638.5 1159.8,638.5 1163.6,638.5 1167.3,638.5 1172.8,638.5 1177.7,638.5 1179.5,638.5 1180.6,638.5 1181.4,638.5 1182.1,638.5 1182.9,638.5 1183.6,638.5 1184.7,638.5 1186.6,638.5 1191.4,638.5 1197.0,638.5 1200.7,638.5 1204.4,638.5 1210.0,638.5 1214.8,638.5 1216.7,638.5 1217.8,638.4 1218.5,638.4 1219.3,638.4 1220.0,638.4 1220.8,638.4 1221.9,638.4 1223.7,638.4 1228.6,638.4 1234.1,638.4 1237.9,638.4 1241.6,638.4 1247.1,638.4 1252.0,638.4 1253.8,638.4 1254.9,638.4 1255.7,638.4 1256.4,638.4 1257.2,638.4 1257.9,638.4 1259.0,638.4 1260.9,638.4 1265.7,638.4 1271.3,638.4 1275.0,638.4 1278.7,638.4 1284.3,638.4 1289.1,638.4 1291.0,638.4 1292.1,638.3 1292.8,638.3 1293.6,638.3 1294.3,638.3 1295.1,638.3 1296.2,638.3 1298.0,638.3 1302.9,638.3 1308.4,638.3 1312.2,638.3 1315.9,638.3 1321.4,638.3 1326.3,638.3 1328.1,638.3 1329.2,638.3 1330.0,638.3 1330.7,638.3 1331.5,638.3 1332.2,638.3 1333.3,638.3 1335.2,638.3 1340.0,638.3 1345.6,638.3 1349.3,638.2 1353.0,638.2 1358.6,638.2 1363.4,638.2 1365.3,638.2 1366.4,638.2 1367.1,638.2 1367.9,638.2 1368.6,638.2 1363.1,638.2" stroke="#03051a"/>
<polyline points="886.0,639.0 886.2,639.0 886.2,639.0 886.2,639.0 886.3,639.0 886.3,639.0 886.4,639.0 886.4,639.0 886.5,639.0 886.6,639.0 886.8,639.0 886.9,639.0 887.1,639.0 887.3,639.0 887.6,638.9 888.0,638.9 888.4,638.9 889.0,638.8 889.7,638.8 890.5,638.8 891.5,638.7 892.7,638.6 894.2,638.6 896.1,638.5 898.4,638.4 901.2,638.3 904.6,638.2 907.2,638.1 912.8,638.0 917.6,637.8 919.5,637.8 920.6,637.8 921.3,637.8 922.1,637.8 922.8,637.7 923.6,637.7 924.7,637.7 926.5,637.7 931.4,637.6 936.9,637.5 940.7,637.5 944.4,637.4 949.9,637.4 954.8,637.3 956.6,637.3 957.7,637.3 958.5,637.3 959.2,637.3 960.0,637.3 960.7,637.3 961.8,637.3 963.7,637.2 968.5,637.2 974.1,637.2 977.8,637.1 981.5,637.1 987.1,637.1 991.9,637.0 993.8,637.0 994.9,637.0 995.6,637.0 996.4,637.0 997.1,637.0 997.9,637.0 999.0,637.0 1000.8,637.0 1005.7,637.0 1011.2,636.9 1015.0,636.9 1018.7,636.9 1024.2,636.8 1029.1,636.8 1030.9,636.8 1032.0,636.8 1032.8,636.8 1033.5,636.8 1034.3,636.8 1035.0,636.8 1036.1,636.8 1038.0,636.8 1042.8,636.7 1048.4,636.7 1052.1,636.7 1055.8,636.7 1061.4,636.7 1066.2,636.6 1068.1,636.6 1069.2,636.6 1069.9,636.6 1070.7,636.6 1071.4,636.6 1072.2,636.6 1073.3,636.6 1075.1,636.6 1080.0,636.6 1085.5,636.5 1089.3,636.5 1093.0,636.5 1098.5,636.5 1103.4,636.5 1105.2,636.5 1106.3,636.4 1107.1,636.4 1107.8,636.4 1108.6,636.4 1109.3,636.4 1110.4,636.4 1112.3,636.4 1117.1,636.4 1122.7,636.4 1126.4,636.3 1130.1,636.3 1135.7,636.3 1140.5,636.3 1142.4,636.3 1143.5,636.3 1144.2,636.3 1145.0,636.2 1145.7,636.2 1146.5,636.2 1147.6,636.2 1149.4,636.2 1154.3,636.2 1159.8,636.2 1163.6,636.2 1167.3,636.1 1172.8,636.1 1177.7,636.1 1179.5,636.1 1180.6,636.1 1181.4,636.1 1182.1,636.0 1182.9,636.0 1183.6,636.0 1184.7,636.0 1186.6,636.0 1191.4,636.0 1197.0,636.0 1200.7,635.9 1204.4,635.9 1210.0,635.9 1214.8,635.9 1216.7,635.9 1217.8,635.8 1218.5,635.8 1219.3,635.8 1220.0,635.8 1220.8,635.8 1221.9,635.8 1223.7,635.8 1228.6,635.8 1234.1,635.8 1237.9,635.7 1241.6,635.7 1247.1,635.7 1252.0,635.7 1253.8,635.6 1254.9,635.6 1255.7,635.6 1256.4,635.6 1257.2,635.6 1257.9,635.6 1259.0,635.6 1260.9,635.6 1265.7,635.6 1271.3,635.5 1275.0,635.5 1278.7,635.5 1284.3,635.5 1289.1,635.4 1291.0,635.4 1292.1,635.4 1292.8,635.4 1293.6,635.4 1294.3,635.4 1295.1,635.4 1296.2,635.4 1298.0,635.4 1302.9,635.3 1308.4,635.3 1312.2,635.3 1315.9,635.3 1321.4,635.2 1326.3,635.2 1328.1,635.2 1329.2,635.2 1330.0,635.2 1330.7,635.2 1331.5,635.2 1332.2,635.2 1333.3,635.2 1335.2,635.1 1340.0,635.1 1345.6,635.1 1349.3,635.1 1353.0,635.0 1358.6,635.0 1363.4,635.0 1365.3,635.0 1366.4,634.9 1367.1,634.9 1367.9,634.9 1368.6,634.9 1363.1,635.0" stroke="#170f28"/>
<polyline points="886.0,639.0 886.2,639.0 886.2,639.0 886.2,639.0 886.3,639.0 886.3,639.0 886.4,639.0 886.4,639.0 886.5,639.0 886.6,638.9 886.8,638.9 886.9,638.8 887.1,638.8 887.3,638.7 887.6,638.7 888.0,638.6 888.4,638.5 889.0,638.3 889.7,638.2 890.5,638.0 891.5,637.8 892.7,637.6 894.2,637.3 896.1,637.0 898.4,636.7 901.2,636.3 904.6,635.9 907.2,635.7 912.8,635.2 917.6,634.8 919.5,634.7 920.6,634.6 921.3,634.6 922.1,634.5 922.8,634.5 923.6,634.4 924.7,634.4 926.5,634.3 931.4,634.0 936.9,633.7 940.7,633.5 944.4,633.3 949.9,633.1 954.8,632.9 956.6,632.8 957.7,632.8 958.5,632.7 959.2,632.7 960.0,632.7 960.7,632.6 961.8,632.6 963.7,632.5 968.5,632.3 974.1,632.1 977.8,631.9 981.5,631.8 987.1,631.6 991.9,631.5 993.8,631.4 994.9,631.4 995.6,631.3 996.4,631.3 997.1,631.3 997.9,631.3 999.0,631.2 1000.8,631.2 1005.7,631.0 1011.2,630.8 1015.0,630.7 1018.7,630.6 1024.2,630.5 1029.1,630.3 1030.9,630.3 1032.0,630.3 1032.8,630.2 1033.5,630.2 1034.3,630.2 1035.0,630.2 1036.1,630.2 1038.0,630.1 1042.8,630.0 1048.4,629.8 1052.1,629.8 1055.8,629.7 1061.4,629.5 1066.2,629.4 1068.1,629.4 1069.2,629.4 1069.9,629.4 1070.7,629.3 1071.4,629.3 1072.2,629.3 1073.3,629.3 1075.1,629.2 1080.0,629.1 1085.5,629.0 1089.3,628.9 1093.0,628.8 1098.5,628.7 1103.4,628.6 1105.2,628.5 1106.3,628.5 1107.1,628.5 1107.8,628.5 1108.6,628.4 1109.3,628.4 1110.4,628.4 1112.3,628.4 1117.1,628.2 1122.7,628.1 1126.4,628.0 1130.1,627.9 1135.7,627.7 1140.5,627.6 1142.4,627.5 1143.5,627.5 1144.2,627.5 1145.0,627.5 1145.7,627.4 1146.5,627.4 1147.6,627.4 1149.4,627.3 1154.3,627.2 1159.8,627.0 1163.6,626.9 1167.3,626.8 1172.8,626.6 1177.7,626.5 1179.5,626.4 1180.6,626.4 1181.4,626.4 1182.1,626.3 1182.9,626.3 1183.6,626.3 1184.7,626.3 1186.6,626.2 1191.4,626.1 1197.0,625.9 1200.7,625.8 1204.4,625.6 1210.0,625.5 1214.8,625.3 1216.7,625.2 1217.8,625.2 1218.5,625.2 1219.3,625.1 1220.0,625.1 1220.8,625.1 1221.9,625.1 1223.7,625.0 1228.6,624.8 1234.1,624.6 1237.9,624.5 1241.6,624.4 1247.1,624.2 1252.0,624.0 1253.8,623.9 1254.9,623.9 1255.7,623.9 1256.4,623.9 1257.2,623.8 1257.9,623.8 1259.0,623.8 1260.9,623.7 1265.7,623.5 1271.3,623.3 1275.0,623.2 1278.7,623.1 1284.3,622.8 1289.1,622.7 1291.0,622.6 1292.1,622.5 1292.8,622.5 1293.6,622.5 1294.3,622.5 1295.1,622.4 1296.2,622.4 1298.0,622.3 1302.9,622.1 1308.4,621.9 1312.2,621.8 1315.9,621.6 1321.4,621.4 1326.3,621.2 1328.1,621.1 1329.2,621.1 1330.0,621.1 1330.7,621.0 1331.5,621.0 1332.2,621.0 1333.3,620.9 1335.2,620.9 1340.0,620.7 1345.6,620.4 1349.3,620.3 1353.0,620.1 1358.6,619.9 1363.4,619.7 1365.3,619.6 1366.4,619.6 1367.1,619.5 1367.9,619.5 1368.6,619.5 1363.1,619.7" stroke="#2d1738"/>
<polyline points="886.0,639.0 886.2,638.6 886.2,638.6 886.2,638.4 886.3,638.3 886.3,638.2 886.4,638.0 886.4,637.8 886.5,637.6 886.6,637.4 886.8,637.1 886.9,636.8 887.1,636.5 887.3,636.2 887.6,635.9 888.0,635.5 888.4,635.0 889.0,634.5 889.7,634.0 890.5,633.4 891.5,632.7 892.7,632.0 894.2,631.3 896.1,630.6 898.4,629.9 901.2,629.2 904.6,628.6 907.2,628.2 912.8,627.5 917.6,627.0 919.5,626.8 920.6,626.6 921.3,626.4 922.1,626.2 922.8,626.0 923.6,625.8 924.7,625.7 926.5,625.4 931.4,625.0 936.9,624.4 940.7,624.0 944.4,623.8 949.9,623.4 954.8,623.0 956.6,622.9 957.7,622.8 958.5,622.7 959.2,622.5 960.0,622.4 960.7,622.3 961.8,622.2 963.7,622.1 968.5,621.7 974.1,621.3 977.8,621.1 981.5,620.9 987.1,620.5 991.9,620.2 993.8,620.1 994.9,620.0 995.6,619.9 996.4,619.8 997.1,619.8 997.9,619.7 999.0,619.6 1000.8,619.4 1005.7,619.1 1011.2,618.8 1015.0,618.6 1018.7,618.4 1024.2,618.1 1029.1,617.8 1030.9,617.6 1032.0,617.5 1032.8,617.5 1033.5,617.4 1034.3,617.3 1035.0,617.3 1036.1,617.2 1038.0,617.1 1042.8,616.8 1048.4,616.5 1052.1,616.2 1055.8,616.0 1061.4,615.7 1066.2,615.4 1068.1,615.3 1069.2,615.2 1069.9,615.2 1070.7,615.1 1071.4,615.1 1072.2,615.0 1073.3,614.9 1075.1,614.8 1080.0,614.5 1085.5,614.2 1089.3,614.0 1093.0,613.8 1098.5,613.4 1103.4,613.1 1105.2,613.0 1106.3,612.9 1107.1,612.8 1107.8,612.8 1108.6,612.7 1109.3,612.7 1110.4,612.6 1112.3,612.5 1117.1,612.1 1122.7,611.8 1126.4,611.6 1130.1,611.3 1135.7,611.0 1140.5,610.6 1142.4,610.5 1143.5,610.4 1144.2,610.3 1145.0,610.2 1145.7,610.2 1146.5,610.1 1147.6,610.0 1149.4,609.9 1154.3,609.5 1159.8,609.2 1163.6,608.9 1167.3,608.6 1172.8,608.2 1177.7,607.9 1179.5,607.7 1180.6,607.6 1181.4,607.6 1182.1,607.5 1182.9,607.4 1183.6,607.4 1184.7,607.3 1186.6,607.1 1191.4,606.8 1197.0,606.4 1200.7,606.1 1204.4,605.8 1210.0,605.4 1214.8,605.0 1216.7,604.8 1217.8,604.7 1218.5,604.7 1219.3,604.6 1220.0,604.6 1220.8,604.5 1221.9,604.4 1223.7,604.2 1228.6,603.9 1234.1,603.4 1237.9,603.2 1241.6,602.9 1247.1,602.4 1252.0,602.0 1253.8,601.8 1254.9,601.7 1255.7,601.7 1256.4,601.6 1257.2,601.5 1257.9,601.5 1259.0,601.4 1260.9,601.2 1265.7,600.8 1271.3,600.4 1275.0,600.1 1278.7,599.8 1284.3,599.3 1289.1,598.9 1291.0,598.7 1292.1,598.6 1292.8,598.5 1293.6,598.5 1294.3,598.4 1295.1,598.3 1296.2,598.2 1298.0,598.1 1302.9,597.6 1308.4,597.2 1312.2,596.9 1315.9,596.5 1321.4,596.1 1326.3,595.6 1328.1,595.4 1329.2,595.3 1330.0,595.3 1330.7,595.2 1331.5,595.1 1332.2,595.1 1333.3,595.0 1335.2,594.8 1340.0,594.3 1345.6,593.9 1349.3,593.5 1353.0,593.2 1358.6,592.7 1363.4,592.2 1365.3,592.0 1366.4,591.9 1367.1,591.9 1367.9,591.8 1368.6,591.7 1363.1,592.3" stroke="#431c46"/>
<polyline points="886.0,639.0 886.2,636.3 886.2,635.7 886.2,635.0 886.3,634.3 886.3,633.5 886.4,632.5 886.4,631.5 886.5,630.4 886.6,629.3 886.8,628.2 886.9,627.1 887.1,626.0 887.3,625.0 887.6,624.0 888.0,623.1 888.4,622.1 889.0,621.2 889.7,620.3 890.5,619.6 891.5,618.9 892.7,618.3 894.2,617.9 896.1,617.6 898.4,617.4 901.2,617.2 904.6,616.9 907.2,616.8 912.8,616.4 917.6,616.1 919.5,615.8 920.6,615.6 921.3,615.2 922.1,614.8 922.8,614.4 923.6,614.1 924.7,613.8 926.5,613.6 931.4,613.3 936.9,612.9 940.7,612.7 944.4,612.4 949.9,612.0 954.8,611.7 956.6,611.4 957.7,611.2 958.5,610.9 959.2,610.6 960.0,610.3 960.7,610.1 961.8,609.8 963.7,609.6 968.5,609.2 974.1,608.9 977.8,608.6 981.5,608.4 987.1,607.9 991.9,607.5 993.8,607.3 994.9,607.0 995.6,606.8 996.4,606.6 997.1,606.4 997.9,606.2 999.0,605.9 1000.8,605.7 1005.7,605.3 1011.2,604.9 1015.0,604.6 1018.7,604.3 1024.2,603.8 1029.1,603.3 1030.9,603.1 1032.0,602.8 1032.8,602.6 1033.5,602.4 1034.3,602.2 1035.0,602.1 1036.1,601.8 1038.0,601.5 1042.8,601.1 1048.4,600.6 1052.1,600.3 1055.8,600.0 1061.4,599.5 1066.2,599.0 1068.1,598.7 1069.2,598.5 1069.9,598.3 1070.7,598.1 1071.4,597.9 1072.2,597.8 1073.3,597.6 1075.1,597.3 1080.0,596.8 1085.5,596.3 1089.3,595.9 1093.0,595.6 1098.5,595.0 1103.4,594.4 1105.2,594.2 1106.3,594.0 1107.1,593.8 1107.8,593.6 1108.6,593.5 1109.3,593.3 1110.4,593.1 1112.3,592.8 1117.1,592.3 1122.7,591.7 1126.4,591.4 1130.1,591.0 1135.7,590.4 1140.5,589.8 1142.4,589.5 1143.5,589.3 1144.2,589.2 1145.0,589.0 1145.7,588.9 1146.5,588.8 1147.6,588.6 1149.4,588.3 1154.3,587.7 1159.8,587.1 1163.6,586.7 1167.3,586.3 1172.8,585.7 1177.7,585.1 1179.5,584.8 1180.6,584.6 1181.4,584.5 1182.1,584.4 1182.9,584.2 1183.6,584.1 1184.7,583.9 1186.6,583.6 1191.4,583.0 1197.0,582.4 1200.7,582.0 1204.4,581.6 1210.0,581.0 1214.8,580.3 1216.7,580.1 1217.8,579.9 1218.5,579.8 1219.3,579.6 1220.0,579.5 1220.8,579.4 1221.9,579.2 1223.7,578.9 1228.6,578.3 1234.1,577.7 1237.9,577.3 1241.6,576.8 1247.1,576.2 1252.0,575.5 1253.8,575.3 1254.9,575.1 1255.7,575.0 1256.4,574.8 1257.2,574.7 1257.9,574.6 1259.0,574.4 1260.9,574.2 1265.7,573.5 1271.3,572.9 1275.0,572.4 1278.7,572.0 1284.3,571.3 1289.1,570.7 1291.0,570.4 1292.1,570.2 1292.8,570.1 1293.6,570.0 1294.3,569.9 1295.1,569.8 1296.2,569.6 1298.0,569.3 1302.9,568.7 1308.4,568.0 1312.2,567.6 1315.9,567.1 1321.4,566.4 1326.3,565.7 1328.1,565.5 1329.2,565.3 1330.0,565.2 1330.7,565.1 1331.5,565.0 1332.2,564.9 1333.3,564.7 1335.2,564.4 1340.0,563.8 1345.6,563.1 1349.3,562.6 1353.0,562.2 1358.6,561.4 1363.4,560.8 1365.3,560.5 1366.4,560.4 1367.1,560.2 1367.9,560.1 1368.6,560.0 1363.1,560.8" stroke="#5b1e51"/>
<polyline points="886.0,639.0 886.2,631.8 886.2,630.4 886.2,628.8 886.3,627.1 886.3,625.1 886.4,623.1 886.4,620.9 886.5,618.7 886.6,616.6 886.8,614.6 886.9,612.8 887.1,611.3 887.3,610.1 887.6,609.0 888.0,608.2 888.4,607.5 889.0,606.9 889.7,606.4 890.5,606.1 891.5,605.8 892.7,605.6 894.2,605.5 896.1,605.4 898.4,605.3 901.2,605.2 904.6,605.0 907.2,604.9 912.8,604.7 917.6,604.5 919.5,604.2 920.6,603.6 921.3,603.0 922.1,602.1 922.8,601.2 923.6,600.6 924.7,600.0 926.5,599.7 931.4,599.5 936.9,599.3 940.7,599.1 944.4,599.0 949.9,598.6 954.8,598.3 956.6,597.9 957.7,597.4 958.5,596.9 959.2,596.2 960.0,595.6 960.7,595.1 961.8,594.6 963.7,594.2 968.5,593.8 974.1,593.5 977.8,593.3 981.5,593.0 987.1,592.6 991.9,592.1 993.8,591.7 994.9,591.2 995.6,590.8 996.4,590.3 997.1,589.8 997.9,589.4 999.0,588.9 1000.8,588.5 1005.7,588.0 1011.2,587.6 1015.0,587.3 1018.7,587.0 1024.2,586.4 1029.1,585.8 1030.9,585.3 1032.0,584.8 1032.8,584.5 1033.5,584.0 1034.3,583.6 1035.0,583.2 1036.1,582.8 1038.0,582.3 1042.8,581.7 1048.4,581.1 1052.1,580.8 1055.8,580.4 1061.4,579.7 1066.2,579.0 1068.1,578.5 1069.2,578.1 1069.9,577.7 1070.7,577.4 1071.4,577.0 1072.2,576.7 1073.3,576.2 1075.1,575.7 1080.0,575.0 1085.5,574.4 1089.3,574.0 1093.0,573.5 1098.5,572.8 1103.4,572.1 1105.2,571.6 1106.3,571.2 1107.1,571.0 1107.8,570.7 1108.6,570.4 1109.3,570.1 1110.4,569.7 1112.3,569.3 1117.1,568.5 1122.7,567.8 1126.4,567.4 1130.1,566.9 1135.7,566.2 1140.5,565.4 1142.4,565.0 1143.5,564.7 1144.2,564.5 1145.0,564.2 1145.7,564.0 1146.5,563.7 1147.6,563.4 1149.4,563.0 1154.3,562.2 1159.8,561.5 1163.6,561.1 1167.3,560.6 1172.8,559.9 1177.7,559.1 1179.5,558.7 1180.6,558.4 1181.4,558.2 1182.1,558.0 1182.9,557.8 1183.6,557.6 1184.7,557.3 1186.6,556.9 1191.4,556.2 1197.0,555.4 1200.7,555.0 1204.4,554.5 1210.0,553.7 1214.8,553.0 1216.7,552.6 1217.8,552.3 1218.5,552.2 1219.3,552.0 1220.0,551.8 1220.8,551.6 1221.9,551.4 1223.7,551.0 1228.6,550.2 1234.1,549.5 1237.9,549.0 1241.6,548.6 1247.1,547.8 1252.0,547.0 1253.8,546.7 1254.9,546.5 1255.7,546.3 1256.4,546.1 1257.2,546.0 1257.9,545.8 1259.0,545.6 1260.9,545.2 1265.7,544.5 1271.3,543.8 1275.0,543.3 1278.7,542.8 1284.3,542.0 1289.1,541.3 1291.0,541.0 1292.1,540.7 1292.8,540.6 1293.6,540.5 1294.3,540.3 1295.1,540.2 1296.2,540.0 1298.0,539.6 1302.9,538.9 1308.4,538.2 1312.2,537.7 1315.9,537.2 1321.4,536.4 1326.3,535.7 1328.1,535.4 1329.2,535.2 1330.0,535.1 1330.7,534.9 1331.5,534.8 1332.2,534.7 1333.3,534.5 1335.2,534.2 1340.0,533.4 1345.6,532.7 1349.3,532.2 1353.0,531.8 1358.6,531.0 1363.4,530.3 1365.3,530.0 1366.4,529.8 1367.1,529.7 1367.9,529.6 1368.6,529.4 1363.1,530.4" stroke="#731f58"/>
<polyline points="886.0,639.0 886.2,624.9 886.2,622.4 886.2,619.6 886.3,616.5 886.3,613.3 886.4,609.9 886.4,606.5 886.5,603.2 886.6,600.2 886.8,597.7 886.9,595.7 887.1,594.3 887.3,593.3 887.6,592.8 888.0,592.6 888.4,592.5 889.0,592.4 889.7,592.4 890.5,592.4 891.5,592.4 892.7,592.4 894.2,592.3 896.1,592.3 898.4,592.2 901.2,592.2 904.6,592.1 907.2,592.0 912.8,591.9 917.6,591.7 919.5,591.3 920.6,590.5 921.3,589.4 922.1,588.0 922.8,586.6 923.6,585.6 924.7,584.8 926.5,584.4 931.4,584.2 936.9,584.1 940.7,584.0 944.4,583.9 949.9,583.6 954.8,583.2 956.6,582.6 957.7,581.8 958.5,581.0 959.2,580.0 960.0,579.0 960.7,578.1 961.8,577.3 963.7,576.8 968.5,576.4 974.1,576.2 977.8,576.0 981.5,575.7 987.1,575.3 991.9,574.7 993.8,574.1 994.9,573.3 995.6,572.7 996.4,571.9 997.1,571.1 997.9,570.5 999.0,569.7 1000.8,569.1 1005.7,568.6 1011.2,568.2 1015.0,567.9 1018.7,567.5 1024.2,566.9 1029.1,566.2 1030.9,565.5 1032.0,564.8 1032.8,564.3 1033.5,563.6 1034.3,563.0 1035.0,562.5 1036.1,561.8 1038.0,561.1 1042.8,560.4 1048.4,559.8 1052.1,559.5 1055.8,559.0 1061.4,558.3 1066.2,557.4 1068.1,556.8 1069.2,556.2 1069.9,555.7 1070.7,555.2 1071.4,554.7 1072.2,554.2 1073.3,553.6 1075.1,553.0 1080.0,552.1 1085.5,551.5 1089.3,551.0 1093.0,550.5 1098.5,549.8 1103.4,548.9 1105.2,548.3 1106.3,547.8 1107.1,547.4 1107.8,547.0 1108.6,546.6 1109.3,546.3 1110.4,545.8 1112.3,545.2 1117.1,544.3 1122.7,543.6 1126.4,543.1 1130.1,542.6 1135.7,541.8 1140.5,540.9 1142.4,540.4 1143.5,540.0 1144.2,539.7 1145.0,539.4 1145.7,539.1 1146.5,538.8 1147.6,538.4 1149.4,537.9 1154.3,537.0 1159.8,536.3 1163.6,535.8 1167.3,535.3 1172.8,534.5 1177.7,533.6 1179.5,533.1 1180.6,532.8 1181.4,532.6 1182.1,532.3 1182.9,532.1 1183.6,531.8 1184.7,531.5 1186.6,531.0 1191.4,530.1 1197.0,529.4 1200.7,528.9 1204.4,528.4 1210.0,527.6 1214.8,526.7 1216.7,526.3 1217.8,526.0 1218.5,525.8 1219.3,525.6 1220.0,525.3 1220.8,525.1 1221.9,524.8 1223.7,524.4 1228.6,523.6 1234.1,522.8 1237.9,522.3 1241.6,521.8 1247.1,521.0 1252.0,520.2 1253.8,519.8 1254.9,519.5 1255.7,519.4 1256.4,519.2 1257.2,519.0 1257.9,518.8 1259.0,518.6 1260.9,518.2 1265.7,517.4 1271.3,516.6 1275.0,516.1 1278.7,515.6 1284.3,514.8 1289.1,514.1 1291.0,513.7 1292.1,513.5 1292.8,513.3 1293.6,513.1 1294.3,513.0 1295.1,512.8 1296.2,512.6 1298.0,512.2 1302.9,511.5 1308.4,510.7 1312.2,510.2 1315.9,509.8 1321.4,509.0 1326.3,508.3 1328.1,507.9 1329.2,507.7 1330.0,507.6 1330.7,507.4 1331.5,507.3 1332.2,507.2 1333.3,507.0 1335.2,506.6 1340.0,505.9 1345.6,505.2 1349.3,504.7 1353.0,504.2 1358.6,503.5 1363.4,502.8 1365.3,502.5 1366.4,502.3 1367.1,502.2 1367.9,502.1 1368.6,501.9 1363.1,502.9" stroke="#8c1d5b"/>
<polyline points="886.0,639.0 886.2,621.8 886.2,618.7 886.2,615.3 886.3,611.6 886.3,607.6 886.4,603.5 886.4,599.5 886.5,595.6 886.6,592.0 886.8,589.0 886.9,586.7 887.1,585.0 887.3,583.9 887.6,583.3 888.0,583.0 888.4,582.9 889.0,582.8 889.7,582.8 890.5,582.8 891.5,582.7 892.7,582.7 894.2,582.7 896.1,582.6 898.4,582.5 901.2,582.5 904.6,582.4 907.2,582.3 912.8,582.1 917.6,581.9 919.5,581.4 920.6,580.4 921.3,579.1 922.1,577.3 922.8,575.6 923.6,574.3 924.7,573.3 926.5,572.9 931.4,572.7 936.9,572.5 940.7,572.4 944.4,572.2 949.9,571.8 954.8,571.4 956.6,570.7 957.7,569.6 958.5,568.6 959.2,567.3 960.0,566.0 960.7,564.9 961.8,563.9 963.7,563.3 968.5,562.8 974.1,562.4 977.8,562.2 981.5,561.9 987.1,561.3 991.9,560.6 993.8,559.7 994.9,558.8 995.6,557.9 996.4,556.9 997.1,555.9 997.9,555.0 999.0,554.1 1000.8,553.3 1005.7,552.6 1011.2,552.1 1015.0,551.7 1018.7,551.2 1024.2,550.4 1029.1,549.4 1030.9,548.4 1032.0,547.5 1032.8,546.7 1033.5,545.9 1034.3,545.0 1035.0,544.3 1036.1,543.4 1038.0,542.5 1042.8,541.5 1048.4,540.7 1052.1,540.2 1055.8,539.6 1061.4,538.6 1066.2,537.4 1068.1,536.4 1069.2,535.6 1069.9,535.0 1070.7,534.3 1071.4,533.6 1072.2,533.0 1073.3,532.2 1075.1,531.3 1080.0,530.1 1085.5,529.2 1089.3,528.6 1093.0,527.9 1098.5,527.0 1103.4,525.8 1105.2,525.1 1106.3,524.4 1107.1,524.0 1107.8,523.5 1108.6,523.0 1109.3,522.5 1110.4,521.9 1112.3,521.2 1117.1,520.1 1122.7,519.2 1126.4,518.6 1130.1,518.0 1135.7,517.1 1140.5,516.1 1142.4,515.5 1143.5,515.0 1144.2,514.7 1145.0,514.3 1145.7,514.0 1146.5,513.7 1147.6,513.2 1149.4,512.6 1154.3,511.6 1159.8,510.8 1163.6,510.2 1167.3,509.7 1172.8,508.8 1177.7,507.9 1179.5,507.3 1180.6,507.0 1181.4,506.7 1182.1,506.4 1182.9,506.1 1183.6,505.9 1184.7,505.5 1186.6,505.0 1191.4,504.0 1197.0,503.2 1200.7,502.7 1204.4,502.1 1210.0,501.3 1214.8,500.4 1216.7,500.0 1217.8,499.7 1218.5,499.4 1219.3,499.2 1220.0,499.0 1220.8,498.8 1221.9,498.5 1223.7,498.0 1228.6,497.2 1234.1,496.4 1237.9,495.8 1241.6,495.3 1247.1,494.6 1252.0,493.7 1253.8,493.4 1254.9,493.1 1255.7,492.9 1256.4,492.7 1257.2,492.6 1257.9,492.4 1259.0,492.1 1260.9,491.7 1265.7,491.0 1271.3,490.2 1275.0,489.7 1278.7,489.3 1284.3,488.5 1289.1,487.8 1291.0,487.5 1292.1,487.3 1292.8,487.1 1293.6,487.0 1294.3,486.8 1295.1,486.7 1296.2,486.5 1298.0,486.2 1302.9,485.5 1308.4,484.8 1312.2,484.3 1315.9,483.9 1321.4,483.2 1326.3,482.6 1328.1,482.3 1329.2,482.2 1330.0,482.0 1330.7,481.9 1331.5,481.8 1332.2,481.7 1333.3,481.5 1335.2,481.2 1340.0,480.6 1345.6,480.0 1349.3,479.6 1353.0,479.2 1358.6,478.7 1363.4,478.1 1365.3,477.9 1366.4,477.7 1367.1,477.7 1367.9,477.6 1368.6,477.5 1363.1,478.2" stroke="#a6195a"/>
<polyline points="886.0,639.0 886.2,617.4 886.2,613.6 886.2,609.4 886.3,604.8 886.3,599.9 886.4,594.9 886.4,590.0 886.5,585.3 886.6,581.0 886.8,577.4 886.9,574.5 887.1,572.5 887.3,571.2 887.6,570.5 888.0,570.1 888.4,570.0 889.0,569.9 889.7,569.9 890.5,569.9 891.5,569.8 892.7,569.8 894.2,569.8 896.1,569.7 898.4,569.6 901.2,569.5 904.6,569.4 907.2,569.3 912.8,569.1 917.6,568.9 919.5,568.3 920.6,567.1 921.3,565.5 922.1,563.4 922.8,561.4 923.6,559.9 924.7,558.7 926.5,558.1 931.4,557.9 936.9,557.7 940.7,557.6 944.4,557.3 949.9,556.9 954.8,556.3 956.6,555.5 957.7,554.3 958.5,553.1 959.2,551.5 960.0,550.1 960.7,548.8 961.8,547.7 963.7,546.9 968.5,546.4 974.1,545.9 977.8,545.7 981.5,545.3 987.1,544.6 991.9,543.8 993.8,542.8 994.9,541.7 995.6,540.7 996.4,539.6 997.1,538.4 997.9,537.4 999.0,536.4 1000.8,535.5 1005.7,534.7 1011.2,534.1 1015.0,533.6 1018.7,533.1 1024.2,532.2 1029.1,531.0 1030.9,529.9 1032.0,528.9 1032.8,528.0 1033.5,527.1 1034.3,526.1 1035.0,525.3 1036.1,524.3 1038.0,523.2 1042.8,522.2 1048.4,521.3 1052.1,520.7 1055.8,520.0 1061.4,518.9 1066.2,517.6 1068.1,516.6 1069.2,515.7 1069.9,515.0 1070.7,514.2 1071.4,513.5 1072.2,512.8 1073.3,511.9 1075.1,510.9 1080.0,509.7 1085.5,508.6 1089.3,508.0 1093.0,507.3 1098.5,506.3 1103.4,505.0 1105.2,504.2 1106.3,503.5 1107.1,503.0 1107.8,502.5 1108.6,502.0 1109.3,501.5 1110.4,500.8 1112.3,500.0 1117.1,498.9 1122.7,497.9 1126.4,497.3 1130.1,496.6 1135.7,495.7 1140.5,494.6 1142.4,494.0 1143.5,493.5 1144.2,493.2 1145.0,492.8 1145.7,492.4 1146.5,492.1 1147.6,491.6 1149.4,491.0 1154.3,490.0 1159.8,489.1 1163.6,488.5 1167.3,487.9 1172.8,487.0 1177.7,486.0 1179.5,485.5 1180.6,485.1 1181.4,484.8 1182.1,484.5 1182.9,484.3 1183.6,484.0 1184.7,483.6 1186.6,483.1 1191.4,482.1 1197.0,481.2 1200.7,480.7 1204.4,480.1 1210.0,479.3 1214.8,478.4 1216.7,477.9 1217.8,477.6 1218.5,477.4 1219.3,477.1 1220.0,476.9 1220.8,476.7 1221.9,476.4 1223.7,475.9 1228.6,475.0 1234.1,474.2 1237.9,473.7 1241.6,473.2 1247.1,472.4 1252.0,471.6 1253.8,471.2 1254.9,471.0 1255.7,470.8 1256.4,470.6 1257.2,470.4 1257.9,470.2 1259.0,470.0 1260.9,469.6 1265.7,468.8 1271.3,468.1 1275.0,467.6 1278.7,467.1 1284.3,466.4 1289.1,465.7 1291.0,465.4 1292.1,465.2 1292.8,465.0 1293.6,464.9 1294.3,464.7 1295.1,464.6 1296.2,464.4 1298.0,464.1 1302.9,463.4 1308.4,462.7 1312.2,462.2 1315.9,461.8 1321.4,461.2 1326.3,460.6 1328.1,460.3 1329.2,460.2 1330.0,460.0 1330.7,459.9 1331.5,459.8 1332.2,459.7 1333.3,459.5 1335.2,459.3 1340.0,458.7 1345.6,458.1 1349.3,457.7 1353.0,457.3 1358.6,456.8 1363.4,456.3 1365.3,456.1 1366.4,455.9 1367.1,455.8 1367.9,455.7 1368.6,455.7 1363.1,456.3" stroke="#bf1654"/>
<polyline points="886.0,639.0 886.2,613.6 886.2,609.1 886.2,604.2 886.3,598.9 886.3,593.3 886.4,587.6 886.4,581.9 886.5,576.6 886.6,571.7 886.8,567.7 886.9,564.5 887.1,562.2 887.3,560.7 887.6,559.9 888.0,559.5 888.4,559.3 889.0,559.3 889.7,559.2 890.5,559.2 891.5,559.2 892.7,559.1 894.2,559.0 896.1,559.0 898.4,558.9 901.2,558.8 904.6,558.6 907.2,558.5 912.8,558.3 917.6,558.0 919.5,557.2 920.6,555.7 921.3,553.8 922.1,551.2 922.8,548.7 923.6,546.9 924.7,545.4 926.5,544.7 931.4,544.4 936.9,544.2 940.7,544.1 944.4,543.8 949.9,543.3 954.8,542.7 956.6,541.7 957.7,540.4 958.5,538.9 959.2,537.2 960.0,535.5 960.7,534.1 961.8,532.8 963.7,531.9 968.5,531.4 974.1,530.9 977.8,530.6 981.5,530.1 987.1,529.4 991.9,528.5 993.8,527.4 994.9,526.2 995.6,525.1 996.4,523.9 997.1,522.7 997.9,521.6 999.0,520.4 1000.8,519.5 1005.7,518.6 1011.2,517.9 1015.0,517.5 1018.7,516.9 1024.2,515.9 1029.1,514.6 1030.9,513.5 1032.0,512.4 1032.8,511.4 1033.5,510.4 1034.3,509.4 1035.0,508.5 1036.1,507.4 1038.0,506.3 1042.8,505.2 1048.4,504.3 1052.1,503.7 1055.8,503.0 1061.4,501.8 1066.2,500.4 1068.1,499.3 1069.2,498.4 1069.9,497.7 1070.7,496.9 1071.4,496.1 1072.2,495.3 1073.3,494.4 1075.1,493.4 1080.0,492.1 1085.5,491.0 1089.3,490.4 1093.0,489.7 1098.5,488.6 1103.4,487.3 1105.2,486.4 1106.3,485.7 1107.1,485.2 1107.8,484.6 1108.6,484.1 1109.3,483.6 1110.4,482.9 1112.3,482.1 1117.1,480.9 1122.7,479.8 1126.4,479.2 1130.1,478.5 1135.7,477.6 1140.5,476.4 1142.4,475.8 1143.5,475.3 1144.2,474.9 1145.0,474.5 1145.7,474.1 1146.5,473.8 1147.6,473.3 1149.4,472.6 1154.3,471.5 1159.8,470.6 1163.6,470.0 1167.3,469.4 1172.8,468.5 1177.7,467.4 1179.5,466.9 1180.6,466.5 1181.4,466.2 1182.1,465.9 1182.9,465.6 1183.6,465.3 1184.7,464.9 1186.6,464.4 1191.4,463.4 1197.0,462.5 1200.7,461.9 1204.4,461.3 1210.0,460.5 1214.8,459.5 1216.7,459.0 1217.8,458.7 1218.5,458.5 1219.3,458.3 1220.0,458.0 1220.8,457.8 1221.9,457.5 1223.7,457.0 1228.6,456.1 1234.1,455.3 1237.9,454.7 1241.6,454.2 1247.1,453.4 1252.0,452.6 1253.8,452.2 1254.9,451.9 1255.7,451.7 1256.4,451.5 1257.2,451.4 1257.9,451.2 1259.0,450.9 1260.9,450.5 1265.7,449.7 1271.3,449.0 1275.0,448.5 1278.7,448.0 1284.3,447.3 1289.1,446.5 1291.0,446.2 1292.1,446.0 1292.8,445.8 1293.6,445.7 1294.3,445.5 1295.1,445.4 1296.2,445.2 1298.0,444.8 1302.9,444.1 1308.4,443.4 1312.2,443.0 1315.9,442.6 1321.4,441.9 1326.3,441.3 1328.1,441.0 1329.2,440.8 1330.0,440.7 1330.7,440.6 1331.5,440.5 1332.2,440.4 1333.3,440.2 1335.2,439.9 1340.0,439.3 1345.6,438.7 1349.3,438.3 1353.0,437.9 1358.6,437.4 1363.4,436.8 1365.3,436.6 1366.4,436.4 1367.1,436.3 1367.9,436.3 1368.6,436.2 1363.1,436.9" stroke="#d5224a"/>
<polyline points="886.0,639.0 886.2,608.8 886.2,603.7 886.2,597.9 886.3,591.8 886.3,585.3 886.4,578.7 886.4,572.2 886.5,566.1 886.6,560.6 886.8,556.0 886.9,552.4 887.1,549.8 887.3,548.2 887.6,547.3 888.0,546.8 888.4,546.7 889.0,546.6 889.7,546.6 890.5,546.5 891.5,546.5 892.7,546.4 894.2,546.4 896.1,546.3 898.4,546.2 901.2,546.1 904.6,545.9 907.2,545.8 912.8,545.6 917.6,545.3 919.5,544.5 920.6,542.9 921.3,541.0 922.1,538.4 922.8,535.8 923.6,534.0 924.7,532.5 926.5,531.8 931.4,531.5 936.9,531.3 940.7,531.1 944.4,530.8 949.9,530.2 954.8,529.5 956.6,528.4 957.7,526.7 958.5,525.1 959.2,523.0 960.0,521.1 960.7,519.5 961.8,517.9 963.7,516.9 968.5,516.2 974.1,515.7 977.8,515.3 981.5,514.8 987.1,513.9 991.9,512.8 993.8,511.6 994.9,510.2 995.6,508.9 996.4,507.4 997.1,506.0 997.9,504.7 999.0,503.4 1000.8,502.2 1005.7,501.2 1011.2,500.5 1015.0,499.9 1018.7,499.3 1024.2,498.2 1029.1,496.9 1030.9,495.7 1032.0,494.6 1032.8,493.6 1033.5,492.5 1034.3,491.4 1035.0,490.5 1036.1,489.4 1038.0,488.2 1042.8,487.0 1048.4,486.1 1052.1,485.5 1055.8,484.7 1061.4,483.6 1066.2,482.2 1068.1,481.1 1069.2,480.2 1069.9,479.4 1070.7,478.6 1071.4,477.9 1072.2,477.1 1073.3,476.2 1075.1,475.2 1080.0,473.9 1085.5,472.9 1089.3,472.2 1093.0,471.5 1098.5,470.4 1103.4,469.1 1105.2,468.2 1106.3,467.6 1107.1,467.0 1107.8,466.5 1108.6,466.0 1109.3,465.4 1110.4,464.8 1112.3,463.9 1117.1,462.7 1122.7,461.7 1126.4,461.1 1130.1,460.5 1135.7,459.5 1140.5,458.3 1142.4,457.7 1143.5,457.1 1144.2,456.8 1145.0,456.4 1145.7,456.0 1146.5,455.6 1147.6,455.2 1149.4,454.5 1154.3,453.4 1159.8,452.5 1163.6,451.9 1167.3,451.3 1172.8,450.4 1177.7,449.4 1179.5,448.8 1180.6,448.4 1181.4,448.1 1182.1,447.8 1182.9,447.5 1183.6,447.2 1184.7,446.8 1186.6,446.3 1191.4,445.3 1197.0,444.5 1200.7,443.9 1204.4,443.3 1210.0,442.5 1214.8,441.5 1216.7,441.1 1217.8,440.8 1218.5,440.5 1219.3,440.3 1220.0,440.1 1220.8,439.9 1221.9,439.6 1223.7,439.1 1228.6,438.2 1234.1,437.4 1237.9,436.9 1241.6,436.4 1247.1,435.6 1252.0,434.8 1253.8,434.4 1254.9,434.1 1255.7,434.0 1256.4,433.8 1257.2,433.6 1257.9,433.4 1259.0,433.2 1260.9,432.8 1265.7,432.0 1271.3,431.3 1275.0,430.8 1278.7,430.3 1284.3,429.6 1289.1,428.9 1291.0,428.6 1292.1,428.4 1292.8,428.2 1293.6,428.1 1294.3,428.0 1295.1,427.8 1296.2,427.6 1298.0,427.3 1302.9,426.6 1308.4,425.9 1312.2,425.5 1315.9,425.1 1321.4,424.5 1326.3,423.9 1328.1,423.6 1329.2,423.4 1330.0,423.3 1330.7,423.2 1331.5,423.1 1332.2,423.0 1333.3,422.8 1335.2,422.5 1340.0,422.0 1345.6,421.4 1349.3,421.0 1353.0,420.6 1358.6,420.1 1363.4,419.5 1365.3,419.3 1366.4,419.2 1367.1,419.1 1367.9,419.0 1368.6,418.9 1363.1,419.6" stroke="#e53940"/>
<polyline points="886.0,639.0 886.2,601.9 886.2,595.6 886.2,588.7 886.3,581.4 886.3,573.7 886.4,565.9 886.4,558.3 886.5,551.3 886.6,545.0 886.8,539.7 886.9,535.6 887.1,532.7 887.3,530.8 887.6,529.8 888.0,529.3 888.4,529.1 889.0,529.1 889.7,529.0 890.5,529.0 891.5,528.9 892.7,528.9 894.2,528.8 896.1,528.7 898.4,528.7 901.2,528.5 904.6,528.4 907.2,528.3 912.8,528.0 917.6,527.7 919.5,527.0 920.6,525.4 921.3,523.4 922.1,520.8 922.8,518.3 923.6,516.4 924.7,514.9 926.5,514.2 931.4,513.9 936.9,513.7 940.7,513.6 944.4,513.2 949.9,512.6 954.8,511.8 956.6,510.7 957.7,509.0 958.5,507.2 959.2,505.1 960.0,503.0 960.7,501.3 961.8,499.8 963.7,498.7 968.5,498.0 974.1,497.4 977.8,497.0 981.5,496.5 987.1,495.6 991.9,494.4 993.8,493.2 994.9,491.7 995.6,490.3 996.4,488.8 997.1,487.3 997.9,486.0 999.0,484.6 1000.8,483.4 1005.7,482.4 1011.2,481.6 1015.0,481.0 1018.7,480.4 1024.2,479.3 1029.1,478.0 1030.9,476.8 1032.0,475.7 1032.8,474.7 1033.5,473.6 1034.3,472.6 1035.0,471.6 1036.1,470.5 1038.0,469.4 1042.8,468.2 1048.4,467.2 1052.1,466.6 1055.8,465.9 1061.4,464.8 1066.2,463.4 1068.1,462.4 1069.2,461.5 1069.9,460.7 1070.7,460.0 1071.4,459.2 1072.2,458.5 1073.3,457.6 1075.1,456.7 1080.0,455.4 1085.5,454.4 1089.3,453.7 1093.0,453.1 1098.5,452.0 1103.4,450.7 1105.2,449.9 1106.3,449.2 1107.1,448.7 1107.8,448.2 1108.6,447.7 1109.3,447.2 1110.4,446.5 1112.3,445.7 1117.1,444.6 1122.7,443.6 1126.4,443.0 1130.1,442.4 1135.7,441.4 1140.5,440.3 1142.4,439.7 1143.5,439.2 1144.2,438.8 1145.0,438.4 1145.7,438.1 1146.5,437.7 1147.6,437.2 1149.4,436.6 1154.3,435.6 1159.8,434.7 1163.6,434.1 1167.3,433.6 1172.8,432.7 1177.7,431.7 1179.5,431.1 1180.6,430.8 1181.4,430.5 1182.1,430.2 1182.9,429.9 1183.6,429.7 1184.7,429.3 1186.6,428.8 1191.4,427.8 1197.0,427.0 1200.7,426.5 1204.4,426.0 1210.0,425.1 1214.8,424.3 1216.7,423.8 1217.8,423.5 1218.5,423.3 1219.3,423.1 1220.0,422.9 1220.8,422.7 1221.9,422.4 1223.7,422.0 1228.6,421.1 1234.1,420.4 1237.9,419.9 1241.6,419.4 1247.1,418.7 1252.0,417.9 1253.8,417.6 1254.9,417.3 1255.7,417.2 1256.4,417.0 1257.2,416.8 1257.9,416.7 1259.0,416.4 1260.9,416.1 1265.7,415.4 1271.3,414.7 1275.0,414.3 1278.7,413.8 1284.3,413.2 1289.1,412.5 1291.0,412.2 1292.1,412.0 1292.8,411.9 1293.6,411.8 1294.3,411.6 1295.1,411.5 1296.2,411.3 1298.0,411.0 1302.9,410.4 1308.4,409.8 1312.2,409.4 1315.9,409.0 1321.4,408.4 1326.3,407.9 1328.1,407.6 1329.2,407.5 1330.0,407.4 1330.7,407.3 1331.5,407.2 1332.2,407.0 1333.3,406.9 1335.2,406.7 1340.0,406.1 1345.6,405.6 1349.3,405.2 1353.0,404.9 1358.6,404.4 1363.4,403.9 1365.3,403.7 1366.4,403.6 1367.1,403.5 1367.9,403.4 1368.6,403.3 1363.1,403.9" stroke="#ef5640"/>
<polyline points="886.0,639.0 886.2,599.5 886.2,592.8 886.2,585.6 886.3,577.8 886.3,569.7 886.4,561.6 886.4,553.7 886.5,546.3 886.6,539.7 886.8,534.3 886.9,530.0 887.1,527.0 887.3,525.1 887.6,524.1 888.0,523.6 888.4,523.3 889.0,523.3 889.7,523.2 890.5,523.2 891.5,523.1 892.7,523.1 894.2,523.0 896.1,522.9 898.4,522.8 901.2,522.6 904.6,522.5 907.2,522.3 912.8,522.0 917.6,521.7 919.5,520.7 920.6,518.8 921.3,516.4 922.1,513.3 922.8,510.3 923.6,508.0 924.7,506.3 926.5,505.4 931.4,505.1 936.9,504.9 940.7,504.7 944.4,504.3 949.9,503.5 954.8,502.6 956.6,501.2 957.7,499.3 958.5,497.2 959.2,494.8 960.0,492.4 960.7,490.4 961.8,488.6 963.7,487.4 968.5,486.6 974.1,485.9 977.8,485.5 981.5,484.9 987.1,483.9 991.9,482.6 993.8,481.2 994.9,479.5 995.6,478.0 996.4,476.3 997.1,474.7 997.9,473.2 999.0,471.7 1000.8,470.4 1005.7,469.3 1011.2,468.4 1015.0,467.8 1018.7,467.1 1024.2,466.0 1029.1,464.7 1030.9,463.4 1032.0,462.2 1032.8,461.2 1033.5,460.1 1034.3,459.0 1035.0,458.0 1036.1,456.9 1038.0,455.7 1042.8,454.5 1048.4,453.5 1052.1,452.9 1055.8,452.2 1061.4,451.1 1066.2,449.7 1068.1,448.7 1069.2,447.8 1069.9,447.1 1070.7,446.3 1071.4,445.6 1072.2,444.9 1073.3,444.0 1075.1,443.0 1080.0,441.8 1085.5,440.8 1089.3,440.2 1093.0,439.5 1098.5,438.5 1103.4,437.2 1105.2,436.4 1106.3,435.8 1107.1,435.3 1107.8,434.8 1108.6,434.3 1109.3,433.8 1110.4,433.2 1112.3,432.4 1117.1,431.3 1122.7,430.4 1126.4,429.8 1130.1,429.2 1135.7,428.2 1140.5,427.2 1142.4,426.5 1143.5,426.1 1144.2,425.7 1145.0,425.4 1145.7,425.0 1146.5,424.7 1147.6,424.2 1149.4,423.6 1154.3,422.7 1159.8,421.8 1163.6,421.3 1167.3,420.7 1172.8,419.9 1177.7,419.0 1179.5,418.5 1180.6,418.1 1181.4,417.8 1182.1,417.6 1182.9,417.3 1183.6,417.1 1184.7,416.7 1186.6,416.2 1191.4,415.4 1197.0,414.6 1200.7,414.1 1204.4,413.6 1210.0,412.9 1214.8,412.1 1216.7,411.7 1217.8,411.4 1218.5,411.2 1219.3,411.0 1220.0,410.8 1220.8,410.6 1221.9,410.4 1223.7,410.0 1228.6,409.2 1234.1,408.5 1237.9,408.1 1241.6,407.7 1247.1,407.0 1252.0,406.3 1253.8,406.0 1254.9,405.8 1255.7,405.6 1256.4,405.5 1257.2,405.3 1257.9,405.2 1259.0,405.0 1260.9,404.6 1265.7,404.0 1271.3,403.4 1275.0,403.0 1278.7,402.6 1284.3,402.0 1289.1,401.5 1291.0,401.2 1292.1,401.0 1292.8,400.9 1293.6,400.8 1294.3,400.7 1295.1,400.6 1296.2,400.4 1298.0,400.1 1302.9,399.6 1308.4,399.1 1312.2,398.7 1315.9,398.4 1321.4,397.9 1326.3,397.4 1328.1,397.2 1329.2,397.0 1330.0,396.9 1330.7,396.8 1331.5,396.8 1332.2,396.7 1333.3,396.5 1335.2,396.3 1340.0,395.9 1345.6,395.4 1349.3,395.1 1353.0,394.8 1358.6,394.4 1363.4,394.0 1365.3,393.8 1366.4,393.7 1367.1,393.6 1367.9,393.5 1368.6,393.5 1363.1,394.0" stroke="#f3734e"/>
<polyline points="886.0,639.0 886.2,592.8 886.2,585.2 886.2,577.0 886.3,568.2 886.3,559.1 886.4,550.0 886.4,541.2 886.5,533.1 886.6,525.9 886.8,520.0 886.9,515.4 887.1,512.2 887.3,510.2 887.6,509.0 888.0,508.5 888.4,508.3 889.0,508.2 889.7,508.1 890.5,508.1 891.5,508.0 892.7,508.0 894.2,507.9 896.1,507.8 898.4,507.7 901.2,507.5 904.6,507.3 907.2,507.2 912.8,506.9 917.6,506.5 919.5,505.5 920.6,503.6 921.3,501.1 922.1,497.9 922.8,494.8 923.6,492.5 924.7,490.7 926.5,489.8 931.4,489.5 936.9,489.2 940.7,489.0 944.4,488.6 949.9,487.8 954.8,486.8 956.6,485.4 957.7,483.2 958.5,481.1 959.2,478.5 960.0,476.0 960.7,474.0 961.8,472.0 963.7,470.8 968.5,469.9 974.1,469.3 977.8,468.8 981.5,468.2 987.1,467.1 991.9,465.8 993.8,464.3 994.9,462.7 995.6,461.1 996.4,459.4 997.1,457.7 997.9,456.3 999.0,454.7 1000.8,453.4 1005.7,452.3 1011.2,451.4 1015.0,450.8 1018.7,450.2 1024.2,449.1 1029.1,447.8 1030.9,446.6 1032.0,445.5 1032.8,444.5 1033.5,443.5 1034.3,442.5 1035.0,441.5 1036.1,440.5 1038.0,439.4 1042.8,438.3 1048.4,437.4 1052.1,436.8 1055.8,436.1 1061.4,435.1 1066.2,433.9 1068.1,432.9 1069.2,432.1 1069.9,431.5 1070.7,430.8 1071.4,430.1 1072.2,429.5 1073.3,428.7 1075.1,427.8 1080.0,426.8 1085.5,425.9 1089.3,425.3 1093.0,424.7 1098.5,423.8 1103.4,422.7 1105.2,421.9 1106.3,421.3 1107.1,420.9 1107.8,420.4 1108.6,420.0 1109.3,419.6 1110.4,419.0 1112.3,418.3 1117.1,417.3 1122.7,416.5 1126.4,416.0 1130.1,415.4 1135.7,414.6 1140.5,413.6 1142.4,413.1 1143.5,412.7 1144.2,412.3 1145.0,412.0 1145.7,411.7 1146.5,411.4 1147.6,411.0 1149.4,410.5 1154.3,409.6 1159.8,408.9 1163.6,408.4 1167.3,407.9 1172.8,407.1 1177.7,406.3 1179.5,405.9 1180.6,405.6 1181.4,405.3 1182.1,405.1 1182.9,404.9 1183.6,404.7 1184.7,404.4 1186.6,403.9 1191.4,403.2 1197.0,402.5 1200.7,402.1 1204.4,401.7 1210.0,401.0 1214.8,400.3 1216.7,400.0 1217.8,399.7 1218.5,399.6 1219.3,399.4 1220.0,399.2 1220.8,399.1 1221.9,398.8 1223.7,398.5 1228.6,397.8 1234.1,397.3 1237.9,396.9 1241.6,396.5 1247.1,395.9 1252.0,395.4 1253.8,395.1 1254.9,394.9 1255.7,394.8 1256.4,394.6 1257.2,394.5 1257.9,394.4 1259.0,394.2 1260.9,394.0 1265.7,393.4 1271.3,392.9 1275.0,392.6 1278.7,392.3 1284.3,391.8 1289.1,391.3 1291.0,391.1 1292.1,390.9 1292.8,390.8 1293.6,390.7 1294.3,390.6 1295.1,390.5 1296.2,390.4 1298.0,390.2 1302.9,389.7 1308.4,389.3 1312.2,389.0 1315.9,388.7 1321.4,388.3 1326.3,387.9 1328.1,387.7 1329.2,387.6 1330.0,387.5 1330.7,387.5 1331.5,387.4 1332.2,387.3 1333.3,387.2 1335.2,387.0 1340.0,386.7 1345.6,386.3 1349.3,386.0 1353.0,385.8 1358.6,385.4 1363.4,385.1 1365.3,385.0 1366.4,384.9 1367.1,384.8 1367.9,384.8 1368.6,384.7 1363.1,385.1" stroke="#f58d64"/>
<polyline points="886.0,639.0 886.2,588.9 886.2,580.7 886.2,571.8 886.3,562.4 886.3,552.8 886.4,543.2 886.4,533.9 886.5,525.4 886.6,518.0 886.8,511.8 886.9,507.1 887.1,503.8 887.3,501.6 887.6,500.5 888.0,499.9 888.4,499.7 889.0,499.6 889.7,499.6 890.5,499.5 891.5,499.4 892.7,499.4 894.2,499.3 896.1,499.2 898.4,499.1 901.2,498.9 904.6,498.7 907.2,498.6 912.8,498.2 917.6,497.8 919.5,496.8 920.6,494.7 921.3,492.1 922.1,488.6 922.8,485.3 923.6,482.9 924.7,481.0 926.5,480.1 931.4,479.8 936.9,479.5 940.7,479.3 944.4,478.8 949.9,477.9 954.8,476.8 956.6,475.2 957.7,472.8 958.5,470.3 959.2,467.5 960.0,464.7 960.7,462.4 961.8,460.3 963.7,458.9 968.5,458.0 974.1,457.2 977.8,456.8 981.5,456.1 987.1,454.9 991.9,453.5 993.8,451.9 994.9,450.1 995.6,448.5 996.4,446.6 997.1,444.8 997.9,443.3 999.0,441.7 1000.8,440.3 1005.7,439.1 1011.2,438.2 1015.0,437.6 1018.7,437.0 1024.2,435.9 1029.1,434.7 1030.9,433.6 1032.0,432.5 1032.8,431.6 1033.5,430.6 1034.3,429.6 1035.0,428.8 1036.1,427.7 1038.0,426.8 1042.8,425.7 1048.4,424.8 1052.1,424.3 1055.8,423.7 1061.4,422.8 1066.2,421.7 1068.1,420.8 1069.2,420.1 1069.9,419.5 1070.7,418.9 1071.4,418.3 1072.2,417.7 1073.3,417.0 1075.1,416.3 1080.0,415.3 1085.5,414.5 1089.3,414.0 1093.0,413.5 1098.5,412.6 1103.4,411.6 1105.2,411.0 1106.3,410.5 1107.1,410.1 1107.8,409.7 1108.6,409.3 1109.3,408.9 1110.4,408.4 1112.3,407.8 1117.1,406.9 1122.7,406.2 1126.4,405.7 1130.1,405.2 1135.7,404.5 1140.5,403.6 1142.4,403.1 1143.5,402.7 1144.2,402.4 1145.0,402.1 1145.7,401.9 1146.5,401.6 1147.6,401.2 1149.4,400.8 1154.3,400.0 1159.8,399.3 1163.6,398.9 1167.3,398.5 1172.8,397.8 1177.7,397.1 1179.5,396.7 1180.6,396.4 1181.4,396.2 1182.1,396.0 1182.9,395.8 1183.6,395.6 1184.7,395.4 1186.6,395.0 1191.4,394.3 1197.0,393.8 1200.7,393.4 1204.4,393.0 1210.0,392.4 1214.8,391.8 1216.7,391.5 1217.8,391.3 1218.5,391.2 1219.3,391.0 1220.0,390.9 1220.8,390.8 1221.9,390.6 1223.7,390.3 1228.6,389.7 1234.1,389.2 1237.9,388.9 1241.6,388.6 1247.1,388.1 1252.0,387.6 1253.8,387.4 1254.9,387.2 1255.7,387.1 1256.4,387.0 1257.2,386.9 1257.9,386.8 1259.0,386.7 1260.9,386.4 1265.7,386.0 1271.3,385.6 1275.0,385.3 1278.7,385.0 1284.3,384.6 1289.1,384.2 1291.0,384.0 1292.1,383.9 1292.8,383.8 1293.6,383.7 1294.3,383.7 1295.1,383.6 1296.2,383.5 1298.0,383.3 1302.9,382.9 1308.4,382.6 1312.2,382.3 1315.9,382.1 1321.4,381.8 1326.3,381.4 1328.1,381.3 1329.2,381.2 1330.0,381.2 1330.7,381.1 1331.5,381.0 1332.2,381.0 1333.3,380.9 1335.2,380.7 1340.0,380.4 1345.6,380.1 1349.3,380.0 1353.0,379.8 1358.6,379.5 1363.4,379.2 1365.3,379.1 1366.4,379.0 1367.1,379.0 1367.9,378.9 1368.6,378.9 1363.1,379.2" stroke="#f6a67e"/>
<polyline points="886.0,639.0 886.2,586.0 886.2,577.5 886.2,568.2 886.3,558.5 886.3,548.4 886.4,538.5 886.4,528.9 886.5,520.2 886.6,512.5 886.8,506.2 886.9,501.4 887.1,498.0 887.3,495.9 887.6,494.7 888.0,494.1 888.4,493.9 889.0,493.8 889.7,493.7 890.5,493.7 891.5,493.6 892.7,493.5 894.2,493.4 896.1,493.3 898.4,493.2 901.2,493.0 904.6,492.8 907.2,492.6 912.8,492.2 917.6,491.8 919.5,490.6 920.6,488.2 921.3,485.3 922.1,481.5 922.8,477.8 923.6,475.2 924.7,473.1 926.5,472.1 931.4,471.7 936.9,471.4 940.7,471.2 944.4,470.7 949.9,469.7 954.8,468.5 956.6,466.7 957.7,464.2 958.5,461.5 959.2,458.5 960.0,455.5 960.7,453.1 961.8,450.9 963.7,449.5 968.5,448.5 974.1,447.7 977.8,447.2 981.5,446.5 987.1,445.3 991.9,443.9 993.8,442.3 994.9,440.4 995.6,438.8 996.4,436.9 997.1,435.1 997.9,433.6 999.0,431.9 1000.8,430.6 1005.7,429.4 1011.2,428.5 1015.0,427.9 1018.7,427.3 1024.2,426.3 1029.1,425.1 1030.9,424.0 1032.0,423.0 1032.8,422.1 1033.5,421.2 1034.3,420.2 1035.0,419.4 1036.1,418.4 1038.0,417.5 1042.8,416.5 1048.4,415.7 1052.1,415.2 1055.8,414.6 1061.4,413.8 1066.2,412.8 1068.1,412.0 1069.2,411.3 1069.9,410.8 1070.7,410.2 1071.4,409.7 1072.2,409.1 1073.3,408.5 1075.1,407.8 1080.0,406.9 1085.5,406.2 1089.3,405.8 1093.0,405.3 1098.5,404.5 1103.4,403.6 1105.2,403.1 1106.3,402.6 1107.1,402.2 1107.8,401.9 1108.6,401.5 1109.3,401.2 1110.4,400.8 1112.3,400.2 1117.1,399.5 1122.7,398.8 1126.4,398.4 1130.1,398.0 1135.7,397.3 1140.5,396.6 1142.4,396.1 1143.5,395.8 1144.2,395.6 1145.0,395.3 1145.7,395.1 1146.5,394.8 1147.6,394.5 1149.4,394.1 1154.3,393.5 1159.8,392.9 1163.6,392.5 1167.3,392.2 1172.8,391.6 1177.7,391.0 1179.5,390.7 1180.6,390.4 1181.4,390.3 1182.1,390.1 1182.9,389.9 1183.6,389.8 1184.7,389.5 1186.6,389.2 1191.4,388.7 1197.0,388.2 1200.7,387.9 1204.4,387.6 1210.0,387.1 1214.8,386.6 1216.7,386.4 1217.8,386.2 1218.5,386.1 1219.3,386.0 1220.0,385.8 1220.8,385.7 1221.9,385.6 1223.7,385.3 1228.6,384.9 1234.1,384.5 1237.9,384.2 1241.6,384.0 1247.1,383.6 1252.0,383.2 1253.8,383.0 1254.9,382.8 1255.7,382.8 1256.4,382.7 1257.2,382.6 1257.9,382.5 1259.0,382.4 1260.9,382.2 1265.7,381.8 1271.3,381.5 1275.0,381.3 1278.7,381.1 1284.3,380.8 1289.1,380.4 1291.0,380.3 1292.1,380.2 1292.8,380.1 1293.6,380.1 1294.3,380.0 1295.1,379.9 1296.2,379.9 1298.0,379.7 1302.9,379.4 1308.4,379.1 1312.2,379.0 1315.9,378.8 1321.4,378.5 1326.3,378.3 1328.1,378.2 1329.2,378.1 1330.0,378.0 1330.7,378.0 1331.5,378.0 1332.2,377.9 1333.3,377.8 1335.2,377.7 1340.0,377.5 1345.6,377.3 1349.3,377.1 1353.0,377.0 1358.6,376.8 1363.4,376.6 1365.3,376.5 1366.4,376.4 1367.1,376.4 1367.9,376.3 1368.6,376.3 1363.1,376.6" stroke="#f6be9b"/>
<polyline points="886.0,639.0 886.2,583.7 886.2,574.8 886.2,565.2 886.3,555.1 886.3,544.7 886.4,534.5 886.4,524.7 886.5,515.8 886.6,508.0 886.8,501.6 886.9,496.7 887.1,493.3 887.3,491.1 887.6,489.9 888.0,489.3 888.4,489.1 889.0,489.0 889.7,488.9 890.5,488.9 891.5,488.8 892.7,488.7 894.2,488.6 896.1,488.5 898.4,488.3 901.2,488.1 904.6,487.9 907.2,487.7 912.8,487.4 917.6,486.8 919.5,485.6 920.6,483.1 921.3,480.0 922.1,476.0 922.8,472.2 923.6,469.4 924.7,467.2 926.5,466.2 931.4,465.8 936.9,465.5 940.7,465.3 944.4,464.7 949.9,463.7 954.8,462.4 956.6,460.5 957.7,457.7 958.5,455.0 959.2,451.7 960.0,448.6 960.7,446.1 961.8,443.8 963.7,442.3 968.5,441.3 974.1,440.5 977.8,439.9 981.5,439.2 987.1,438.0 991.9,436.4 993.8,434.8 994.9,432.8 995.6,431.1 996.4,429.2 997.1,427.4 997.9,425.8 999.0,424.2 1000.8,422.8 1005.7,421.6 1011.2,420.7 1015.0,420.1 1018.7,419.4 1024.2,418.4 1029.1,417.2 1030.9,416.1 1032.0,415.1 1032.8,414.2 1033.5,413.3 1034.3,412.3 1035.0,411.5 1036.1,410.6 1038.0,409.6 1042.8,408.6 1048.4,407.9 1052.1,407.4 1055.8,406.8 1061.4,406.0 1066.2,405.0 1068.1,404.2 1069.2,403.6 1069.9,403.0 1070.7,402.5 1071.4,402.0 1072.2,401.5 1073.3,400.9 1075.1,400.2 1080.0,399.4 1085.5,398.7 1089.3,398.3 1093.0,397.8 1098.5,397.1 1103.4,396.3 1105.2,395.8 1106.3,395.4 1107.1,395.1 1107.8,394.7 1108.6,394.4 1109.3,394.1 1110.4,393.7 1112.3,393.3 1117.1,392.6 1122.7,392.0 1126.4,391.6 1130.1,391.3 1135.7,390.7 1140.5,390.1 1142.4,389.7 1143.5,389.4 1144.2,389.2 1145.0,389.0 1145.7,388.8 1146.5,388.6 1147.6,388.4 1149.4,388.0 1154.3,387.5 1159.8,387.0 1163.6,386.7 1167.3,386.4 1172.8,385.9 1177.7,385.4 1179.5,385.2 1180.6,385.0 1181.4,384.8 1182.1,384.7 1182.9,384.6 1183.6,384.4 1184.7,384.3 1186.6,384.0 1191.4,383.6 1197.0,383.2 1200.7,382.9 1204.4,382.7 1210.0,382.3 1214.8,381.9 1216.7,381.7 1217.8,381.6 1218.5,381.5 1219.3,381.4 1220.0,381.3 1220.8,381.2 1221.9,381.1 1223.7,380.9 1228.6,380.6 1234.1,380.2 1237.9,380.0 1241.6,379.8 1247.1,379.5 1252.0,379.2 1253.8,379.1 1254.9,379.0 1255.7,378.9 1256.4,378.9 1257.2,378.8 1257.9,378.8 1259.0,378.7 1260.9,378.5 1265.7,378.3 1271.3,378.0 1275.0,377.8 1278.7,377.7 1284.3,377.4 1289.1,377.2 1291.0,377.1 1292.1,377.0 1292.8,377.0 1293.6,376.9 1294.3,376.9 1295.1,376.8 1296.2,376.8 1298.0,376.7 1302.9,376.5 1308.4,376.3 1312.2,376.1 1315.9,376.0 1321.4,375.8 1326.3,375.6 1328.1,375.6 1329.2,375.5 1330.0,375.5 1330.7,375.5 1331.5,375.4 1332.2,375.4 1333.3,375.3 1335.2,375.3 1340.0,375.1 1345.6,374.9 1349.3,374.8 1353.0,374.7 1358.6,374.6 1363.4,374.4 1365.3,374.4 1366.4,374.4 1367.1,374.3 1367.9,374.3 1368.6,374.3 1363.1,374.5" stroke="#f8d4bc"/>
<polyline points="886.0,639.0 886.2,580.5 886.2,571.2 886.2,561.2 886.3,550.7 886.3,539.9 886.4,529.4 886.4,519.3 886.5,510.1 886.6,502.2 886.8,495.7 886.9,490.7 887.1,487.2 887.3,485.0 887.6,483.8 888.0,483.2 888.4,483.0 889.0,482.9 889.7,482.8 890.5,482.7 891.5,482.7 892.7,482.6 894.2,482.5 896.1,482.3 898.4,482.2 901.2,481.9 904.6,481.7 907.2,481.5 912.8,481.1 917.6,480.6 919.5,479.3 920.6,476.6 921.3,473.3 922.1,469.0 922.8,465.0 923.6,462.0 924.7,459.8 926.5,458.7 931.4,458.3 936.9,458.0 940.7,457.7 944.4,457.2 949.9,456.1 954.8,454.7 956.6,452.7 957.7,449.9 958.5,447.0 959.2,443.7 960.0,440.5 960.7,437.9 961.8,435.6 963.7,434.1 968.5,433.0 974.1,432.2 977.8,431.7 981.5,431.0 987.1,429.7 991.9,428.2 993.8,426.6 994.9,424.7 995.6,423.0 996.4,421.1 997.1,419.3 997.9,417.8 999.0,416.2 1000.8,414.8 1005.7,413.7 1011.2,412.8 1015.0,412.2 1018.7,411.6 1024.2,410.7 1029.1,409.6 1030.9,408.5 1032.0,407.6 1032.8,406.8 1033.5,405.9 1034.3,405.0 1035.0,404.3 1036.1,403.4 1038.0,402.5 1042.8,401.6 1048.4,400.9 1052.1,400.4 1055.8,400.0 1061.4,399.2 1066.2,398.3 1068.1,397.6 1069.2,397.0 1069.9,396.6 1070.7,396.1 1071.4,395.6 1072.2,395.2 1073.3,394.6 1075.1,394.0 1080.0,393.3 1085.5,392.7 1089.3,392.3 1093.0,391.9 1098.5,391.3 1103.4,390.6 1105.2,390.1 1106.3,389.8 1107.1,389.5 1107.8,389.2 1108.6,388.9 1109.3,388.7 1110.4,388.3 1112.3,387.9 1117.1,387.3 1122.7,386.8 1126.4,386.5 1130.1,386.2 1135.7,385.7 1140.5,385.1 1142.4,384.8 1143.5,384.6 1144.2,384.4 1145.0,384.2 1145.7,384.0 1146.5,383.9 1147.6,383.6 1149.4,383.3 1154.3,382.9 1159.8,382.5 1163.6,382.2 1167.3,382.0 1172.8,381.6 1177.7,381.1 1179.5,380.9 1180.6,380.7 1181.4,380.6 1182.1,380.5 1182.9,380.4 1183.6,380.3 1184.7,380.1 1186.6,379.9 1191.4,379.6 1197.0,379.2 1200.7,379.0 1204.4,378.8 1210.0,378.5 1214.8,378.2 1216.7,378.0 1217.8,377.9 1218.5,377.8 1219.3,377.8 1220.0,377.7 1220.8,377.6 1221.9,377.5 1223.7,377.4 1228.6,377.1 1234.1,376.8 1237.9,376.7 1241.6,376.5 1247.1,376.3 1252.0,376.0 1253.8,375.9 1254.9,375.8 1255.7,375.8 1256.4,375.7 1257.2,375.7 1257.9,375.6 1259.0,375.5 1260.9,375.4 1265.7,375.2 1271.3,375.0 1275.0,374.9 1278.7,374.8 1284.3,374.6 1289.1,374.4 1291.0,374.3 1292.1,374.3 1292.8,374.2 1293.6,374.2 1294.3,374.2 1295.1,374.1 1296.2,374.1 1298.0,374.0 1302.9,373.8 1308.4,373.7 1312.2,373.6 1315.9,373.5 1321.4,373.3 1326.3,373.2 1328.1,373.1 1329.2,373.1 1330.0,373.1 1330.7,373.1 1331.5,373.0 1332.2,373.0 1333.3,373.0 1335.2,372.9 1340.0,372.8 1345.6,372.7 1349.3,372.6 1353.0,372.5 1358.6,372.4 1363.4,372.3 1365.3,372.3 1366.4,372.2 1367.1,372.2 1367.9,372.2 1368.6,372.2 1363.1,372.3" stroke="#faebdd"/>
</g>
<rect x="316.0" y="45.3" width="475.15" height="270.0" fill="none" stroke="#000" stroke-width="3.33" stroke-linejoin="miter"/>
<path d="M301.40 315.30H316.00 M301.40 180.30H316.00 M301.40 45.30H316.00 M316.00 315.30V329.90 M613.00 315.30V329.90" stroke="#000" stroke-width="3.33" fill="none"/>
<rect x="886.05" y="45.3" width="475.15" height="270.0" fill="none" stroke="#000" stroke-width="3.33" stroke-linejoin="miter"/>
<path d="M871.45 315.30H886.05 M871.45 180.30H886.05 M871.45 45.30H886.05 M886.05 315.30V329.90 M1183.05 315.30V329.90" stroke="#000" stroke-width="3.33" fill="none"/>
<rect x="316.0" y="369.15" width="475.15" height="269.9" fill="none" stroke="#000" stroke-width="3.33" stroke-linejoin="miter"/>
<path d="M301.40 639.05H316.00 M301.40 504.10H316.00 M301.40 369.15H316.00 M316.00 639.05V653.65 M613.00 639.05V653.65" stroke="#000" stroke-width="3.33" fill="none"/>
<rect x="886.05" y="369.15" width="475.15" height="269.9" fill="none" stroke="#000" stroke-width="3.33" stroke-linejoin="miter"/>
<path d="M871.45 639.05H886.05 M871.45 504.10H886.05 M871.45 369.15H886.05 M886.05 639.05V653.65 M1183.05 639.05V653.65" stroke="#000" stroke-width="3.33" fill="none"/>
<rect x="1426.5" y="45.2" width="24.0" height="593.9" fill="url(#cb)" stroke="#000" stroke-width="3.33"/>
<path d="M1450.50 639.10H1465.10 M1450.50 604.16H1465.10 M1450.50 569.23H1465.10 M1450.50 534.29H1465.10 M1450.50 499.36H1465.10 M1450.50 464.42H1465.10 M1450.50 429.49H1465.10 M1450.50 394.55H1465.10 M1450.50 359.62H1465.10 M1450.50 324.68H1465.10 M1450.50 289.75H1465.10 M1450.50 254.81H1465.10 M1450.50 219.88H1465.10 M1450.50 184.94H1465.10 M1450.50 150.01H1465.10 M1450.50 115.07H1465.10 M1450.50 80.14H1465.10 M1450.50 45.20H1465.10" stroke="#000" stroke-width="3.33" fill="none"/>
<g font-family="'Liberation Serif', serif" fill="#000" stroke="#000" stroke-width="0.3">
<text x="553.2" y="29.8" font-size="42.5" text-anchor="middle" textLength="286.5" lengthAdjust="spacingAndGlyphs">maximum strain</text>
<text x="1123.8" y="29.4" font-size="42.5" text-anchor="middle">relaxed</text>
<text x="288.5" y="59.500000000000014" font-size="42.5" text-anchor="end">1.0</text>
<text x="288.5" y="194.5" font-size="42.5" text-anchor="end">0.5</text>
<text x="288.5" y="329.5" font-size="42.5" text-anchor="end">0.0</text>
<text x="288.5" y="383.34999999999997" font-size="42.5" text-anchor="end">1.0</text>
<text x="288.5" y="518.3" font-size="42.5" text-anchor="end">0.5</text>
<text x="288.5" y="653.25" font-size="42.5" text-anchor="end">0.0</text>
<text x="29.8" y="180.6" font-size="42.5" text-anchor="middle" transform="rotate(-90 29.8 180.6)" textLength="79.1" lengthAdjust="spacingAndGlyphs">with</text>
<text x="74.6" y="180.8" font-size="42.5" text-anchor="middle" transform="rotate(-90 74.6 180.8)" textLength="177.6" lengthAdjust="spacingAndGlyphs">cross-slip:</text>
<text x="30.4" y="504.1" font-size="42.5" text-anchor="middle" transform="rotate(-90 30.4 504.1)" textLength="136.0" lengthAdjust="spacingAndGlyphs">without</text>
<text x="75.2" y="503.6" font-size="42.5" text-anchor="middle" transform="rotate(-90 75.2 503.6)" textLength="177.3" lengthAdjust="spacingAndGlyphs">cross-slip:</text>
<text x="166.4" y="179.3" font-size="42.5" text-anchor="middle" transform="rotate(-90 166.4 179.3)">probability</text>
<text x="210.5" y="179.3" font-size="42.5" text-anchor="middle" transform="rotate(-90 210.5 179.3)" textLength="126.5" lengthAdjust="spacingAndGlyphs">density</text>
<text x="166.4" y="503.1" font-size="42.5" text-anchor="middle" transform="rotate(-90 166.4 503.1)">probability</text>
<text x="210.5" y="503.1" font-size="42.5" text-anchor="middle" transform="rotate(-90 210.5 503.1)" textLength="126.5" lengthAdjust="spacingAndGlyphs">density</text>
<text x="316.0" y="695.7" font-size="42.5" text-anchor="middle">0.000</text>
<text x="613.0" y="695.7" font-size="42.5" text-anchor="middle">0.005</text>
<text x="553.6" y="750.3" font-size="42.5" text-anchor="middle"><tspan font-style="italic">l</tspan> in <tspan font-style="italic">d</tspan></text>
<text x="886.05" y="695.7" font-size="42.5" text-anchor="middle">0.000</text>
<text x="1183.05" y="695.7" font-size="42.5" text-anchor="middle">0.005</text>
<text x="1123.6499999999999" y="750.3" font-size="42.5" text-anchor="middle"><tspan font-style="italic">l</tspan> in <tspan font-style="italic">d</tspan></text>
<text x="1478.6" y="647.9" font-size="25.5" text-anchor="start" textLength="13.9" lengthAdjust="spacingAndGlyphs">4</text>
<text x="1478.6" y="612.964705882353" font-size="25.5" text-anchor="start" textLength="13.9" lengthAdjust="spacingAndGlyphs">8</text>
<text x="1478.6" y="578.0294117647059" font-size="25.5" text-anchor="start" textLength="27.8" lengthAdjust="spacingAndGlyphs">12</text>
<text x="1478.6" y="543.0941176470587" font-size="25.5" text-anchor="start" textLength="27.8" lengthAdjust="spacingAndGlyphs">16</text>
<text x="1478.6" y="508.1588235294118" font-size="25.5" text-anchor="start" textLength="27.8" lengthAdjust="spacingAndGlyphs">20</text>
<text x="1478.6" y="473.22352941176473" font-size="25.5" text-anchor="start" textLength="27.8" lengthAdjust="spacingAndGlyphs">24</text>
<text x="1478.6" y="438.28823529411767" font-size="25.5" text-anchor="start" textLength="27.8" lengthAdjust="spacingAndGlyphs">28</text>
<text x="1478.6" y="403.35294117647067" font-size="25.5" text-anchor="start" textLength="27.8" lengthAdjust="spacingAndGlyphs">32</text>
<text x="1478.6" y="368.4176470588236" font-size="25.5" text-anchor="start" textLength="27.8" lengthAdjust="spacingAndGlyphs">36</text>
<text x="1478.6" y="333.4823529411765" font-size="25.5" text-anchor="start" textLength="27.8" lengthAdjust="spacingAndGlyphs">40</text>
<text x="1478.6" y="298.5470588235294" font-size="25.5" text-anchor="start" textLength="27.8" lengthAdjust="spacingAndGlyphs">44</text>
<text x="1478.6" y="263.61176470588236" font-size="25.5" text-anchor="start" textLength="27.8" lengthAdjust="spacingAndGlyphs">48</text>
<text x="1478.6" y="228.6764705882353" font-size="25.5" text-anchor="start" textLength="27.8" lengthAdjust="spacingAndGlyphs">52</text>
<text x="1478.6" y="193.7411764705883" font-size="25.5" text-anchor="start" textLength="27.8" lengthAdjust="spacingAndGlyphs">56</text>
<text x="1478.6" y="158.80588235294124" font-size="25.5" text-anchor="start" textLength="27.8" lengthAdjust="spacingAndGlyphs">60</text>
<text x="1478.6" y="123.87058823529416" font-size="25.5" text-anchor="start" textLength="27.8" lengthAdjust="spacingAndGlyphs">64</text>
<text x="1478.6" y="88.93529411764716" font-size="25.5" text-anchor="start" textLength="27.8" lengthAdjust="spacingAndGlyphs">68</text>
<text x="1478.6" y="54.00000000000004" font-size="25.5" text-anchor="start" textLength="27.8" lengthAdjust="spacingAndGlyphs">72</text>
<text x="1550" y="340.9" font-size="42.5" text-anchor="middle" transform="rotate(-90 1550 340.9)" textLength="303.5" lengthAdjust="spacingAndGlyphs">number of voxels</text>
</g>
</svg>
</body></html>
